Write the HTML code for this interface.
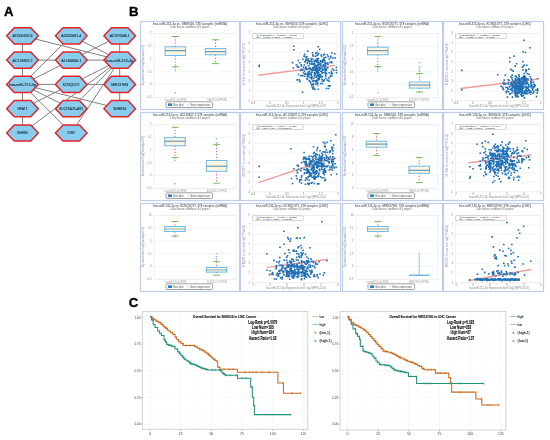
<!DOCTYPE html><html><head><meta charset="utf-8"><style>html,body{margin:0;padding:0;background:#fff;width:550px;height:440px;overflow:hidden}svg{display:block}text{font-family:"Liberation Sans",sans-serif}</style></head><body>
<svg width="550" height="440" viewBox="0 0 550 440"><g style="filter:opacity(0.999)">
<rect width="550" height="440" fill="#fff"/>
<text x="3.90" y="15.90" font-size="13.2" fill="#000" text-anchor="start" font-weight="bold" stroke="#000" stroke-width="0.35">A</text>
<text x="129.10" y="15.90" font-size="13.2" fill="#000" text-anchor="start" font-weight="bold" stroke="#000" stroke-width="0.35">B</text>
<text x="128.70" y="307.40" font-size="13.2" fill="#000" text-anchor="start" font-weight="bold" stroke="#000" stroke-width="0.35">C</text>
<g stroke="#808080" stroke-width="1" fill="none">
<line x1="22.5" y1="35.8" x2="22.5" y2="60.1"/>
<line x1="22.5" y1="60.1" x2="22.5" y2="84.4"/>
<line x1="22.5" y1="84.4" x2="22.5" y2="108.7"/>
<line x1="22.5" y1="108.7" x2="22.5" y2="133.0"/>
<line x1="119.7" y1="35.8" x2="119.7" y2="60.1"/>
<line x1="119.7" y1="60.1" x2="119.7" y2="84.4"/>
<line x1="119.7" y1="84.4" x2="119.7" y2="108.7"/>
<line x1="22.5" y1="60.1" x2="71.25" y2="60.1"/>
<line x1="71.25" y1="60.1" x2="119.7" y2="60.1"/>
<line x1="22.5" y1="84.4" x2="71.25" y2="84.4"/>
<line x1="71.25" y1="84.4" x2="119.7" y2="84.4"/>
<line x1="22.5" y1="35.8" x2="119.7" y2="60.1"/>
<line x1="71.25" y1="35.8" x2="119.7" y2="60.1"/>
<line x1="22.5" y1="84.4" x2="71.25" y2="35.8"/>
<line x1="22.5" y1="84.4" x2="119.7" y2="35.8"/>
<line x1="22.5" y1="84.4" x2="71.25" y2="108.7"/>
<line x1="22.5" y1="84.4" x2="71.25" y2="133.0"/>
<line x1="22.5" y1="84.4" x2="119.7" y2="108.7"/>
<line x1="119.7" y1="60.1" x2="22.5" y2="108.7"/>
<line x1="119.7" y1="60.1" x2="22.5" y2="133.0"/>
<line x1="119.7" y1="60.1" x2="71.25" y2="108.7"/>
<line x1="119.7" y1="60.1" x2="71.25" y2="133.0"/>
</g>
<polygon points="6.70,35.80 14.30,27.70 30.70,27.70 38.30,35.80 30.70,43.90 14.30,43.90" fill="#88cdee" stroke="#e4232b" stroke-width="1.5" stroke-linejoin="miter"/>
<text x="22.50" y="37.20" font-size="4.0" fill="#1c2a38" text-anchor="middle" font-weight="normal" textLength="20.0" lengthAdjust="spacingAndGlyphs" stroke="#1c2a38" stroke-width="0.12">AC005332.6</text>
<polygon points="6.70,60.10 14.30,52.00 30.70,52.00 38.30,60.10 30.70,68.20 14.30,68.20" fill="#88cdee" stroke="#e4232b" stroke-width="1.5" stroke-linejoin="miter"/>
<text x="22.50" y="61.50" font-size="4.0" fill="#1c2a38" text-anchor="middle" font-weight="normal" textLength="20.0" lengthAdjust="spacingAndGlyphs" stroke="#1c2a38" stroke-width="0.12">AC125807.2</text>
<polygon points="6.70,84.40 14.30,76.30 30.70,76.30 38.30,84.40 30.70,92.50 14.30,92.50" fill="#88cdee" stroke="#e4232b" stroke-width="1.5" stroke-linejoin="miter"/>
<text x="22.50" y="85.80" font-size="4.0" fill="#1c2a38" text-anchor="middle" font-weight="normal" textLength="27.0" lengthAdjust="spacingAndGlyphs" stroke="#1c2a38" stroke-width="0.12">hsa-miR-212-3p</text>
<polygon points="6.70,108.70 14.30,100.60 30.70,100.60 38.30,108.70 30.70,116.80 14.30,116.80" fill="#88cdee" stroke="#e4232b" stroke-width="1.5" stroke-linejoin="miter"/>
<text x="22.50" y="110.10" font-size="4.0" fill="#1c2a38" text-anchor="middle" font-weight="normal" textLength="10.0" lengthAdjust="spacingAndGlyphs" stroke="#1c2a38" stroke-width="0.12">NEAT1</text>
<polygon points="6.70,133.00 14.30,124.90 30.70,124.90 38.30,133.00 30.70,141.10 14.30,141.10" fill="#88cdee" stroke="#e4232b" stroke-width="1.5" stroke-linejoin="miter"/>
<text x="22.50" y="134.40" font-size="4.0" fill="#1c2a38" text-anchor="middle" font-weight="normal" textLength="11.0" lengthAdjust="spacingAndGlyphs" stroke="#1c2a38" stroke-width="0.12">SNHG5</text>
<polygon points="55.45,35.80 63.05,27.70 79.45,27.70 87.05,35.80 79.45,43.90 63.05,43.90" fill="#88cdee" stroke="#e4232b" stroke-width="1.5" stroke-linejoin="miter"/>
<text x="71.25" y="37.20" font-size="4.0" fill="#1c2a38" text-anchor="middle" font-weight="normal" textLength="20.0" lengthAdjust="spacingAndGlyphs" stroke="#1c2a38" stroke-width="0.12">AC020661.4</text>
<polygon points="55.45,60.10 63.05,52.00 79.45,52.00 87.05,60.10 79.45,68.20 63.05,68.20" fill="#88cdee" stroke="#e4232b" stroke-width="1.5" stroke-linejoin="miter"/>
<text x="71.25" y="61.50" font-size="4.0" fill="#1c2a38" text-anchor="middle" font-weight="normal" textLength="20.0" lengthAdjust="spacingAndGlyphs" stroke="#1c2a38" stroke-width="0.12">AL160006.1</text>
<polygon points="55.45,84.40 63.05,76.30 79.45,76.30 87.05,84.40 79.45,92.50 63.05,92.50" fill="#88cdee" stroke="#e4232b" stroke-width="1.5" stroke-linejoin="miter"/>
<text x="71.25" y="85.80" font-size="4.0" fill="#1c2a38" text-anchor="middle" font-weight="normal" textLength="17.0" lengthAdjust="spacingAndGlyphs" stroke="#1c2a38" stroke-width="0.12">KCNQ1OT1</text>
<polygon points="55.45,108.70 63.05,100.60 79.45,100.60 87.05,108.70 79.45,116.80 63.05,116.80" fill="#88cdee" stroke="#e4232b" stroke-width="1.5" stroke-linejoin="miter"/>
<text x="71.25" y="110.10" font-size="4.0" fill="#1c2a38" text-anchor="middle" font-weight="normal" textLength="24.0" lengthAdjust="spacingAndGlyphs" stroke="#1c2a38" stroke-width="0.12">SLC25A25-AS1</text>
<polygon points="55.45,133.00 63.05,124.90 79.45,124.90 87.05,133.00 79.45,141.10 63.05,141.10" fill="#88cdee" stroke="#e4232b" stroke-width="1.5" stroke-linejoin="miter"/>
<text x="71.25" y="134.40" font-size="4.0" fill="#1c2a38" text-anchor="middle" font-weight="normal" textLength="8.0" lengthAdjust="spacingAndGlyphs" stroke="#1c2a38" stroke-width="0.12">XIST</text>
<polygon points="103.90,35.80 111.50,27.70 127.90,27.70 135.50,35.80 127.90,43.90 111.50,43.90" fill="#88cdee" stroke="#e4232b" stroke-width="1.5" stroke-linejoin="miter"/>
<text x="119.70" y="37.20" font-size="4.0" fill="#1c2a38" text-anchor="middle" font-weight="normal" textLength="20.0" lengthAdjust="spacingAndGlyphs" stroke="#1c2a38" stroke-width="0.12">AC073046.1</text>
<polygon points="103.90,60.10 111.50,52.00 127.90,52.00 135.50,60.10 127.90,68.20 111.50,68.20" fill="#88cdee" stroke="#e4232b" stroke-width="1.5" stroke-linejoin="miter"/>
<text x="119.70" y="61.50" font-size="4.0" fill="#1c2a38" text-anchor="middle" font-weight="normal" textLength="27.0" lengthAdjust="spacingAndGlyphs" stroke="#1c2a38" stroke-width="0.12">hsa-miR-132-3p</text>
<polygon points="103.90,84.40 111.50,76.30 127.90,76.30 135.50,84.40 127.90,92.50 111.50,92.50" fill="#88cdee" stroke="#e4232b" stroke-width="1.5" stroke-linejoin="miter"/>
<text x="119.70" y="85.80" font-size="4.0" fill="#1c2a38" text-anchor="middle" font-weight="normal" textLength="17.0" lengthAdjust="spacingAndGlyphs" stroke="#1c2a38" stroke-width="0.12">MIR137HG</text>
<polygon points="103.90,108.70 111.50,100.60 127.90,100.60 135.50,108.70 127.90,116.80 111.50,116.80" fill="#88cdee" stroke="#e4232b" stroke-width="1.5" stroke-linejoin="miter"/>
<text x="119.70" y="110.10" font-size="4.0" fill="#1c2a38" text-anchor="middle" font-weight="normal" textLength="13.0" lengthAdjust="spacingAndGlyphs" stroke="#1c2a38" stroke-width="0.12">SNHG16</text>
<rect x="140.50" y="21.50" width="99.00" height="88.00" fill="#fff" stroke="#bfcde8" stroke-width="1.2"/>
<text x="190.00" y="24.80" font-size="2.7" fill="#6a6a6a" text-anchor="middle" font-weight="bold" textLength="74.0" lengthAdjust="spacingAndGlyphs">hsa-miR-212-3p vs. SNHG16, 578 samples (miRNA)</text>
<text x="190.00" y="28.20" font-size="2.7" fill="#666" text-anchor="middle" font-weight="normal" textLength="39.0" lengthAdjust="spacingAndGlyphs">Data Source: starBase v3.0 project</text>
<rect x="154" y="33.3" width="82" height="64.0" fill="#fff" stroke="#e6e6e6" stroke-width="0.6"/>
<line x1="154" y1="33.30" x2="236" y2="33.30" stroke="#efefef" stroke-width="0.6"/>
<text x="151.50" y="34.20" font-size="2.7" fill="#888" text-anchor="end" font-weight="normal">2</text>
<line x1="154" y1="46.10" x2="236" y2="46.10" stroke="#efefef" stroke-width="0.6"/>
<text x="151.50" y="47.00" font-size="2.7" fill="#888" text-anchor="end" font-weight="normal">1.5</text>
<line x1="154" y1="58.90" x2="236" y2="58.90" stroke="#efefef" stroke-width="0.6"/>
<text x="151.50" y="59.80" font-size="2.7" fill="#888" text-anchor="end" font-weight="normal">1</text>
<line x1="154" y1="71.70" x2="236" y2="71.70" stroke="#efefef" stroke-width="0.6"/>
<text x="151.50" y="72.60" font-size="2.7" fill="#888" text-anchor="end" font-weight="normal">0.5</text>
<line x1="154" y1="84.50" x2="236" y2="84.50" stroke="#efefef" stroke-width="0.6"/>
<text x="151.50" y="85.40" font-size="2.7" fill="#888" text-anchor="end" font-weight="normal">0</text>
<line x1="154" y1="97.30" x2="236" y2="97.30" stroke="#efefef" stroke-width="0.6"/>
<text x="151.50" y="98.20" font-size="2.7" fill="#888" text-anchor="end" font-weight="normal">-0.5</text>
<text x="144.30" y="65.30" font-size="2.8" fill="#888" text-anchor="middle" font-weight="normal" textLength="40.0" lengthAdjust="spacingAndGlyphs" transform="rotate(-90 144.30 65.30)">Expression level: log2(Intensity+0.01)</text>
<text x="175.50" y="100.90" font-size="2.6" fill="#999" text-anchor="middle" font-weight="normal" textLength="22.0" lengthAdjust="spacingAndGlyphs">hsa-miR-212-3p (RPM)</text>
<text x="217.00" y="100.90" font-size="2.6" fill="#999" text-anchor="middle" font-weight="normal" textLength="20.0" lengthAdjust="spacingAndGlyphs">SNHG16 (FPKM)</text>
<rect x="166" y="101.8" width="46.6" height="5.7" rx="1" fill="#fff" stroke="#8a8a8a" stroke-width="0.8"/>
<rect x="168" y="103.39999999999999" width="4" height="2.6" fill="#2a7fc0"/>
<text x="173.50" y="105.90" font-size="2.6" fill="#555" text-anchor="start" font-weight="normal" textLength="10.0" lengthAdjust="spacingAndGlyphs">Box plot</text>
<rect x="187.5" y="104.1" width="1.2" height="1.2" fill="#9cd0f0"/>
<text x="190.00" y="105.90" font-size="2.6" fill="#555" text-anchor="start" font-weight="normal" textLength="20.0" lengthAdjust="spacingAndGlyphs">Gene expression</text>
<line x1="175.30" y1="67.00" x2="175.30" y2="72.00" stroke="#7cc0ea" stroke-width="1.5" stroke-dasharray="1.3 1"/>
<rect x="174.50" y="92.00" width="1.6" height="1.40" fill="#8fc8ec"/>
<line x1="175.3" y1="36.5" x2="175.3" y2="46.8" stroke="#dc4848" stroke-width="1.1" stroke-dasharray="1 2"/>
<line x1="175.3" y1="55.5" x2="175.3" y2="66.8" stroke="#dc4848" stroke-width="1.1" stroke-dasharray="1 2"/>
<line x1="171.90" y1="36.5" x2="178.70" y2="36.5" stroke="#70c050" stroke-width="1"/>
<line x1="171.90" y1="66.8" x2="178.70" y2="66.8" stroke="#70c050" stroke-width="1"/>
<rect x="165.05" y="46.80" width="20.50" height="8.70" fill="#fcf6e0" stroke="#6cbbe8" stroke-width="1"/>
<line x1="165.05" y1="50.7" x2="185.55" y2="50.7" stroke="#3b78a8" stroke-width="0.9"/>
<line x1="215.5" y1="39.8" x2="215.5" y2="48.6" stroke="#dc4848" stroke-width="1.1" stroke-dasharray="1 2"/>
<line x1="215.5" y1="54.8" x2="215.5" y2="63.6" stroke="#dc4848" stroke-width="1.1" stroke-dasharray="1 2"/>
<line x1="212.10" y1="39.8" x2="218.90" y2="39.8" stroke="#70c050" stroke-width="1"/>
<line x1="212.10" y1="63.6" x2="218.90" y2="63.6" stroke="#70c050" stroke-width="1"/>
<rect x="205.25" y="48.60" width="20.50" height="6.20" fill="#fcf6e0" stroke="#6cbbe8" stroke-width="1"/>
<line x1="205.25" y1="51.7" x2="225.75" y2="51.7" stroke="#3b78a8" stroke-width="0.9"/>
<rect x="240.50" y="21.50" width="100.00" height="88.00" fill="#fff" stroke="#bfcde8" stroke-width="1.2"/>
<text x="292.00" y="24.80" font-size="2.7" fill="#6a6a6a" text-anchor="middle" font-weight="bold" textLength="72.0" lengthAdjust="spacingAndGlyphs">hsa-miR-212-3p vs. SNHG16, 578 samples (LIHC)</text>
<text x="292.00" y="28.20" font-size="2.7" fill="#666" text-anchor="middle" font-weight="normal" textLength="37.0" lengthAdjust="spacingAndGlyphs">Data Source: starBase v3.0 project</text>
<rect x="252.3" y="33.3" width="84.70" height="67.50" fill="#fff" stroke="#e6e6e6" stroke-width="0.6"/>
<line x1="252.3" y1="33.30" x2="337" y2="33.30" stroke="#efefef" stroke-width="0.6"/>
<text x="250.00" y="34.20" font-size="2.6" fill="#888" text-anchor="end" font-weight="normal">7</text>
<line x1="252.3" y1="42.94" x2="337" y2="42.94" stroke="#efefef" stroke-width="0.6"/>
<text x="250.00" y="43.84" font-size="2.6" fill="#888" text-anchor="end" font-weight="normal">6</text>
<line x1="252.3" y1="52.59" x2="337" y2="52.59" stroke="#efefef" stroke-width="0.6"/>
<text x="250.00" y="53.49" font-size="2.6" fill="#888" text-anchor="end" font-weight="normal">5</text>
<line x1="252.3" y1="62.23" x2="337" y2="62.23" stroke="#efefef" stroke-width="0.6"/>
<text x="250.00" y="63.13" font-size="2.6" fill="#888" text-anchor="end" font-weight="normal">4</text>
<line x1="252.3" y1="71.87" x2="337" y2="71.87" stroke="#efefef" stroke-width="0.6"/>
<text x="250.00" y="72.77" font-size="2.6" fill="#888" text-anchor="end" font-weight="normal">3</text>
<line x1="252.3" y1="81.51" x2="337" y2="81.51" stroke="#efefef" stroke-width="0.6"/>
<text x="250.00" y="82.41" font-size="2.6" fill="#888" text-anchor="end" font-weight="normal">2</text>
<line x1="252.3" y1="91.16" x2="337" y2="91.16" stroke="#efefef" stroke-width="0.6"/>
<text x="250.00" y="92.06" font-size="2.6" fill="#888" text-anchor="end" font-weight="normal">1</text>
<line x1="252.3" y1="100.80" x2="337" y2="100.80" stroke="#efefef" stroke-width="0.6"/>
<text x="250.00" y="101.70" font-size="2.6" fill="#888" text-anchor="end" font-weight="normal">0</text>
<text x="253.00" y="104.40" font-size="2.8" fill="#777" text-anchor="middle" font-weight="normal">-0.6</text>
<text x="269.94" y="104.40" font-size="2.8" fill="#777" text-anchor="middle" font-weight="normal">0</text>
<text x="286.88" y="104.40" font-size="2.8" fill="#777" text-anchor="middle" font-weight="normal">0.5</text>
<text x="303.82" y="104.40" font-size="2.8" fill="#777" text-anchor="middle" font-weight="normal">1</text>
<text x="320.76" y="104.40" font-size="2.8" fill="#777" text-anchor="middle" font-weight="normal">1.5</text>
<text x="337.70" y="104.40" font-size="2.8" fill="#777" text-anchor="middle" font-weight="normal">2</text>
<text x="296.00" y="107.30" font-size="2.6" fill="#888" text-anchor="middle" font-weight="normal" textLength="60.0" lengthAdjust="spacingAndGlyphs">hsa-miR-212-3p: Expression level: log2(RPM+0.01)</text>
<text x="245.20" y="64.50" font-size="2.6" fill="#888" text-anchor="middle" font-weight="normal" textLength="42.0" lengthAdjust="spacingAndGlyphs" transform="rotate(-90 245.20 64.50)">SNHG16: Expression level: log2(FPKM+0.01)</text>
<line x1="258.4" y1="75.2" x2="335" y2="65.4" stroke="#f29a9a" stroke-width="1.4"/>
<path d="M316.5 67.5h1.6v1.6h-1.6zM319.3 68.1h1.6v1.6h-1.6zM313.9 60.1h1.6v1.6h-1.6zM308.0 73.0h1.6v1.6h-1.6zM312.2 58.2h1.6v1.6h-1.6zM307.1 59.5h1.6v1.6h-1.6zM317.1 82.2h1.6v1.6h-1.6zM329.2 61.4h1.6v1.6h-1.6zM311.8 80.3h1.6v1.6h-1.6zM310.6 84.5h1.6v1.6h-1.6zM321.2 72.5h1.6v1.6h-1.6zM319.9 75.3h1.6v1.6h-1.6zM317.5 88.5h1.6v1.6h-1.6zM307.7 68.1h1.6v1.6h-1.6zM316.2 64.4h1.6v1.6h-1.6zM323.1 57.1h1.6v1.6h-1.6zM303.7 70.4h1.6v1.6h-1.6zM312.2 84.1h1.6v1.6h-1.6zM298.4 79.1h1.6v1.6h-1.6zM304.2 61.1h1.6v1.6h-1.6zM299.0 61.9h1.6v1.6h-1.6zM314.3 65.2h1.6v1.6h-1.6zM304.5 72.8h1.6v1.6h-1.6zM319.1 68.0h1.6v1.6h-1.6zM318.0 72.0h1.6v1.6h-1.6zM314.7 72.8h1.6v1.6h-1.6zM292.6 67.2h1.6v1.6h-1.6zM311.4 69.6h1.6v1.6h-1.6zM316.0 72.0h1.6v1.6h-1.6zM317.6 69.2h1.6v1.6h-1.6zM302.0 74.8h1.6v1.6h-1.6zM312.0 87.8h1.6v1.6h-1.6zM307.2 75.6h1.6v1.6h-1.6zM308.8 70.5h1.6v1.6h-1.6zM326.6 54.0h1.6v1.6h-1.6zM308.8 73.7h1.6v1.6h-1.6zM316.2 51.5h1.6v1.6h-1.6zM324.9 56.6h1.6v1.6h-1.6zM311.0 78.1h1.6v1.6h-1.6zM315.4 76.7h1.6v1.6h-1.6zM317.5 68.6h1.6v1.6h-1.6zM317.1 53.8h1.6v1.6h-1.6zM304.9 66.5h1.6v1.6h-1.6zM317.2 63.6h1.6v1.6h-1.6zM329.4 76.0h1.6v1.6h-1.6zM301.8 91.4h1.6v1.6h-1.6zM324.7 72.1h1.6v1.6h-1.6zM317.6 62.6h1.6v1.6h-1.6zM310.4 58.9h1.6v1.6h-1.6zM335.5 69.5h1.6v1.6h-1.6zM323.7 68.3h1.6v1.6h-1.6zM305.1 59.1h1.6v1.6h-1.6zM317.2 71.1h1.6v1.6h-1.6zM322.0 59.1h1.6v1.6h-1.6zM314.7 80.6h1.6v1.6h-1.6zM323.0 80.1h1.6v1.6h-1.6zM315.9 80.3h1.6v1.6h-1.6zM322.8 65.5h1.6v1.6h-1.6zM330.2 74.9h1.6v1.6h-1.6zM310.1 68.7h1.6v1.6h-1.6zM318.4 66.3h1.6v1.6h-1.6zM312.1 66.8h1.6v1.6h-1.6zM317.7 57.7h1.6v1.6h-1.6zM305.2 56.3h1.6v1.6h-1.6zM311.0 77.5h1.6v1.6h-1.6zM314.6 68.2h1.6v1.6h-1.6zM325.0 72.1h1.6v1.6h-1.6zM327.4 79.5h1.6v1.6h-1.6zM303.9 53.5h1.6v1.6h-1.6zM309.0 62.6h1.6v1.6h-1.6zM322.6 71.7h1.6v1.6h-1.6zM297.6 73.7h1.6v1.6h-1.6zM312.1 66.4h1.6v1.6h-1.6zM315.6 79.8h1.6v1.6h-1.6zM328.4 72.0h1.6v1.6h-1.6zM323.0 58.5h1.6v1.6h-1.6zM313.4 61.2h1.6v1.6h-1.6zM313.0 77.7h1.6v1.6h-1.6zM314.1 74.4h1.6v1.6h-1.6zM331.0 52.0h1.6v1.6h-1.6zM312.4 82.8h1.6v1.6h-1.6zM313.6 75.7h1.6v1.6h-1.6zM319.8 82.8h1.6v1.6h-1.6zM315.4 66.4h1.6v1.6h-1.6zM314.6 67.2h1.6v1.6h-1.6zM305.9 59.3h1.6v1.6h-1.6zM312.3 68.3h1.6v1.6h-1.6zM327.6 85.1h1.6v1.6h-1.6zM322.7 63.9h1.6v1.6h-1.6zM316.3 71.6h1.6v1.6h-1.6zM322.8 54.1h1.6v1.6h-1.6zM313.3 66.4h1.6v1.6h-1.6zM326.5 79.3h1.6v1.6h-1.6zM316.4 58.1h1.6v1.6h-1.6zM322.0 80.2h1.6v1.6h-1.6zM304.2 73.2h1.6v1.6h-1.6zM319.8 60.1h1.6v1.6h-1.6zM300.5 65.2h1.6v1.6h-1.6zM297.2 65.6h1.6v1.6h-1.6zM313.6 69.5h1.6v1.6h-1.6zM308.0 64.9h1.6v1.6h-1.6zM318.1 62.1h1.6v1.6h-1.6zM308.6 60.2h1.6v1.6h-1.6zM310.6 57.7h1.6v1.6h-1.6zM318.5 69.5h1.6v1.6h-1.6zM321.2 78.4h1.6v1.6h-1.6zM314.8 55.5h1.6v1.6h-1.6zM314.5 70.0h1.6v1.6h-1.6zM323.2 63.8h1.6v1.6h-1.6zM321.4 60.7h1.6v1.6h-1.6zM306.7 78.1h1.6v1.6h-1.6zM315.7 65.1h1.6v1.6h-1.6zM316.8 84.2h1.6v1.6h-1.6zM306.5 62.6h1.6v1.6h-1.6zM319.0 73.7h1.6v1.6h-1.6zM308.3 67.8h1.6v1.6h-1.6zM325.7 62.8h1.6v1.6h-1.6zM318.3 75.6h1.6v1.6h-1.6zM317.3 68.5h1.6v1.6h-1.6zM310.9 75.7h1.6v1.6h-1.6zM315.4 69.6h1.6v1.6h-1.6zM297.5 59.7h1.6v1.6h-1.6zM305.8 69.0h1.6v1.6h-1.6zM319.9 70.5h1.6v1.6h-1.6zM296.3 79.1h1.6v1.6h-1.6zM324.5 61.4h1.6v1.6h-1.6zM299.9 69.6h1.6v1.6h-1.6zM323.7 53.6h1.6v1.6h-1.6zM308.5 76.2h1.6v1.6h-1.6zM323.9 59.7h1.6v1.6h-1.6zM317.7 52.8h1.6v1.6h-1.6zM301.9 69.4h1.6v1.6h-1.6zM328.4 80.5h1.6v1.6h-1.6zM330.2 55.5h1.6v1.6h-1.6zM315.9 59.7h1.6v1.6h-1.6zM313.9 62.9h1.6v1.6h-1.6zM315.0 59.3h1.6v1.6h-1.6zM307.2 73.6h1.6v1.6h-1.6zM326.9 62.3h1.6v1.6h-1.6zM311.3 63.1h1.6v1.6h-1.6zM316.0 75.5h1.6v1.6h-1.6zM309.0 62.8h1.6v1.6h-1.6zM310.6 74.1h1.6v1.6h-1.6zM304.4 60.8h1.6v1.6h-1.6zM328.4 58.5h1.6v1.6h-1.6zM315.0 52.6h1.6v1.6h-1.6zM325.7 87.7h1.6v1.6h-1.6zM316.6 67.0h1.6v1.6h-1.6zM309.9 72.3h1.6v1.6h-1.6zM313.4 69.7h1.6v1.6h-1.6zM311.2 71.5h1.6v1.6h-1.6zM316.6 70.5h1.6v1.6h-1.6zM312.9 88.1h1.6v1.6h-1.6zM313.7 60.1h1.6v1.6h-1.6zM303.4 55.2h1.6v1.6h-1.6zM308.8 60.4h1.6v1.6h-1.6zM332.2 57.3h1.6v1.6h-1.6zM310.1 77.1h1.6v1.6h-1.6zM306.5 77.8h1.6v1.6h-1.6zM319.7 60.9h1.6v1.6h-1.6zM329.9 56.8h1.6v1.6h-1.6zM302.7 66.6h1.6v1.6h-1.6zM314.5 83.2h1.6v1.6h-1.6zM299.8 75.0h1.6v1.6h-1.6zM323.5 59.8h1.6v1.6h-1.6zM316.3 79.9h1.6v1.6h-1.6zM317.2 59.8h1.6v1.6h-1.6zM309.4 67.3h1.6v1.6h-1.6zM320.8 55.7h1.6v1.6h-1.6zM311.4 60.7h1.6v1.6h-1.6zM315.1 83.2h1.6v1.6h-1.6zM306.0 77.8h1.6v1.6h-1.6zM304.9 66.2h1.6v1.6h-1.6zM329.2 61.7h1.6v1.6h-1.6zM311.7 52.0h1.6v1.6h-1.6zM319.3 66.3h1.6v1.6h-1.6zM316.2 69.7h1.6v1.6h-1.6zM312.3 69.2h1.6v1.6h-1.6zM311.7 69.1h1.6v1.6h-1.6zM322.5 59.3h1.6v1.6h-1.6zM313.6 69.4h1.6v1.6h-1.6zM315.1 69.6h1.6v1.6h-1.6zM316.7 82.3h1.6v1.6h-1.6zM327.7 87.7h1.6v1.6h-1.6zM323.0 68.7h1.6v1.6h-1.6zM320.1 62.7h1.6v1.6h-1.6zM311.1 69.4h1.6v1.6h-1.6zM303.4 64.2h1.6v1.6h-1.6zM325.5 62.9h1.6v1.6h-1.6zM325.7 69.4h1.6v1.6h-1.6zM315.2 60.1h1.6v1.6h-1.6zM321.6 75.8h1.6v1.6h-1.6zM323.9 69.0h1.6v1.6h-1.6zM324.4 72.4h1.6v1.6h-1.6zM325.3 68.3h1.6v1.6h-1.6zM312.2 63.1h1.6v1.6h-1.6zM330.9 61.0h1.6v1.6h-1.6zM304.7 67.7h1.6v1.6h-1.6zM324.7 64.8h1.6v1.6h-1.6zM321.2 72.2h1.6v1.6h-1.6zM324.8 70.0h1.6v1.6h-1.6zM334.4 57.1h1.6v1.6h-1.6zM330.6 70.6h1.6v1.6h-1.6zM305.6 57.2h1.6v1.6h-1.6zM300.5 64.1h1.6v1.6h-1.6zM324.3 67.2h1.6v1.6h-1.6zM306.9 50.3h1.6v1.6h-1.6zM316.4 70.9h1.6v1.6h-1.6zM324.5 71.4h1.6v1.6h-1.6zM300.9 68.5h1.6v1.6h-1.6zM296.5 66.0h1.6v1.6h-1.6zM319.0 66.5h1.6v1.6h-1.6zM316.9 60.7h1.6v1.6h-1.6zM314.2 67.4h1.6v1.6h-1.6zM316.9 64.8h1.6v1.6h-1.6zM308.3 70.9h1.6v1.6h-1.6zM302.1 58.6h1.6v1.6h-1.6zM314.9 72.2h1.6v1.6h-1.6zM307.3 71.4h1.6v1.6h-1.6zM300.9 68.7h1.6v1.6h-1.6zM321.3 65.8h1.6v1.6h-1.6zM315.9 75.2h1.6v1.6h-1.6zM320.4 54.2h1.6v1.6h-1.6zM307.1 74.4h1.6v1.6h-1.6zM310.2 72.3h1.6v1.6h-1.6zM307.0 72.7h1.6v1.6h-1.6zM308.1 73.6h1.6v1.6h-1.6zM318.4 63.8h1.6v1.6h-1.6zM309.1 67.5h1.6v1.6h-1.6zM319.9 76.1h1.6v1.6h-1.6zM319.7 74.1h1.6v1.6h-1.6zM335.7 72.0h1.6v1.6h-1.6zM303.3 55.6h1.6v1.6h-1.6zM324.9 75.1h1.6v1.6h-1.6zM315.6 81.1h1.6v1.6h-1.6zM316.4 79.6h1.6v1.6h-1.6zM302.7 72.2h1.6v1.6h-1.6zM312.1 55.2h1.6v1.6h-1.6zM323.6 79.0h1.6v1.6h-1.6zM315.7 68.6h1.6v1.6h-1.6zM317.3 45.9h1.6v1.6h-1.6zM313.7 73.6h1.6v1.6h-1.6zM327.5 55.8h1.6v1.6h-1.6zM316.3 57.7h1.6v1.6h-1.6zM295.6 64.0h1.6v1.6h-1.6zM309.9 82.1h1.6v1.6h-1.6zM297.8 66.5h1.6v1.6h-1.6zM311.5 86.6h1.6v1.6h-1.6zM329.2 85.1h1.6v1.6h-1.6zM316.9 69.0h1.6v1.6h-1.6zM305.4 67.7h1.6v1.6h-1.6zM307.6 58.0h1.6v1.6h-1.6zM327.2 63.4h1.6v1.6h-1.6zM318.0 74.0h1.6v1.6h-1.6zM317.0 73.8h1.6v1.6h-1.6zM316.0 71.0h1.6v1.6h-1.6zM316.9 79.5h1.6v1.6h-1.6zM324.2 62.7h1.6v1.6h-1.6zM321.7 69.5h1.6v1.6h-1.6zM318.5 76.9h1.6v1.6h-1.6zM306.6 75.5h1.6v1.6h-1.6zM321.4 80.2h1.6v1.6h-1.6zM310.0 73.8h1.6v1.6h-1.6zM326.9 67.1h1.6v1.6h-1.6zM304.4 73.4h1.6v1.6h-1.6zM315.2 60.5h1.6v1.6h-1.6zM316.4 54.4h1.6v1.6h-1.6zM303.9 75.5h1.6v1.6h-1.6zM332.9 69.5h1.6v1.6h-1.6zM330.4 72.9h1.6v1.6h-1.6zM312.1 53.9h1.6v1.6h-1.6zM323.8 66.5h1.6v1.6h-1.6zM320.1 64.3h1.6v1.6h-1.6zM291.7 61.8h1.6v1.6h-1.6zM318.9 48.6h1.6v1.6h-1.6zM315.9 66.8h1.6v1.6h-1.6zM317.3 78.5h1.6v1.6h-1.6zM306.3 73.6h1.6v1.6h-1.6zM313.9 64.3h1.6v1.6h-1.6zM314.8 69.9h1.6v1.6h-1.6zM327.8 77.2h1.6v1.6h-1.6zM316.4 68.8h1.6v1.6h-1.6zM331.0 75.2h1.6v1.6h-1.6zM311.2 76.5h1.6v1.6h-1.6zM312.8 86.2h1.6v1.6h-1.6zM299.2 80.8h1.6v1.6h-1.6zM331.4 73.0h1.6v1.6h-1.6zM325.7 72.9h1.6v1.6h-1.6zM325.2 77.5h1.6v1.6h-1.6zM322.9 64.9h1.6v1.6h-1.6zM317.5 69.6h1.6v1.6h-1.6zM318.5 78.6h1.6v1.6h-1.6zM314.1 88.6h1.6v1.6h-1.6zM314.6 68.5h1.6v1.6h-1.6zM317.0 69.5h1.6v1.6h-1.6zM330.9 71.9h1.6v1.6h-1.6zM321.8 82.8h1.6v1.6h-1.6zM315.9 69.7h1.6v1.6h-1.6zM311.0 84.0h1.6v1.6h-1.6zM310.5 60.8h1.6v1.6h-1.6zM331.7 68.2h1.6v1.6h-1.6zM321.3 68.1h1.6v1.6h-1.6zM317.1 77.5h1.6v1.6h-1.6zM313.2 79.9h1.6v1.6h-1.6zM306.0 55.7h1.6v1.6h-1.6zM315.9 61.3h1.6v1.6h-1.6zM324.8 73.2h1.6v1.6h-1.6zM312.8 63.7h1.6v1.6h-1.6zM314.3 55.5h1.6v1.6h-1.6zM314.4 79.9h1.6v1.6h-1.6zM317.5 74.7h1.6v1.6h-1.6zM301.4 74.7h1.6v1.6h-1.6zM314.3 65.5h1.6v1.6h-1.6zM308.4 79.8h1.6v1.6h-1.6zM324.9 67.7h1.6v1.6h-1.6zM309.2 80.4h1.6v1.6h-1.6zM322.0 61.3h1.6v1.6h-1.6zM331.0 61.9h1.6v1.6h-1.6zM313.5 71.9h1.6v1.6h-1.6zM310.8 63.3h1.6v1.6h-1.6zM318.3 76.4h1.6v1.6h-1.6zM316.5 72.5h1.6v1.6h-1.6zM307.1 61.2h1.6v1.6h-1.6zM320.9 70.7h1.6v1.6h-1.6zM335.6 66.7h1.6v1.6h-1.6zM258.4 64.6h1.6v1.6h-1.6zM258.4 65.6h1.6v1.6h-1.6zM293.0 45.5h1.6v1.6h-1.6zM293.0 49.0h1.6v1.6h-1.6zM334.0 53.0h1.6v1.6h-1.6z" fill="#1f70b5"/>
<rect x="252.6" y="33.7" width="50.8" height="4.8" rx="0.8" fill="#fff" fill-opacity="0.85" stroke="#bbb" stroke-width="0.6"/>
<rect x="256.6" y="34.5" width="2" height="1.4" fill="#9fd3f2"/>
<rect x="256.6" y="36.5" width="2" height="1.4" fill="#5cb83c"/>
<text x="259.60" y="35.90" font-size="2.3" fill="#222" text-anchor="start" font-weight="normal" textLength="37.0" lengthAdjust="spacingAndGlyphs">Regression: y = 0.1052 x + 3.1088</text>
<text x="259.60" y="38.00" font-size="2.3" fill="#222" text-anchor="start" font-weight="normal" textLength="32.0" lengthAdjust="spacingAndGlyphs">r = 0.081, p-value = 0.0503</text>
<rect x="342.50" y="21.50" width="100.00" height="88.00" fill="#fff" stroke="#bfcde8" stroke-width="1.2"/>
<text x="392.00" y="24.80" font-size="2.7" fill="#6a6a6a" text-anchor="middle" font-weight="bold" textLength="74.0" lengthAdjust="spacingAndGlyphs">hsa-miR-212-3p vs. KCNQ1OT1, 578 samples (miRNA)</text>
<text x="392.00" y="28.20" font-size="2.7" fill="#666" text-anchor="middle" font-weight="normal" textLength="39.0" lengthAdjust="spacingAndGlyphs">Data Source: starBase v3.0 project</text>
<rect x="356" y="33.3" width="82" height="64.0" fill="#fff" stroke="#e6e6e6" stroke-width="0.6"/>
<line x1="356" y1="33.30" x2="438" y2="33.30" stroke="#efefef" stroke-width="0.6"/>
<text x="353.50" y="34.20" font-size="2.7" fill="#888" text-anchor="end" font-weight="normal">2</text>
<line x1="356" y1="46.10" x2="438" y2="46.10" stroke="#efefef" stroke-width="0.6"/>
<text x="353.50" y="47.00" font-size="2.7" fill="#888" text-anchor="end" font-weight="normal">1.5</text>
<line x1="356" y1="58.90" x2="438" y2="58.90" stroke="#efefef" stroke-width="0.6"/>
<text x="353.50" y="59.80" font-size="2.7" fill="#888" text-anchor="end" font-weight="normal">1</text>
<line x1="356" y1="71.70" x2="438" y2="71.70" stroke="#efefef" stroke-width="0.6"/>
<text x="353.50" y="72.60" font-size="2.7" fill="#888" text-anchor="end" font-weight="normal">0.5</text>
<line x1="356" y1="84.50" x2="438" y2="84.50" stroke="#efefef" stroke-width="0.6"/>
<text x="353.50" y="85.40" font-size="2.7" fill="#888" text-anchor="end" font-weight="normal">0</text>
<line x1="356" y1="97.30" x2="438" y2="97.30" stroke="#efefef" stroke-width="0.6"/>
<text x="353.50" y="98.20" font-size="2.7" fill="#888" text-anchor="end" font-weight="normal">-0.5</text>
<text x="346.30" y="65.30" font-size="2.8" fill="#888" text-anchor="middle" font-weight="normal" textLength="40.0" lengthAdjust="spacingAndGlyphs" transform="rotate(-90 346.30 65.30)">Expression level: log2(Intensity+0.01)</text>
<text x="377.50" y="100.90" font-size="2.6" fill="#999" text-anchor="middle" font-weight="normal" textLength="22.0" lengthAdjust="spacingAndGlyphs">hsa-miR-212-3p (RPM)</text>
<text x="419.00" y="100.90" font-size="2.6" fill="#999" text-anchor="middle" font-weight="normal" textLength="20.0" lengthAdjust="spacingAndGlyphs">KCNQ1OT1 (FPKM)</text>
<rect x="368" y="101.8" width="46.6" height="5.7" rx="1" fill="#fff" stroke="#8a8a8a" stroke-width="0.8"/>
<rect x="370" y="103.39999999999999" width="4" height="2.6" fill="#2a7fc0"/>
<text x="375.50" y="105.90" font-size="2.6" fill="#555" text-anchor="start" font-weight="normal" textLength="10.0" lengthAdjust="spacingAndGlyphs">Box plot</text>
<rect x="389.5" y="104.1" width="1.2" height="1.2" fill="#9cd0f0"/>
<text x="392.00" y="105.90" font-size="2.6" fill="#555" text-anchor="start" font-weight="normal" textLength="20.0" lengthAdjust="spacingAndGlyphs">Gene expression</text>
<line x1="377.80" y1="67.00" x2="377.80" y2="72.00" stroke="#7cc0ea" stroke-width="1.5" stroke-dasharray="1.3 1"/>
<rect x="377.00" y="92.00" width="1.6" height="1.40" fill="#8fc8ec"/>
<line x1="377.8" y1="36.4" x2="377.8" y2="47.2" stroke="#dc4848" stroke-width="1.1" stroke-dasharray="1 2"/>
<line x1="377.8" y1="54.8" x2="377.8" y2="66.6" stroke="#dc4848" stroke-width="1.1" stroke-dasharray="1 2"/>
<line x1="374.40" y1="36.4" x2="381.20" y2="36.4" stroke="#70c050" stroke-width="1"/>
<line x1="374.40" y1="66.6" x2="381.20" y2="66.6" stroke="#70c050" stroke-width="1"/>
<rect x="367.55" y="47.20" width="20.50" height="7.60" fill="#fcf6e0" stroke="#6cbbe8" stroke-width="1"/>
<line x1="367.55" y1="50.7" x2="388.05" y2="50.7" stroke="#3b78a8" stroke-width="0.9"/>
<rect x="418.70" y="62.00" width="1.6" height="1.40" fill="#8fc8ec"/>
<line x1="419.50" y1="66.00" x2="419.50" y2="73.00" stroke="#7cc0ea" stroke-width="1.5" stroke-dasharray="1.3 1"/>
<line x1="419.5" y1="73.6" x2="419.5" y2="82" stroke="#dc4848" stroke-width="1.1" stroke-dasharray="1 2"/>
<line x1="419.5" y1="88.1" x2="419.5" y2="92" stroke="#dc4848" stroke-width="1.1" stroke-dasharray="1 2"/>
<line x1="416.10" y1="73.6" x2="422.90" y2="73.6" stroke="#70c050" stroke-width="1"/>
<line x1="416.10" y1="92" x2="422.90" y2="92" stroke="#70c050" stroke-width="1"/>
<rect x="409.25" y="82.00" width="20.50" height="6.10" fill="#fcf6e0" stroke="#6cbbe8" stroke-width="1"/>
<line x1="409.25" y1="85" x2="429.75" y2="85" stroke="#3b78a8" stroke-width="0.9"/>
<rect x="443.50" y="21.50" width="100.00" height="88.00" fill="#fff" stroke="#bfcde8" stroke-width="1.2"/>
<text x="495.00" y="24.80" font-size="2.7" fill="#6a6a6a" text-anchor="middle" font-weight="bold" textLength="72.0" lengthAdjust="spacingAndGlyphs">hsa-miR-212-3p vs. KCNQ1OT1, 578 samples (LIHC)</text>
<text x="495.00" y="28.20" font-size="2.7" fill="#666" text-anchor="middle" font-weight="normal" textLength="37.0" lengthAdjust="spacingAndGlyphs">Data Source: starBase v3.0 project</text>
<rect x="455.3" y="33.3" width="84.70" height="67.50" fill="#fff" stroke="#e6e6e6" stroke-width="0.6"/>
<line x1="455.3" y1="33.30" x2="540" y2="33.30" stroke="#efefef" stroke-width="0.6"/>
<text x="453.00" y="34.20" font-size="2.6" fill="#888" text-anchor="end" font-weight="normal">8</text>
<line x1="455.3" y1="42.94" x2="540" y2="42.94" stroke="#efefef" stroke-width="0.6"/>
<text x="453.00" y="43.84" font-size="2.6" fill="#888" text-anchor="end" font-weight="normal">7</text>
<line x1="455.3" y1="52.59" x2="540" y2="52.59" stroke="#efefef" stroke-width="0.6"/>
<text x="453.00" y="53.49" font-size="2.6" fill="#888" text-anchor="end" font-weight="normal">6</text>
<line x1="455.3" y1="62.23" x2="540" y2="62.23" stroke="#efefef" stroke-width="0.6"/>
<text x="453.00" y="63.13" font-size="2.6" fill="#888" text-anchor="end" font-weight="normal">5</text>
<line x1="455.3" y1="71.87" x2="540" y2="71.87" stroke="#efefef" stroke-width="0.6"/>
<text x="453.00" y="72.77" font-size="2.6" fill="#888" text-anchor="end" font-weight="normal">4</text>
<line x1="455.3" y1="81.51" x2="540" y2="81.51" stroke="#efefef" stroke-width="0.6"/>
<text x="453.00" y="82.41" font-size="2.6" fill="#888" text-anchor="end" font-weight="normal">3</text>
<line x1="455.3" y1="91.16" x2="540" y2="91.16" stroke="#efefef" stroke-width="0.6"/>
<text x="453.00" y="92.06" font-size="2.6" fill="#888" text-anchor="end" font-weight="normal">2</text>
<line x1="455.3" y1="100.80" x2="540" y2="100.80" stroke="#efefef" stroke-width="0.6"/>
<text x="453.00" y="101.70" font-size="2.6" fill="#888" text-anchor="end" font-weight="normal">1</text>
<text x="456.00" y="104.40" font-size="2.8" fill="#777" text-anchor="middle" font-weight="normal">-0.6</text>
<text x="472.94" y="104.40" font-size="2.8" fill="#777" text-anchor="middle" font-weight="normal">0</text>
<text x="489.88" y="104.40" font-size="2.8" fill="#777" text-anchor="middle" font-weight="normal">0.5</text>
<text x="506.82" y="104.40" font-size="2.8" fill="#777" text-anchor="middle" font-weight="normal">1</text>
<text x="523.76" y="104.40" font-size="2.8" fill="#777" text-anchor="middle" font-weight="normal">1.5</text>
<text x="540.70" y="104.40" font-size="2.8" fill="#777" text-anchor="middle" font-weight="normal">2</text>
<text x="499.00" y="107.30" font-size="2.6" fill="#888" text-anchor="middle" font-weight="normal" textLength="60.0" lengthAdjust="spacingAndGlyphs">hsa-miR-212-3p: Expression level: log2(RPM+0.01)</text>
<text x="448.20" y="64.50" font-size="2.6" fill="#888" text-anchor="middle" font-weight="normal" textLength="42.0" lengthAdjust="spacingAndGlyphs" transform="rotate(-90 448.20 64.50)">KCNQ1OT1: Expression level: log2(FPKM+0.01)</text>
<line x1="460.4" y1="88.5" x2="537" y2="79.3" stroke="#f29a9a" stroke-width="1.4"/>
<path d="M527.8 84.9h1.6v1.6h-1.6zM514.6 92.6h1.6v1.6h-1.6zM516.3 88.1h1.6v1.6h-1.6zM530.3 91.4h1.6v1.6h-1.6zM537.0 89.9h1.6v1.6h-1.6zM521.9 82.9h1.6v1.6h-1.6zM533.0 91.0h1.6v1.6h-1.6zM518.9 85.4h1.6v1.6h-1.6zM511.7 96.3h1.6v1.6h-1.6zM521.0 95.5h1.6v1.6h-1.6zM523.8 77.2h1.6v1.6h-1.6zM513.0 82.2h1.6v1.6h-1.6zM506.0 90.3h1.6v1.6h-1.6zM507.8 90.9h1.6v1.6h-1.6zM525.7 90.7h1.6v1.6h-1.6zM513.6 86.6h1.6v1.6h-1.6zM518.8 89.3h1.6v1.6h-1.6zM521.8 90.3h1.6v1.6h-1.6zM525.3 86.6h1.6v1.6h-1.6zM517.2 92.1h1.6v1.6h-1.6zM524.2 75.7h1.6v1.6h-1.6zM512.4 90.2h1.6v1.6h-1.6zM516.9 81.8h1.6v1.6h-1.6zM511.3 91.8h1.6v1.6h-1.6zM529.6 85.9h1.6v1.6h-1.6zM519.8 82.6h1.6v1.6h-1.6zM513.7 88.9h1.6v1.6h-1.6zM517.0 82.4h1.6v1.6h-1.6zM518.1 82.4h1.6v1.6h-1.6zM526.0 79.2h1.6v1.6h-1.6zM506.4 86.9h1.6v1.6h-1.6zM511.2 89.5h1.6v1.6h-1.6zM516.8 92.1h1.6v1.6h-1.6zM528.1 92.2h1.6v1.6h-1.6zM519.1 87.1h1.6v1.6h-1.6zM526.1 86.5h1.6v1.6h-1.6zM518.0 92.3h1.6v1.6h-1.6zM516.9 85.3h1.6v1.6h-1.6zM530.3 85.8h1.6v1.6h-1.6zM524.2 86.2h1.6v1.6h-1.6zM525.7 87.4h1.6v1.6h-1.6zM515.7 82.5h1.6v1.6h-1.6zM536.4 92.1h1.6v1.6h-1.6zM534.5 85.0h1.6v1.6h-1.6zM524.8 89.3h1.6v1.6h-1.6zM525.8 82.9h1.6v1.6h-1.6zM502.8 88.8h1.6v1.6h-1.6zM525.4 89.0h1.6v1.6h-1.6zM518.4 84.9h1.6v1.6h-1.6zM523.7 97.1h1.6v1.6h-1.6zM525.8 88.9h1.6v1.6h-1.6zM517.1 95.9h1.6v1.6h-1.6zM505.6 91.8h1.6v1.6h-1.6zM523.1 83.7h1.6v1.6h-1.6zM513.7 85.1h1.6v1.6h-1.6zM517.2 89.2h1.6v1.6h-1.6zM514.9 87.3h1.6v1.6h-1.6zM517.1 87.2h1.6v1.6h-1.6zM500.4 85.6h1.6v1.6h-1.6zM530.3 78.0h1.6v1.6h-1.6zM522.2 85.9h1.6v1.6h-1.6zM529.4 75.9h1.6v1.6h-1.6zM536.8 88.9h1.6v1.6h-1.6zM520.2 83.4h1.6v1.6h-1.6zM504.7 83.4h1.6v1.6h-1.6zM512.4 85.9h1.6v1.6h-1.6zM509.7 88.4h1.6v1.6h-1.6zM515.7 79.8h1.6v1.6h-1.6zM520.7 78.3h1.6v1.6h-1.6zM503.0 81.7h1.6v1.6h-1.6zM522.9 76.8h1.6v1.6h-1.6zM507.2 82.2h1.6v1.6h-1.6zM522.5 95.0h1.6v1.6h-1.6zM519.1 81.7h1.6v1.6h-1.6zM517.3 90.3h1.6v1.6h-1.6zM519.4 80.1h1.6v1.6h-1.6zM515.4 88.5h1.6v1.6h-1.6zM514.8 85.4h1.6v1.6h-1.6zM505.7 86.7h1.6v1.6h-1.6zM519.7 89.8h1.6v1.6h-1.6zM535.7 95.8h1.6v1.6h-1.6zM536.8 88.0h1.6v1.6h-1.6zM531.2 87.6h1.6v1.6h-1.6zM526.0 82.1h1.6v1.6h-1.6zM514.2 89.9h1.6v1.6h-1.6zM532.3 85.8h1.6v1.6h-1.6zM519.5 91.2h1.6v1.6h-1.6zM519.4 86.8h1.6v1.6h-1.6zM517.5 95.7h1.6v1.6h-1.6zM520.8 77.1h1.6v1.6h-1.6zM516.3 85.5h1.6v1.6h-1.6zM519.3 91.4h1.6v1.6h-1.6zM510.8 85.2h1.6v1.6h-1.6zM516.8 83.0h1.6v1.6h-1.6zM519.4 80.1h1.6v1.6h-1.6zM518.0 87.6h1.6v1.6h-1.6zM526.0 92.7h1.6v1.6h-1.6zM510.5 81.5h1.6v1.6h-1.6zM518.2 82.6h1.6v1.6h-1.6zM527.8 85.0h1.6v1.6h-1.6zM522.3 92.0h1.6v1.6h-1.6zM521.0 82.9h1.6v1.6h-1.6zM533.2 83.5h1.6v1.6h-1.6zM514.2 91.4h1.6v1.6h-1.6zM520.7 91.3h1.6v1.6h-1.6zM515.6 85.1h1.6v1.6h-1.6zM532.7 81.4h1.6v1.6h-1.6zM503.4 79.3h1.6v1.6h-1.6zM514.3 83.5h1.6v1.6h-1.6zM515.5 75.8h1.6v1.6h-1.6zM525.6 90.7h1.6v1.6h-1.6zM525.2 83.8h1.6v1.6h-1.6zM531.9 89.4h1.6v1.6h-1.6zM506.6 96.3h1.6v1.6h-1.6zM526.4 92.9h1.6v1.6h-1.6zM517.5 81.2h1.6v1.6h-1.6zM514.3 91.3h1.6v1.6h-1.6zM524.6 92.8h1.6v1.6h-1.6zM512.2 83.3h1.6v1.6h-1.6zM502.3 82.2h1.6v1.6h-1.6zM516.9 86.5h1.6v1.6h-1.6zM507.3 79.0h1.6v1.6h-1.6zM514.5 94.4h1.6v1.6h-1.6zM523.2 75.0h1.6v1.6h-1.6zM522.7 81.5h1.6v1.6h-1.6zM533.5 85.7h1.6v1.6h-1.6zM518.3 85.9h1.6v1.6h-1.6zM507.0 87.8h1.6v1.6h-1.6zM513.6 88.4h1.6v1.6h-1.6zM512.2 85.9h1.6v1.6h-1.6zM509.6 92.7h1.6v1.6h-1.6zM523.7 76.3h1.6v1.6h-1.6zM514.5 87.0h1.6v1.6h-1.6zM503.2 83.4h1.6v1.6h-1.6zM525.9 87.7h1.6v1.6h-1.6zM519.1 88.1h1.6v1.6h-1.6zM523.0 82.4h1.6v1.6h-1.6zM520.9 83.8h1.6v1.6h-1.6zM525.4 91.0h1.6v1.6h-1.6zM520.3 88.7h1.6v1.6h-1.6zM530.5 83.6h1.6v1.6h-1.6zM523.6 97.2h1.6v1.6h-1.6zM523.5 79.7h1.6v1.6h-1.6zM507.6 88.5h1.6v1.6h-1.6zM517.8 90.9h1.6v1.6h-1.6zM521.8 88.1h1.6v1.6h-1.6zM508.5 86.0h1.6v1.6h-1.6zM533.9 84.3h1.6v1.6h-1.6zM520.9 85.9h1.6v1.6h-1.6zM509.7 84.2h1.6v1.6h-1.6zM505.5 90.7h1.6v1.6h-1.6zM517.6 85.0h1.6v1.6h-1.6zM519.2 84.8h1.6v1.6h-1.6zM513.9 81.0h1.6v1.6h-1.6zM520.8 86.8h1.6v1.6h-1.6zM514.6 82.5h1.6v1.6h-1.6zM524.7 86.1h1.6v1.6h-1.6zM513.8 92.2h1.6v1.6h-1.6zM519.7 88.8h1.6v1.6h-1.6zM528.3 89.5h1.6v1.6h-1.6zM511.4 87.3h1.6v1.6h-1.6zM516.1 86.4h1.6v1.6h-1.6zM512.9 85.5h1.6v1.6h-1.6zM526.7 90.8h1.6v1.6h-1.6zM510.2 81.6h1.6v1.6h-1.6zM515.9 93.7h1.6v1.6h-1.6zM519.7 87.2h1.6v1.6h-1.6zM511.7 83.3h1.6v1.6h-1.6zM511.9 84.6h1.6v1.6h-1.6zM516.0 83.6h1.6v1.6h-1.6zM502.1 87.8h1.6v1.6h-1.6zM507.7 83.4h1.6v1.6h-1.6zM516.5 92.7h1.6v1.6h-1.6zM521.3 83.1h1.6v1.6h-1.6zM518.4 75.6h1.6v1.6h-1.6zM504.9 83.3h1.6v1.6h-1.6zM516.1 77.0h1.6v1.6h-1.6zM526.8 86.8h1.6v1.6h-1.6zM524.7 92.3h1.6v1.6h-1.6zM519.3 90.2h1.6v1.6h-1.6zM512.5 80.3h1.6v1.6h-1.6zM525.4 83.2h1.6v1.6h-1.6zM515.1 95.9h1.6v1.6h-1.6zM510.1 88.6h1.6v1.6h-1.6zM513.2 87.0h1.6v1.6h-1.6zM532.3 92.3h1.6v1.6h-1.6zM529.9 93.5h1.6v1.6h-1.6zM515.9 87.7h1.6v1.6h-1.6zM528.0 88.8h1.6v1.6h-1.6zM514.9 90.1h1.6v1.6h-1.6zM518.7 83.9h1.6v1.6h-1.6zM526.5 87.3h1.6v1.6h-1.6zM515.7 82.3h1.6v1.6h-1.6zM519.3 86.7h1.6v1.6h-1.6zM522.8 87.5h1.6v1.6h-1.6zM515.8 82.7h1.6v1.6h-1.6zM505.2 86.4h1.6v1.6h-1.6zM517.6 86.2h1.6v1.6h-1.6zM520.1 89.2h1.6v1.6h-1.6zM520.9 92.2h1.6v1.6h-1.6zM531.2 84.5h1.6v1.6h-1.6zM522.7 82.9h1.6v1.6h-1.6zM526.9 78.8h1.6v1.6h-1.6zM510.6 82.4h1.6v1.6h-1.6zM527.4 89.7h1.6v1.6h-1.6zM526.6 81.9h1.6v1.6h-1.6zM522.2 85.1h1.6v1.6h-1.6zM521.3 87.2h1.6v1.6h-1.6zM535.2 89.5h1.6v1.6h-1.6zM512.1 84.0h1.6v1.6h-1.6zM519.1 85.7h1.6v1.6h-1.6zM523.9 77.9h1.6v1.6h-1.6zM526.3 81.2h1.6v1.6h-1.6zM516.3 95.1h1.6v1.6h-1.6zM522.6 76.1h1.6v1.6h-1.6zM517.6 85.3h1.6v1.6h-1.6zM521.0 88.1h1.6v1.6h-1.6zM518.9 85.1h1.6v1.6h-1.6zM510.3 83.0h1.6v1.6h-1.6zM519.8 86.7h1.6v1.6h-1.6zM527.5 87.0h1.6v1.6h-1.6zM511.8 86.6h1.6v1.6h-1.6zM518.0 77.6h1.6v1.6h-1.6zM525.7 86.3h1.6v1.6h-1.6zM510.9 82.7h1.6v1.6h-1.6zM521.6 84.3h1.6v1.6h-1.6zM511.0 88.1h1.6v1.6h-1.6zM529.6 90.2h1.6v1.6h-1.6zM518.1 91.6h1.6v1.6h-1.6zM526.3 92.9h1.6v1.6h-1.6zM521.0 92.7h1.6v1.6h-1.6zM520.9 93.9h1.6v1.6h-1.6zM533.2 86.3h1.6v1.6h-1.6zM508.8 86.1h1.6v1.6h-1.6zM529.0 91.1h1.6v1.6h-1.6zM519.6 80.2h1.6v1.6h-1.6zM532.0 88.0h1.6v1.6h-1.6zM521.6 84.3h1.6v1.6h-1.6zM514.3 85.2h1.6v1.6h-1.6zM522.4 78.3h1.6v1.6h-1.6zM526.3 82.5h1.6v1.6h-1.6zM520.3 86.9h1.6v1.6h-1.6zM524.1 91.4h1.6v1.6h-1.6zM515.6 92.0h1.6v1.6h-1.6zM501.9 86.6h1.6v1.6h-1.6zM527.7 86.1h1.6v1.6h-1.6zM525.9 82.8h1.6v1.6h-1.6zM521.3 89.0h1.6v1.6h-1.6zM520.6 85.8h1.6v1.6h-1.6zM528.8 90.0h1.6v1.6h-1.6zM516.1 95.8h1.6v1.6h-1.6zM514.0 86.8h1.6v1.6h-1.6zM518.4 79.5h1.6v1.6h-1.6zM530.1 82.7h1.6v1.6h-1.6zM508.2 79.7h1.6v1.6h-1.6zM530.1 81.0h1.6v1.6h-1.6zM514.6 93.5h1.6v1.6h-1.6zM510.6 88.1h1.6v1.6h-1.6zM530.7 79.4h1.6v1.6h-1.6zM519.2 90.3h1.6v1.6h-1.6zM508.9 93.3h1.6v1.6h-1.6zM517.0 85.2h1.6v1.6h-1.6zM527.9 83.6h1.6v1.6h-1.6zM530.1 85.3h1.6v1.6h-1.6zM516.4 88.4h1.6v1.6h-1.6zM523.5 90.2h1.6v1.6h-1.6zM526.1 92.9h1.6v1.6h-1.6zM514.5 93.1h1.6v1.6h-1.6zM523.0 92.9h1.6v1.6h-1.6zM519.7 93.8h1.6v1.6h-1.6zM515.4 90.3h1.6v1.6h-1.6zM515.8 79.3h1.6v1.6h-1.6zM520.6 86.3h1.6v1.6h-1.6zM520.3 88.6h1.6v1.6h-1.6zM515.2 85.1h1.6v1.6h-1.6zM525.5 78.0h1.6v1.6h-1.6zM514.4 65.3h1.6v1.6h-1.6zM524.0 75.4h1.6v1.6h-1.6zM525.6 69.3h1.6v1.6h-1.6zM522.0 60.7h1.6v1.6h-1.6zM515.9 79.9h1.6v1.6h-1.6zM514.1 80.6h1.6v1.6h-1.6zM527.2 78.2h1.6v1.6h-1.6zM513.2 55.3h1.6v1.6h-1.6zM517.3 78.0h1.6v1.6h-1.6zM521.4 81.8h1.6v1.6h-1.6zM524.7 76.7h1.6v1.6h-1.6zM514.5 78.1h1.6v1.6h-1.6zM524.6 51.7h1.6v1.6h-1.6zM522.0 69.1h1.6v1.6h-1.6zM536.9 77.9h1.6v1.6h-1.6zM528.3 73.4h1.6v1.6h-1.6zM519.2 79.5h1.6v1.6h-1.6zM525.4 81.3h1.6v1.6h-1.6zM522.0 76.7h1.6v1.6h-1.6zM516.8 79.1h1.6v1.6h-1.6zM523.5 79.5h1.6v1.6h-1.6zM522.5 65.6h1.6v1.6h-1.6zM529.1 47.0h1.6v1.6h-1.6zM511.1 77.1h1.6v1.6h-1.6zM511.4 74.3h1.6v1.6h-1.6zM514.9 79.5h1.6v1.6h-1.6zM523.5 64.3h1.6v1.6h-1.6zM526.0 64.4h1.6v1.6h-1.6zM518.8 77.9h1.6v1.6h-1.6zM519.8 80.3h1.6v1.6h-1.6zM509.8 68.4h1.6v1.6h-1.6zM514.6 75.3h1.6v1.6h-1.6zM525.0 69.1h1.6v1.6h-1.6zM524.6 79.3h1.6v1.6h-1.6zM526.6 73.0h1.6v1.6h-1.6zM523.7 82.0h1.6v1.6h-1.6zM504.5 74.3h1.6v1.6h-1.6zM521.3 80.6h1.6v1.6h-1.6zM521.7 66.5h1.6v1.6h-1.6zM511.5 79.0h1.6v1.6h-1.6zM530.8 81.5h1.6v1.6h-1.6zM518.7 81.1h1.6v1.6h-1.6zM525.3 79.5h1.6v1.6h-1.6zM524.3 80.5h1.6v1.6h-1.6zM523.3 72.7h1.6v1.6h-1.6zM528.0 68.3h1.6v1.6h-1.6zM518.7 79.4h1.6v1.6h-1.6zM525.3 71.1h1.6v1.6h-1.6zM522.3 50.9h1.6v1.6h-1.6zM512.3 80.8h1.6v1.6h-1.6zM515.7 62.9h1.6v1.6h-1.6zM512.4 70.3h1.6v1.6h-1.6zM508.9 61.0h1.6v1.6h-1.6zM510.2 75.9h1.6v1.6h-1.6zM522.4 80.3h1.6v1.6h-1.6zM511.0 69.5h1.6v1.6h-1.6zM525.5 79.4h1.6v1.6h-1.6zM518.0 73.9h1.6v1.6h-1.6zM461.0 69.6h1.6v1.6h-1.6zM461.0 89.0h1.6v1.6h-1.6zM523.0 39.6h1.6v1.6h-1.6zM509.0 57.0h1.6v1.6h-1.6zM497.0 74.0h1.6v1.6h-1.6z" fill="#1f70b5"/>
<rect x="455.6" y="33.7" width="50.8" height="4.8" rx="0.8" fill="#fff" fill-opacity="0.85" stroke="#bbb" stroke-width="0.6"/>
<rect x="459.6" y="34.5" width="2" height="1.4" fill="#9fd3f2"/>
<rect x="459.6" y="36.5" width="2" height="1.4" fill="#5cb83c"/>
<text x="462.60" y="35.90" font-size="2.3" fill="#222" text-anchor="start" font-weight="normal" textLength="37.0" lengthAdjust="spacingAndGlyphs">Regression: y = 0.3032 x + 2.1085</text>
<text x="462.60" y="38.00" font-size="2.3" fill="#222" text-anchor="start" font-weight="normal" textLength="32.0" lengthAdjust="spacingAndGlyphs">r = 0.135, p-value = 0.0012</text>
<rect x="140.50" y="112.50" width="99.00" height="88.00" fill="#fff" stroke="#bfcde8" stroke-width="1.2"/>
<text x="190.00" y="115.80" font-size="2.7" fill="#6a6a6a" text-anchor="middle" font-weight="bold" textLength="74.0" lengthAdjust="spacingAndGlyphs">hsa-miR-212-3p vs. AC125807.2, 578 samples (miRNA)</text>
<text x="190.00" y="119.20" font-size="2.7" fill="#666" text-anchor="middle" font-weight="normal" textLength="39.0" lengthAdjust="spacingAndGlyphs">Data Source: starBase v3.0 project</text>
<rect x="154" y="124.3" width="82" height="64.00000000000001" fill="#fff" stroke="#e6e6e6" stroke-width="0.6"/>
<line x1="154" y1="124.30" x2="236" y2="124.30" stroke="#efefef" stroke-width="0.6"/>
<text x="151.50" y="125.20" font-size="2.7" fill="#888" text-anchor="end" font-weight="normal">2</text>
<line x1="154" y1="137.10" x2="236" y2="137.10" stroke="#efefef" stroke-width="0.6"/>
<text x="151.50" y="138.00" font-size="2.7" fill="#888" text-anchor="end" font-weight="normal">1.5</text>
<line x1="154" y1="149.90" x2="236" y2="149.90" stroke="#efefef" stroke-width="0.6"/>
<text x="151.50" y="150.80" font-size="2.7" fill="#888" text-anchor="end" font-weight="normal">1</text>
<line x1="154" y1="162.70" x2="236" y2="162.70" stroke="#efefef" stroke-width="0.6"/>
<text x="151.50" y="163.60" font-size="2.7" fill="#888" text-anchor="end" font-weight="normal">0.5</text>
<line x1="154" y1="175.50" x2="236" y2="175.50" stroke="#efefef" stroke-width="0.6"/>
<text x="151.50" y="176.40" font-size="2.7" fill="#888" text-anchor="end" font-weight="normal">0</text>
<line x1="154" y1="188.30" x2="236" y2="188.30" stroke="#efefef" stroke-width="0.6"/>
<text x="151.50" y="189.20" font-size="2.7" fill="#888" text-anchor="end" font-weight="normal">-0.5</text>
<text x="144.30" y="156.30" font-size="2.8" fill="#888" text-anchor="middle" font-weight="normal" textLength="40.0" lengthAdjust="spacingAndGlyphs" transform="rotate(-90 144.30 156.30)">Expression level: log2(Intensity+0.01)</text>
<text x="175.50" y="191.90" font-size="2.6" fill="#999" text-anchor="middle" font-weight="normal" textLength="22.0" lengthAdjust="spacingAndGlyphs">hsa-miR-212-3p (RPM)</text>
<text x="217.00" y="191.90" font-size="2.6" fill="#999" text-anchor="middle" font-weight="normal" textLength="20.0" lengthAdjust="spacingAndGlyphs">AC125807.2 (FPKM)</text>
<rect x="166" y="192.8" width="46.6" height="5.7" rx="1" fill="#fff" stroke="#8a8a8a" stroke-width="0.8"/>
<rect x="168" y="194.4" width="4" height="2.6" fill="#2a7fc0"/>
<text x="173.50" y="196.90" font-size="2.6" fill="#555" text-anchor="start" font-weight="normal" textLength="10.0" lengthAdjust="spacingAndGlyphs">Box plot</text>
<rect x="187.5" y="195.10000000000002" width="1.2" height="1.2" fill="#9cd0f0"/>
<text x="190.00" y="196.90" font-size="2.6" fill="#555" text-anchor="start" font-weight="normal" textLength="20.0" lengthAdjust="spacingAndGlyphs">Gene expression</text>
<line x1="175.00" y1="157.50" x2="175.00" y2="162.00" stroke="#7cc0ea" stroke-width="1.5" stroke-dasharray="1.3 1"/>
<rect x="174.20" y="183.00" width="1.6" height="1.40" fill="#8fc8ec"/>
<line x1="175" y1="127.3" x2="175" y2="137.6" stroke="#dc4848" stroke-width="1.1" stroke-dasharray="1 2"/>
<line x1="175" y1="145.7" x2="175" y2="157.4" stroke="#dc4848" stroke-width="1.1" stroke-dasharray="1 2"/>
<line x1="171.60" y1="127.3" x2="178.40" y2="127.3" stroke="#70c050" stroke-width="1"/>
<line x1="171.60" y1="157.4" x2="178.40" y2="157.4" stroke="#70c050" stroke-width="1"/>
<rect x="164.75" y="137.60" width="20.50" height="8.10" fill="#fcf6e0" stroke="#6cbbe8" stroke-width="1"/>
<line x1="164.75" y1="141.2" x2="185.25" y2="141.2" stroke="#3b78a8" stroke-width="0.9"/>
<rect x="215.80" y="138.00" width="1.6" height="1.40" fill="#8fc8ec"/>
<rect x="215.80" y="142.00" width="1.6" height="2.50" fill="#8fc8ec"/>
<line x1="216.6" y1="144.7" x2="216.6" y2="160.5" stroke="#dc4848" stroke-width="1.1" stroke-dasharray="1 2"/>
<line x1="216.6" y1="171.3" x2="216.6" y2="183.2" stroke="#dc4848" stroke-width="1.1" stroke-dasharray="1 2"/>
<line x1="213.20" y1="144.7" x2="220.00" y2="144.7" stroke="#70c050" stroke-width="1"/>
<line x1="213.20" y1="183.2" x2="220.00" y2="183.2" stroke="#70c050" stroke-width="1"/>
<rect x="206.35" y="160.50" width="20.50" height="10.80" fill="#fcf6e0" stroke="#6cbbe8" stroke-width="1"/>
<line x1="206.35" y1="166.2" x2="226.85" y2="166.2" stroke="#3b78a8" stroke-width="0.9"/>
<rect x="240.50" y="112.50" width="100.00" height="88.00" fill="#fff" stroke="#bfcde8" stroke-width="1.2"/>
<text x="292.00" y="115.80" font-size="2.7" fill="#6a6a6a" text-anchor="middle" font-weight="bold" textLength="72.0" lengthAdjust="spacingAndGlyphs">hsa-miR-212-3p vs. AC125807.2, 578 samples (LIHC)</text>
<text x="292.00" y="119.20" font-size="2.7" fill="#666" text-anchor="middle" font-weight="normal" textLength="37.0" lengthAdjust="spacingAndGlyphs">Data Source: starBase v3.0 project</text>
<rect x="252.3" y="124.3" width="84.70" height="67.50" fill="#fff" stroke="#e6e6e6" stroke-width="0.6"/>
<line x1="252.3" y1="124.30" x2="337" y2="124.30" stroke="#efefef" stroke-width="0.6"/>
<text x="250.00" y="125.20" font-size="2.6" fill="#888" text-anchor="end" font-weight="normal">4</text>
<line x1="252.3" y1="133.94" x2="337" y2="133.94" stroke="#efefef" stroke-width="0.6"/>
<text x="250.00" y="134.84" font-size="2.6" fill="#888" text-anchor="end" font-weight="normal">3</text>
<line x1="252.3" y1="143.59" x2="337" y2="143.59" stroke="#efefef" stroke-width="0.6"/>
<text x="250.00" y="144.49" font-size="2.6" fill="#888" text-anchor="end" font-weight="normal">2</text>
<line x1="252.3" y1="153.23" x2="337" y2="153.23" stroke="#efefef" stroke-width="0.6"/>
<text x="250.00" y="154.13" font-size="2.6" fill="#888" text-anchor="end" font-weight="normal">1</text>
<line x1="252.3" y1="162.87" x2="337" y2="162.87" stroke="#efefef" stroke-width="0.6"/>
<text x="250.00" y="163.77" font-size="2.6" fill="#888" text-anchor="end" font-weight="normal">0</text>
<line x1="252.3" y1="172.51" x2="337" y2="172.51" stroke="#efefef" stroke-width="0.6"/>
<text x="250.00" y="173.41" font-size="2.6" fill="#888" text-anchor="end" font-weight="normal">-1</text>
<line x1="252.3" y1="182.16" x2="337" y2="182.16" stroke="#efefef" stroke-width="0.6"/>
<text x="250.00" y="183.06" font-size="2.6" fill="#888" text-anchor="end" font-weight="normal">-2</text>
<line x1="252.3" y1="191.80" x2="337" y2="191.80" stroke="#efefef" stroke-width="0.6"/>
<text x="250.00" y="192.70" font-size="2.6" fill="#888" text-anchor="end" font-weight="normal">-3</text>
<text x="253.00" y="195.40" font-size="2.8" fill="#777" text-anchor="middle" font-weight="normal">-0.6</text>
<text x="269.94" y="195.40" font-size="2.8" fill="#777" text-anchor="middle" font-weight="normal">0</text>
<text x="286.88" y="195.40" font-size="2.8" fill="#777" text-anchor="middle" font-weight="normal">0.5</text>
<text x="303.82" y="195.40" font-size="2.8" fill="#777" text-anchor="middle" font-weight="normal">1</text>
<text x="320.76" y="195.40" font-size="2.8" fill="#777" text-anchor="middle" font-weight="normal">1.5</text>
<text x="337.70" y="195.40" font-size="2.8" fill="#777" text-anchor="middle" font-weight="normal">2</text>
<text x="296.00" y="198.30" font-size="2.6" fill="#888" text-anchor="middle" font-weight="normal" textLength="60.0" lengthAdjust="spacingAndGlyphs">hsa-miR-212-3p: Expression level: log2(RPM+0.01)</text>
<text x="245.20" y="155.50" font-size="2.6" fill="#888" text-anchor="middle" font-weight="normal" textLength="42.0" lengthAdjust="spacingAndGlyphs" transform="rotate(-90 245.20 155.50)">AC125807.2: Expression level: log2(FPKM+0.01)</text>
<line x1="258.4" y1="182.6" x2="335" y2="157" stroke="#f29a9a" stroke-width="1.4"/>
<path d="M304.5 179.5h1.6v1.6h-1.6zM320.2 158.6h1.6v1.6h-1.6zM319.9 156.2h1.6v1.6h-1.6zM304.0 172.1h1.6v1.6h-1.6zM307.6 176.5h1.6v1.6h-1.6zM322.1 164.9h1.6v1.6h-1.6zM322.5 170.8h1.6v1.6h-1.6zM310.9 167.6h1.6v1.6h-1.6zM322.9 172.1h1.6v1.6h-1.6zM322.4 172.4h1.6v1.6h-1.6zM300.1 169.9h1.6v1.6h-1.6zM314.0 177.4h1.6v1.6h-1.6zM320.9 163.8h1.6v1.6h-1.6zM311.6 166.9h1.6v1.6h-1.6zM296.7 164.3h1.6v1.6h-1.6zM314.3 162.6h1.6v1.6h-1.6zM324.1 167.8h1.6v1.6h-1.6zM332.0 146.8h1.6v1.6h-1.6zM296.2 177.8h1.6v1.6h-1.6zM306.3 170.6h1.6v1.6h-1.6zM326.1 141.6h1.6v1.6h-1.6zM328.7 158.4h1.6v1.6h-1.6zM326.3 165.8h1.6v1.6h-1.6zM318.4 156.9h1.6v1.6h-1.6zM306.0 169.2h1.6v1.6h-1.6zM323.0 141.4h1.6v1.6h-1.6zM310.2 172.4h1.6v1.6h-1.6zM293.0 168.0h1.6v1.6h-1.6zM323.7 145.6h1.6v1.6h-1.6zM334.3 163.0h1.6v1.6h-1.6zM308.3 165.5h1.6v1.6h-1.6zM330.9 165.3h1.6v1.6h-1.6zM332.1 150.1h1.6v1.6h-1.6zM331.8 152.8h1.6v1.6h-1.6zM316.8 183.1h1.6v1.6h-1.6zM305.6 161.5h1.6v1.6h-1.6zM315.3 158.7h1.6v1.6h-1.6zM296.1 170.0h1.6v1.6h-1.6zM300.8 161.8h1.6v1.6h-1.6zM317.9 173.8h1.6v1.6h-1.6zM307.6 182.4h1.6v1.6h-1.6zM315.4 158.6h1.6v1.6h-1.6zM316.0 149.7h1.6v1.6h-1.6zM335.3 166.6h1.6v1.6h-1.6zM329.3 168.5h1.6v1.6h-1.6zM316.6 171.2h1.6v1.6h-1.6zM328.5 169.2h1.6v1.6h-1.6zM309.6 159.6h1.6v1.6h-1.6zM313.8 163.8h1.6v1.6h-1.6zM325.6 148.8h1.6v1.6h-1.6zM305.2 156.7h1.6v1.6h-1.6zM314.3 173.4h1.6v1.6h-1.6zM304.5 163.3h1.6v1.6h-1.6zM318.1 182.9h1.6v1.6h-1.6zM332.5 158.4h1.6v1.6h-1.6zM309.9 161.4h1.6v1.6h-1.6zM319.1 169.9h1.6v1.6h-1.6zM308.5 182.7h1.6v1.6h-1.6zM306.1 172.5h1.6v1.6h-1.6zM305.3 158.4h1.6v1.6h-1.6zM330.8 161.6h1.6v1.6h-1.6zM321.6 158.0h1.6v1.6h-1.6zM310.2 160.1h1.6v1.6h-1.6zM323.7 170.0h1.6v1.6h-1.6zM313.8 166.5h1.6v1.6h-1.6zM324.6 151.6h1.6v1.6h-1.6zM319.8 159.7h1.6v1.6h-1.6zM319.7 156.5h1.6v1.6h-1.6zM322.8 164.2h1.6v1.6h-1.6zM311.5 167.1h1.6v1.6h-1.6zM313.2 175.3h1.6v1.6h-1.6zM300.6 176.6h1.6v1.6h-1.6zM312.8 152.4h1.6v1.6h-1.6zM303.5 172.9h1.6v1.6h-1.6zM315.6 172.2h1.6v1.6h-1.6zM307.9 171.5h1.6v1.6h-1.6zM318.0 172.4h1.6v1.6h-1.6zM321.3 157.6h1.6v1.6h-1.6zM303.5 161.3h1.6v1.6h-1.6zM309.3 175.0h1.6v1.6h-1.6zM308.0 158.5h1.6v1.6h-1.6zM324.1 142.8h1.6v1.6h-1.6zM333.2 166.2h1.6v1.6h-1.6zM325.1 154.6h1.6v1.6h-1.6zM313.7 162.7h1.6v1.6h-1.6zM330.9 146.6h1.6v1.6h-1.6zM302.6 158.5h1.6v1.6h-1.6zM331.2 148.5h1.6v1.6h-1.6zM310.8 163.4h1.6v1.6h-1.6zM290.6 177.7h1.6v1.6h-1.6zM332.0 164.4h1.6v1.6h-1.6zM307.2 157.9h1.6v1.6h-1.6zM318.6 154.3h1.6v1.6h-1.6zM315.0 170.6h1.6v1.6h-1.6zM318.0 163.0h1.6v1.6h-1.6zM302.9 156.6h1.6v1.6h-1.6zM310.5 182.3h1.6v1.6h-1.6zM321.4 154.9h1.6v1.6h-1.6zM319.1 165.3h1.6v1.6h-1.6zM328.4 161.1h1.6v1.6h-1.6zM317.8 175.7h1.6v1.6h-1.6zM310.2 175.3h1.6v1.6h-1.6zM319.5 156.7h1.6v1.6h-1.6zM298.8 180.8h1.6v1.6h-1.6zM305.1 162.3h1.6v1.6h-1.6zM329.6 155.9h1.6v1.6h-1.6zM308.0 183.7h1.6v1.6h-1.6zM322.0 164.7h1.6v1.6h-1.6zM316.4 165.2h1.6v1.6h-1.6zM313.7 168.4h1.6v1.6h-1.6zM312.1 159.0h1.6v1.6h-1.6zM312.4 172.1h1.6v1.6h-1.6zM324.2 151.1h1.6v1.6h-1.6zM323.2 171.1h1.6v1.6h-1.6zM311.5 176.4h1.6v1.6h-1.6zM308.4 162.6h1.6v1.6h-1.6zM319.7 157.6h1.6v1.6h-1.6zM316.0 165.9h1.6v1.6h-1.6zM326.8 160.2h1.6v1.6h-1.6zM325.0 165.6h1.6v1.6h-1.6zM316.7 146.8h1.6v1.6h-1.6zM315.4 161.0h1.6v1.6h-1.6zM308.9 163.8h1.6v1.6h-1.6zM308.4 165.1h1.6v1.6h-1.6zM307.5 170.4h1.6v1.6h-1.6zM313.2 155.1h1.6v1.6h-1.6zM312.9 170.6h1.6v1.6h-1.6zM324.1 159.6h1.6v1.6h-1.6zM313.2 160.0h1.6v1.6h-1.6zM315.1 153.1h1.6v1.6h-1.6zM305.4 158.6h1.6v1.6h-1.6zM332.6 160.8h1.6v1.6h-1.6zM321.8 153.9h1.6v1.6h-1.6zM334.0 157.7h1.6v1.6h-1.6zM324.6 170.0h1.6v1.6h-1.6zM331.2 167.1h1.6v1.6h-1.6zM314.6 178.2h1.6v1.6h-1.6zM323.8 158.8h1.6v1.6h-1.6zM305.4 177.3h1.6v1.6h-1.6zM328.2 162.2h1.6v1.6h-1.6zM333.1 167.1h1.6v1.6h-1.6zM321.0 162.5h1.6v1.6h-1.6zM324.3 171.3h1.6v1.6h-1.6zM329.2 166.3h1.6v1.6h-1.6zM310.6 172.6h1.6v1.6h-1.6zM321.0 166.7h1.6v1.6h-1.6zM308.6 170.8h1.6v1.6h-1.6zM310.4 168.6h1.6v1.6h-1.6zM311.0 168.3h1.6v1.6h-1.6zM315.6 173.0h1.6v1.6h-1.6zM318.4 159.1h1.6v1.6h-1.6zM321.4 177.0h1.6v1.6h-1.6zM303.2 168.6h1.6v1.6h-1.6zM328.2 158.7h1.6v1.6h-1.6zM324.1 159.1h1.6v1.6h-1.6zM313.5 182.7h1.6v1.6h-1.6zM316.1 161.7h1.6v1.6h-1.6zM322.3 151.0h1.6v1.6h-1.6zM321.0 156.3h1.6v1.6h-1.6zM300.6 167.8h1.6v1.6h-1.6zM324.2 179.4h1.6v1.6h-1.6zM299.0 179.1h1.6v1.6h-1.6zM326.7 151.6h1.6v1.6h-1.6zM320.6 165.6h1.6v1.6h-1.6zM315.9 170.1h1.6v1.6h-1.6zM330.4 174.0h1.6v1.6h-1.6zM305.5 162.7h1.6v1.6h-1.6zM318.6 168.5h1.6v1.6h-1.6zM331.3 160.9h1.6v1.6h-1.6zM315.1 156.1h1.6v1.6h-1.6zM312.9 165.5h1.6v1.6h-1.6zM318.1 161.3h1.6v1.6h-1.6zM312.7 146.0h1.6v1.6h-1.6zM332.1 163.0h1.6v1.6h-1.6zM308.1 172.1h1.6v1.6h-1.6zM325.5 156.9h1.6v1.6h-1.6zM304.8 157.5h1.6v1.6h-1.6zM323.5 174.0h1.6v1.6h-1.6zM316.0 166.7h1.6v1.6h-1.6zM291.8 182.7h1.6v1.6h-1.6zM316.9 176.0h1.6v1.6h-1.6zM306.6 163.7h1.6v1.6h-1.6zM312.7 172.6h1.6v1.6h-1.6zM332.0 155.9h1.6v1.6h-1.6zM306.1 167.8h1.6v1.6h-1.6zM306.6 167.4h1.6v1.6h-1.6zM331.1 158.4h1.6v1.6h-1.6zM318.1 173.0h1.6v1.6h-1.6zM332.1 159.0h1.6v1.6h-1.6zM320.2 161.4h1.6v1.6h-1.6zM308.4 165.1h1.6v1.6h-1.6zM316.4 167.2h1.6v1.6h-1.6zM329.0 151.6h1.6v1.6h-1.6zM326.2 156.1h1.6v1.6h-1.6zM317.0 163.6h1.6v1.6h-1.6zM317.5 159.0h1.6v1.6h-1.6zM315.9 163.4h1.6v1.6h-1.6zM311.4 161.1h1.6v1.6h-1.6zM335.9 173.5h1.6v1.6h-1.6zM317.1 175.3h1.6v1.6h-1.6zM306.0 172.2h1.6v1.6h-1.6zM312.3 165.4h1.6v1.6h-1.6zM324.1 179.8h1.6v1.6h-1.6zM323.3 164.2h1.6v1.6h-1.6zM315.7 163.8h1.6v1.6h-1.6zM310.5 169.2h1.6v1.6h-1.6zM317.2 166.5h1.6v1.6h-1.6zM300.7 182.5h1.6v1.6h-1.6zM304.3 168.9h1.6v1.6h-1.6zM324.8 178.7h1.6v1.6h-1.6zM312.3 158.4h1.6v1.6h-1.6zM320.7 168.4h1.6v1.6h-1.6zM328.9 150.7h1.6v1.6h-1.6zM323.3 176.9h1.6v1.6h-1.6zM317.2 161.1h1.6v1.6h-1.6zM323.5 169.2h1.6v1.6h-1.6zM313.5 176.1h1.6v1.6h-1.6zM324.2 151.7h1.6v1.6h-1.6zM321.0 159.5h1.6v1.6h-1.6zM308.6 155.5h1.6v1.6h-1.6zM317.7 164.9h1.6v1.6h-1.6zM315.4 163.8h1.6v1.6h-1.6zM297.8 168.7h1.6v1.6h-1.6zM315.3 158.9h1.6v1.6h-1.6zM314.2 161.8h1.6v1.6h-1.6zM312.7 159.4h1.6v1.6h-1.6zM300.9 174.9h1.6v1.6h-1.6zM313.5 178.3h1.6v1.6h-1.6zM316.6 147.7h1.6v1.6h-1.6zM318.0 162.6h1.6v1.6h-1.6zM305.9 164.9h1.6v1.6h-1.6zM323.2 165.7h1.6v1.6h-1.6zM305.1 160.7h1.6v1.6h-1.6zM314.8 163.6h1.6v1.6h-1.6zM329.7 150.1h1.6v1.6h-1.6zM310.2 172.6h1.6v1.6h-1.6zM312.0 166.8h1.6v1.6h-1.6zM327.5 158.4h1.6v1.6h-1.6zM313.3 168.6h1.6v1.6h-1.6zM314.1 163.1h1.6v1.6h-1.6zM319.2 149.9h1.6v1.6h-1.6zM327.2 165.0h1.6v1.6h-1.6zM295.5 175.1h1.6v1.6h-1.6zM308.9 165.9h1.6v1.6h-1.6zM307.2 176.3h1.6v1.6h-1.6zM306.4 178.6h1.6v1.6h-1.6zM308.7 158.1h1.6v1.6h-1.6zM308.8 160.6h1.6v1.6h-1.6zM319.9 176.0h1.6v1.6h-1.6zM308.3 179.5h1.6v1.6h-1.6zM318.2 157.2h1.6v1.6h-1.6zM320.9 152.4h1.6v1.6h-1.6zM309.9 161.4h1.6v1.6h-1.6zM318.3 159.3h1.6v1.6h-1.6zM332.9 144.2h1.6v1.6h-1.6zM320.1 163.0h1.6v1.6h-1.6zM310.8 155.6h1.6v1.6h-1.6zM316.4 154.0h1.6v1.6h-1.6zM308.1 175.4h1.6v1.6h-1.6zM319.6 157.1h1.6v1.6h-1.6zM325.4 160.0h1.6v1.6h-1.6zM309.0 172.5h1.6v1.6h-1.6zM315.0 171.7h1.6v1.6h-1.6zM327.8 156.8h1.6v1.6h-1.6zM312.2 166.3h1.6v1.6h-1.6zM318.8 156.3h1.6v1.6h-1.6zM307.1 182.8h1.6v1.6h-1.6zM309.1 172.7h1.6v1.6h-1.6zM312.0 156.6h1.6v1.6h-1.6zM313.1 171.6h1.6v1.6h-1.6zM312.0 170.1h1.6v1.6h-1.6zM311.6 181.7h1.6v1.6h-1.6zM315.4 176.3h1.6v1.6h-1.6zM323.2 156.9h1.6v1.6h-1.6zM318.8 162.5h1.6v1.6h-1.6zM319.0 165.3h1.6v1.6h-1.6zM330.8 159.8h1.6v1.6h-1.6zM322.8 162.5h1.6v1.6h-1.6zM303.3 151.7h1.6v1.6h-1.6zM315.8 158.8h1.6v1.6h-1.6zM316.3 165.2h1.6v1.6h-1.6zM314.7 154.2h1.6v1.6h-1.6zM296.5 164.8h1.6v1.6h-1.6zM325.4 157.5h1.6v1.6h-1.6zM313.3 168.4h1.6v1.6h-1.6zM312.8 164.3h1.6v1.6h-1.6zM314.6 157.4h1.6v1.6h-1.6zM314.8 171.6h1.6v1.6h-1.6zM320.9 157.9h1.6v1.6h-1.6zM304.9 164.6h1.6v1.6h-1.6zM308.2 155.8h1.6v1.6h-1.6zM319.8 156.2h1.6v1.6h-1.6zM318.4 169.0h1.6v1.6h-1.6zM313.4 151.7h1.6v1.6h-1.6zM311.5 165.6h1.6v1.6h-1.6zM309.1 173.3h1.6v1.6h-1.6zM316.4 161.0h1.6v1.6h-1.6zM328.2 161.6h1.6v1.6h-1.6zM306.9 158.5h1.6v1.6h-1.6zM331.5 169.3h1.6v1.6h-1.6zM325.0 170.2h1.6v1.6h-1.6zM312.7 167.7h1.6v1.6h-1.6zM324.4 146.1h1.6v1.6h-1.6zM303.1 160.7h1.6v1.6h-1.6zM300.6 178.9h1.6v1.6h-1.6zM304.7 183.5h1.6v1.6h-1.6zM313.1 168.1h1.6v1.6h-1.6zM313.9 175.8h1.6v1.6h-1.6zM312.1 160.8h1.6v1.6h-1.6zM317.9 162.0h1.6v1.6h-1.6zM296.7 172.1h1.6v1.6h-1.6zM321.7 165.7h1.6v1.6h-1.6zM303.5 156.4h1.6v1.6h-1.6zM310.7 174.5h1.6v1.6h-1.6zM313.1 176.8h1.6v1.6h-1.6zM306.0 158.6h1.6v1.6h-1.6zM304.0 157.7h1.6v1.6h-1.6zM307.4 170.8h1.6v1.6h-1.6zM316.9 158.5h1.6v1.6h-1.6zM322.6 141.6h1.6v1.6h-1.6zM322.4 168.7h1.6v1.6h-1.6zM307.6 169.1h1.6v1.6h-1.6zM309.5 163.0h1.6v1.6h-1.6zM321.3 163.5h1.6v1.6h-1.6zM297.6 165.3h1.6v1.6h-1.6zM258.4 165.6h1.6v1.6h-1.6zM258.4 176.4h1.6v1.6h-1.6zM335.0 134.0h1.6v1.6h-1.6zM330.0 140.0h1.6v1.6h-1.6zM290.0 148.0h1.6v1.6h-1.6z" fill="#1f70b5"/>
<rect x="252.6" y="124.7" width="50.8" height="4.8" rx="0.8" fill="#fff" fill-opacity="0.85" stroke="#bbb" stroke-width="0.6"/>
<rect x="256.6" y="125.5" width="2" height="1.4" fill="#9fd3f2"/>
<rect x="256.6" y="127.5" width="2" height="1.4" fill="#5cb83c"/>
<text x="259.60" y="126.90" font-size="2.3" fill="#222" text-anchor="start" font-weight="normal" textLength="37.0" lengthAdjust="spacingAndGlyphs">Regression: y = 0.8094 x - 1.6316</text>
<text x="259.60" y="129.00" font-size="2.3" fill="#222" text-anchor="start" font-weight="normal" textLength="32.0" lengthAdjust="spacingAndGlyphs">r = 0.215, p-value = 0.00000000198</text>
<rect x="342.50" y="112.50" width="100.00" height="88.00" fill="#fff" stroke="#bfcde8" stroke-width="1.2"/>
<text x="392.00" y="115.80" font-size="2.7" fill="#6a6a6a" text-anchor="middle" font-weight="bold" textLength="74.0" lengthAdjust="spacingAndGlyphs">hsa-miR-132-3p vs. SNHG16, 578 samples (miRNA)</text>
<text x="392.00" y="119.20" font-size="2.7" fill="#666" text-anchor="middle" font-weight="normal" textLength="39.0" lengthAdjust="spacingAndGlyphs">Data Source: starBase v3.0 project</text>
<rect x="356" y="124.3" width="82" height="64.00000000000001" fill="#fff" stroke="#e6e6e6" stroke-width="0.6"/>
<line x1="356" y1="124.30" x2="438" y2="124.30" stroke="#efefef" stroke-width="0.6"/>
<text x="353.50" y="125.20" font-size="2.7" fill="#888" text-anchor="end" font-weight="normal">10</text>
<line x1="356" y1="137.10" x2="438" y2="137.10" stroke="#efefef" stroke-width="0.6"/>
<text x="353.50" y="138.00" font-size="2.7" fill="#888" text-anchor="end" font-weight="normal">8</text>
<line x1="356" y1="149.90" x2="438" y2="149.90" stroke="#efefef" stroke-width="0.6"/>
<text x="353.50" y="150.80" font-size="2.7" fill="#888" text-anchor="end" font-weight="normal">6</text>
<line x1="356" y1="162.70" x2="438" y2="162.70" stroke="#efefef" stroke-width="0.6"/>
<text x="353.50" y="163.60" font-size="2.7" fill="#888" text-anchor="end" font-weight="normal">4</text>
<line x1="356" y1="175.50" x2="438" y2="175.50" stroke="#efefef" stroke-width="0.6"/>
<text x="353.50" y="176.40" font-size="2.7" fill="#888" text-anchor="end" font-weight="normal">2</text>
<line x1="356" y1="188.30" x2="438" y2="188.30" stroke="#efefef" stroke-width="0.6"/>
<text x="353.50" y="189.20" font-size="2.7" fill="#888" text-anchor="end" font-weight="normal">0</text>
<text x="346.30" y="156.30" font-size="2.8" fill="#888" text-anchor="middle" font-weight="normal" textLength="40.0" lengthAdjust="spacingAndGlyphs" transform="rotate(-90 346.30 156.30)">Expression level: log2(Intensity+0.01)</text>
<text x="377.50" y="191.90" font-size="2.6" fill="#999" text-anchor="middle" font-weight="normal" textLength="22.0" lengthAdjust="spacingAndGlyphs">hsa-miR-132-3p (RPM)</text>
<text x="419.00" y="191.90" font-size="2.6" fill="#999" text-anchor="middle" font-weight="normal" textLength="20.0" lengthAdjust="spacingAndGlyphs">SNHG16 (FPKM)</text>
<rect x="368" y="192.8" width="46.6" height="5.7" rx="1" fill="#fff" stroke="#8a8a8a" stroke-width="0.8"/>
<rect x="370" y="194.4" width="4" height="2.6" fill="#2a7fc0"/>
<text x="375.50" y="196.90" font-size="2.6" fill="#555" text-anchor="start" font-weight="normal" textLength="10.0" lengthAdjust="spacingAndGlyphs">Box plot</text>
<rect x="389.5" y="195.10000000000002" width="1.2" height="1.2" fill="#9cd0f0"/>
<text x="392.00" y="196.90" font-size="2.6" fill="#555" text-anchor="start" font-weight="normal" textLength="20.0" lengthAdjust="spacingAndGlyphs">Gene expression</text>
<line x1="376.5" y1="133.5" x2="376.5" y2="141.2" stroke="#dc4848" stroke-width="1.1" stroke-dasharray="1 2"/>
<line x1="376.5" y1="147.2" x2="376.5" y2="155.4" stroke="#dc4848" stroke-width="1.1" stroke-dasharray="1 2"/>
<line x1="373.10" y1="133.5" x2="379.90" y2="133.5" stroke="#70c050" stroke-width="1"/>
<line x1="373.10" y1="155.4" x2="379.90" y2="155.4" stroke="#70c050" stroke-width="1"/>
<rect x="366.25" y="141.20" width="20.50" height="6.00" fill="#fcf6e0" stroke="#6cbbe8" stroke-width="1"/>
<line x1="366.25" y1="144.1" x2="386.75" y2="144.1" stroke="#3b78a8" stroke-width="0.9"/>
<line x1="419.2" y1="157.4" x2="419.2" y2="166.2" stroke="#dc4848" stroke-width="1.1" stroke-dasharray="1 2"/>
<line x1="419.2" y1="173.3" x2="419.2" y2="182.6" stroke="#dc4848" stroke-width="1.1" stroke-dasharray="1 2"/>
<line x1="415.80" y1="157.4" x2="422.60" y2="157.4" stroke="#70c050" stroke-width="1"/>
<line x1="415.80" y1="182.6" x2="422.60" y2="182.6" stroke="#70c050" stroke-width="1"/>
<rect x="408.95" y="166.20" width="20.50" height="7.10" fill="#fcf6e0" stroke="#6cbbe8" stroke-width="1"/>
<line x1="408.95" y1="170.3" x2="429.45" y2="170.3" stroke="#3b78a8" stroke-width="0.9"/>
<rect x="443.50" y="112.50" width="100.00" height="88.00" fill="#fff" stroke="#bfcde8" stroke-width="1.2"/>
<text x="495.00" y="115.80" font-size="2.7" fill="#6a6a6a" text-anchor="middle" font-weight="bold" textLength="72.0" lengthAdjust="spacingAndGlyphs">hsa-miR-132-3p vs. SNHG16, 578 samples (LIHC)</text>
<text x="495.00" y="119.20" font-size="2.7" fill="#666" text-anchor="middle" font-weight="normal" textLength="37.0" lengthAdjust="spacingAndGlyphs">Data Source: starBase v3.0 project</text>
<rect x="455.3" y="124.3" width="84.70" height="67.50" fill="#fff" stroke="#e6e6e6" stroke-width="0.6"/>
<line x1="455.3" y1="124.30" x2="540" y2="124.30" stroke="#efefef" stroke-width="0.6"/>
<text x="453.00" y="125.20" font-size="2.6" fill="#888" text-anchor="end" font-weight="normal">7</text>
<line x1="455.3" y1="133.94" x2="540" y2="133.94" stroke="#efefef" stroke-width="0.6"/>
<text x="453.00" y="134.84" font-size="2.6" fill="#888" text-anchor="end" font-weight="normal">6</text>
<line x1="455.3" y1="143.59" x2="540" y2="143.59" stroke="#efefef" stroke-width="0.6"/>
<text x="453.00" y="144.49" font-size="2.6" fill="#888" text-anchor="end" font-weight="normal">5</text>
<line x1="455.3" y1="153.23" x2="540" y2="153.23" stroke="#efefef" stroke-width="0.6"/>
<text x="453.00" y="154.13" font-size="2.6" fill="#888" text-anchor="end" font-weight="normal">4</text>
<line x1="455.3" y1="162.87" x2="540" y2="162.87" stroke="#efefef" stroke-width="0.6"/>
<text x="453.00" y="163.77" font-size="2.6" fill="#888" text-anchor="end" font-weight="normal">3</text>
<line x1="455.3" y1="172.51" x2="540" y2="172.51" stroke="#efefef" stroke-width="0.6"/>
<text x="453.00" y="173.41" font-size="2.6" fill="#888" text-anchor="end" font-weight="normal">2</text>
<line x1="455.3" y1="182.16" x2="540" y2="182.16" stroke="#efefef" stroke-width="0.6"/>
<text x="453.00" y="183.06" font-size="2.6" fill="#888" text-anchor="end" font-weight="normal">1</text>
<line x1="455.3" y1="191.80" x2="540" y2="191.80" stroke="#efefef" stroke-width="0.6"/>
<text x="453.00" y="192.70" font-size="2.6" fill="#888" text-anchor="end" font-weight="normal">0</text>
<text x="456.00" y="195.40" font-size="2.8" fill="#777" text-anchor="middle" font-weight="normal">2</text>
<text x="472.94" y="195.40" font-size="2.8" fill="#777" text-anchor="middle" font-weight="normal">3</text>
<text x="489.88" y="195.40" font-size="2.8" fill="#777" text-anchor="middle" font-weight="normal">4</text>
<text x="506.82" y="195.40" font-size="2.8" fill="#777" text-anchor="middle" font-weight="normal">5</text>
<text x="523.76" y="195.40" font-size="2.8" fill="#777" text-anchor="middle" font-weight="normal">6</text>
<text x="540.70" y="195.40" font-size="2.8" fill="#777" text-anchor="middle" font-weight="normal">7</text>
<text x="499.00" y="198.30" font-size="2.6" fill="#888" text-anchor="middle" font-weight="normal" textLength="60.0" lengthAdjust="spacingAndGlyphs">hsa-miR-212-3p: Expression level: log2(RPM+0.01)</text>
<text x="448.20" y="155.50" font-size="2.6" fill="#888" text-anchor="middle" font-weight="normal" textLength="42.0" lengthAdjust="spacingAndGlyphs" transform="rotate(-90 448.20 155.50)">SNHG16: Expression level: log2(FPKM+0.01)</text>
<line x1="468.6" y1="162.7" x2="531" y2="155" stroke="#f29a9a" stroke-width="1.4"/>
<path d="M501.6 153.5h1.6v1.6h-1.6zM489.1 171.3h1.6v1.6h-1.6zM492.1 157.3h1.6v1.6h-1.6zM504.7 152.9h1.6v1.6h-1.6zM494.4 157.6h1.6v1.6h-1.6zM495.5 160.9h1.6v1.6h-1.6zM518.9 154.7h1.6v1.6h-1.6zM510.0 159.1h1.6v1.6h-1.6zM509.3 148.0h1.6v1.6h-1.6zM506.3 157.6h1.6v1.6h-1.6zM505.8 166.1h1.6v1.6h-1.6zM516.5 176.2h1.6v1.6h-1.6zM500.3 165.5h1.6v1.6h-1.6zM520.9 161.8h1.6v1.6h-1.6zM490.0 169.6h1.6v1.6h-1.6zM497.7 168.2h1.6v1.6h-1.6zM485.3 173.6h1.6v1.6h-1.6zM496.7 168.7h1.6v1.6h-1.6zM506.2 158.5h1.6v1.6h-1.6zM516.5 161.7h1.6v1.6h-1.6zM493.2 161.0h1.6v1.6h-1.6zM500.6 162.1h1.6v1.6h-1.6zM496.5 161.2h1.6v1.6h-1.6zM492.4 152.8h1.6v1.6h-1.6zM487.4 141.6h1.6v1.6h-1.6zM501.2 153.8h1.6v1.6h-1.6zM481.4 142.3h1.6v1.6h-1.6zM501.7 160.1h1.6v1.6h-1.6zM500.7 159.5h1.6v1.6h-1.6zM493.3 145.3h1.6v1.6h-1.6zM489.4 165.3h1.6v1.6h-1.6zM485.3 166.9h1.6v1.6h-1.6zM521.1 160.3h1.6v1.6h-1.6zM485.7 173.7h1.6v1.6h-1.6zM517.6 175.4h1.6v1.6h-1.6zM507.1 149.2h1.6v1.6h-1.6zM496.5 168.3h1.6v1.6h-1.6zM487.8 163.2h1.6v1.6h-1.6zM512.0 163.1h1.6v1.6h-1.6zM519.5 167.4h1.6v1.6h-1.6zM490.2 153.4h1.6v1.6h-1.6zM497.2 154.5h1.6v1.6h-1.6zM512.1 152.5h1.6v1.6h-1.6zM504.2 153.1h1.6v1.6h-1.6zM522.5 158.7h1.6v1.6h-1.6zM494.2 147.2h1.6v1.6h-1.6zM506.5 150.6h1.6v1.6h-1.6zM486.7 164.4h1.6v1.6h-1.6zM523.6 158.9h1.6v1.6h-1.6zM492.5 162.8h1.6v1.6h-1.6zM476.2 143.4h1.6v1.6h-1.6zM499.1 152.8h1.6v1.6h-1.6zM499.0 154.8h1.6v1.6h-1.6zM521.6 159.8h1.6v1.6h-1.6zM496.8 154.5h1.6v1.6h-1.6zM500.4 167.4h1.6v1.6h-1.6zM507.0 159.0h1.6v1.6h-1.6zM517.9 159.6h1.6v1.6h-1.6zM499.8 159.6h1.6v1.6h-1.6zM511.9 165.5h1.6v1.6h-1.6zM506.2 155.5h1.6v1.6h-1.6zM497.2 169.0h1.6v1.6h-1.6zM501.4 163.4h1.6v1.6h-1.6zM500.8 160.8h1.6v1.6h-1.6zM490.4 159.9h1.6v1.6h-1.6zM513.9 163.9h1.6v1.6h-1.6zM485.3 168.1h1.6v1.6h-1.6zM513.4 167.5h1.6v1.6h-1.6zM511.0 162.7h1.6v1.6h-1.6zM499.5 167.0h1.6v1.6h-1.6zM492.1 160.5h1.6v1.6h-1.6zM498.0 170.1h1.6v1.6h-1.6zM505.7 159.3h1.6v1.6h-1.6zM508.7 141.9h1.6v1.6h-1.6zM503.7 170.9h1.6v1.6h-1.6zM511.4 160.4h1.6v1.6h-1.6zM494.4 149.5h1.6v1.6h-1.6zM503.1 157.8h1.6v1.6h-1.6zM483.2 152.0h1.6v1.6h-1.6zM508.9 177.4h1.6v1.6h-1.6zM502.2 163.7h1.6v1.6h-1.6zM495.9 146.2h1.6v1.6h-1.6zM513.3 164.1h1.6v1.6h-1.6zM508.1 156.1h1.6v1.6h-1.6zM469.5 175.8h1.6v1.6h-1.6zM500.9 150.6h1.6v1.6h-1.6zM484.5 140.4h1.6v1.6h-1.6zM512.2 160.1h1.6v1.6h-1.6zM527.9 156.5h1.6v1.6h-1.6zM494.8 156.0h1.6v1.6h-1.6zM501.3 141.3h1.6v1.6h-1.6zM497.7 163.1h1.6v1.6h-1.6zM504.4 173.7h1.6v1.6h-1.6zM507.6 143.3h1.6v1.6h-1.6zM514.7 169.5h1.6v1.6h-1.6zM489.6 154.7h1.6v1.6h-1.6zM517.8 179.5h1.6v1.6h-1.6zM490.3 163.2h1.6v1.6h-1.6zM503.5 157.9h1.6v1.6h-1.6zM513.2 168.9h1.6v1.6h-1.6zM508.3 164.0h1.6v1.6h-1.6zM490.2 154.5h1.6v1.6h-1.6zM492.8 165.5h1.6v1.6h-1.6zM495.4 155.2h1.6v1.6h-1.6zM499.9 144.3h1.6v1.6h-1.6zM513.1 176.8h1.6v1.6h-1.6zM486.3 156.5h1.6v1.6h-1.6zM505.6 154.3h1.6v1.6h-1.6zM507.2 162.4h1.6v1.6h-1.6zM506.6 146.2h1.6v1.6h-1.6zM505.6 148.0h1.6v1.6h-1.6zM517.2 155.3h1.6v1.6h-1.6zM505.9 155.1h1.6v1.6h-1.6zM509.9 160.1h1.6v1.6h-1.6zM506.7 169.0h1.6v1.6h-1.6zM520.2 155.5h1.6v1.6h-1.6zM479.6 163.7h1.6v1.6h-1.6zM514.6 164.6h1.6v1.6h-1.6zM497.6 150.3h1.6v1.6h-1.6zM497.4 161.4h1.6v1.6h-1.6zM489.8 151.5h1.6v1.6h-1.6zM479.9 168.5h1.6v1.6h-1.6zM496.3 163.4h1.6v1.6h-1.6zM492.9 159.6h1.6v1.6h-1.6zM505.9 148.1h1.6v1.6h-1.6zM484.3 160.5h1.6v1.6h-1.6zM516.2 153.0h1.6v1.6h-1.6zM503.5 165.5h1.6v1.6h-1.6zM497.8 158.5h1.6v1.6h-1.6zM492.7 152.6h1.6v1.6h-1.6zM491.8 167.4h1.6v1.6h-1.6zM488.1 165.6h1.6v1.6h-1.6zM494.5 154.5h1.6v1.6h-1.6zM500.6 169.4h1.6v1.6h-1.6zM498.5 157.0h1.6v1.6h-1.6zM484.9 156.9h1.6v1.6h-1.6zM497.6 160.6h1.6v1.6h-1.6zM490.7 153.1h1.6v1.6h-1.6zM502.3 155.7h1.6v1.6h-1.6zM521.0 158.1h1.6v1.6h-1.6zM507.4 172.5h1.6v1.6h-1.6zM497.1 172.2h1.6v1.6h-1.6zM482.6 157.3h1.6v1.6h-1.6zM484.9 173.2h1.6v1.6h-1.6zM481.9 159.1h1.6v1.6h-1.6zM508.5 162.7h1.6v1.6h-1.6zM492.1 167.0h1.6v1.6h-1.6zM501.2 162.0h1.6v1.6h-1.6zM493.7 180.0h1.6v1.6h-1.6zM501.5 161.6h1.6v1.6h-1.6zM515.9 149.3h1.6v1.6h-1.6zM493.0 170.6h1.6v1.6h-1.6zM496.7 156.0h1.6v1.6h-1.6zM491.6 156.9h1.6v1.6h-1.6zM489.2 168.0h1.6v1.6h-1.6zM488.0 166.5h1.6v1.6h-1.6zM485.2 166.3h1.6v1.6h-1.6zM485.0 167.8h1.6v1.6h-1.6zM505.7 173.9h1.6v1.6h-1.6zM528.8 159.1h1.6v1.6h-1.6zM489.6 167.5h1.6v1.6h-1.6zM511.0 153.2h1.6v1.6h-1.6zM503.3 156.5h1.6v1.6h-1.6zM488.4 168.5h1.6v1.6h-1.6zM497.5 162.8h1.6v1.6h-1.6zM497.9 148.2h1.6v1.6h-1.6zM492.9 162.6h1.6v1.6h-1.6zM521.7 157.9h1.6v1.6h-1.6zM479.5 152.5h1.6v1.6h-1.6zM504.7 163.2h1.6v1.6h-1.6zM504.1 156.1h1.6v1.6h-1.6zM494.1 146.2h1.6v1.6h-1.6zM502.1 150.1h1.6v1.6h-1.6zM510.2 174.5h1.6v1.6h-1.6zM502.2 146.6h1.6v1.6h-1.6zM505.1 161.4h1.6v1.6h-1.6zM508.1 164.7h1.6v1.6h-1.6zM478.1 164.9h1.6v1.6h-1.6zM516.8 149.1h1.6v1.6h-1.6zM525.6 156.8h1.6v1.6h-1.6zM511.3 160.7h1.6v1.6h-1.6zM511.7 166.3h1.6v1.6h-1.6zM485.0 154.0h1.6v1.6h-1.6zM499.2 149.6h1.6v1.6h-1.6zM491.6 168.0h1.6v1.6h-1.6zM494.0 168.9h1.6v1.6h-1.6zM511.1 162.6h1.6v1.6h-1.6zM491.7 154.3h1.6v1.6h-1.6zM499.1 163.0h1.6v1.6h-1.6zM479.5 160.4h1.6v1.6h-1.6zM498.8 166.6h1.6v1.6h-1.6zM501.5 148.9h1.6v1.6h-1.6zM492.7 160.5h1.6v1.6h-1.6zM492.6 158.1h1.6v1.6h-1.6zM521.3 150.1h1.6v1.6h-1.6zM487.2 161.3h1.6v1.6h-1.6zM488.9 159.8h1.6v1.6h-1.6zM491.6 156.0h1.6v1.6h-1.6zM513.7 162.9h1.6v1.6h-1.6zM523.6 147.4h1.6v1.6h-1.6zM504.2 159.0h1.6v1.6h-1.6zM492.6 163.2h1.6v1.6h-1.6zM495.8 161.9h1.6v1.6h-1.6zM512.2 168.6h1.6v1.6h-1.6zM490.5 149.3h1.6v1.6h-1.6zM516.5 146.7h1.6v1.6h-1.6zM516.1 161.5h1.6v1.6h-1.6zM501.3 163.4h1.6v1.6h-1.6zM507.6 177.5h1.6v1.6h-1.6zM508.7 164.7h1.6v1.6h-1.6zM517.6 152.1h1.6v1.6h-1.6zM488.9 166.4h1.6v1.6h-1.6zM513.5 152.3h1.6v1.6h-1.6zM496.4 146.9h1.6v1.6h-1.6zM492.1 181.7h1.6v1.6h-1.6zM501.6 162.3h1.6v1.6h-1.6zM498.1 165.6h1.6v1.6h-1.6zM489.6 164.3h1.6v1.6h-1.6zM482.9 174.9h1.6v1.6h-1.6zM490.1 161.9h1.6v1.6h-1.6zM516.5 169.9h1.6v1.6h-1.6zM522.1 150.8h1.6v1.6h-1.6zM507.7 147.7h1.6v1.6h-1.6zM513.5 171.6h1.6v1.6h-1.6zM494.8 172.0h1.6v1.6h-1.6zM499.7 163.8h1.6v1.6h-1.6zM503.6 161.4h1.6v1.6h-1.6zM488.6 160.9h1.6v1.6h-1.6zM489.6 153.7h1.6v1.6h-1.6zM501.6 172.6h1.6v1.6h-1.6zM497.0 165.1h1.6v1.6h-1.6zM488.8 163.8h1.6v1.6h-1.6zM504.8 162.7h1.6v1.6h-1.6zM497.6 168.4h1.6v1.6h-1.6zM511.7 163.8h1.6v1.6h-1.6zM500.4 165.8h1.6v1.6h-1.6zM497.2 149.6h1.6v1.6h-1.6zM501.9 163.8h1.6v1.6h-1.6zM498.6 178.1h1.6v1.6h-1.6zM493.2 155.1h1.6v1.6h-1.6zM496.1 158.4h1.6v1.6h-1.6zM508.7 167.1h1.6v1.6h-1.6zM507.6 167.6h1.6v1.6h-1.6zM514.6 164.8h1.6v1.6h-1.6zM481.9 145.8h1.6v1.6h-1.6zM496.2 163.8h1.6v1.6h-1.6zM495.9 149.4h1.6v1.6h-1.6zM502.4 152.5h1.6v1.6h-1.6zM495.5 164.2h1.6v1.6h-1.6zM494.9 157.0h1.6v1.6h-1.6zM509.1 166.4h1.6v1.6h-1.6zM487.7 166.1h1.6v1.6h-1.6zM515.2 165.6h1.6v1.6h-1.6zM511.5 151.9h1.6v1.6h-1.6zM494.2 154.0h1.6v1.6h-1.6zM509.6 150.5h1.6v1.6h-1.6zM492.4 155.0h1.6v1.6h-1.6zM512.9 150.2h1.6v1.6h-1.6zM498.1 153.9h1.6v1.6h-1.6zM491.7 157.7h1.6v1.6h-1.6zM496.4 151.0h1.6v1.6h-1.6zM492.1 147.4h1.6v1.6h-1.6zM502.6 147.9h1.6v1.6h-1.6zM502.4 163.4h1.6v1.6h-1.6zM500.9 160.0h1.6v1.6h-1.6zM494.4 168.2h1.6v1.6h-1.6zM501.5 156.6h1.6v1.6h-1.6zM479.6 165.2h1.6v1.6h-1.6zM503.2 147.3h1.6v1.6h-1.6zM512.9 178.9h1.6v1.6h-1.6zM503.5 169.7h1.6v1.6h-1.6zM496.2 157.7h1.6v1.6h-1.6zM498.5 149.6h1.6v1.6h-1.6zM499.0 162.7h1.6v1.6h-1.6zM494.5 143.6h1.6v1.6h-1.6zM494.1 152.9h1.6v1.6h-1.6zM490.3 165.9h1.6v1.6h-1.6zM513.6 160.1h1.6v1.6h-1.6zM500.3 155.3h1.6v1.6h-1.6zM511.0 167.6h1.6v1.6h-1.6zM497.7 150.7h1.6v1.6h-1.6zM501.3 161.9h1.6v1.6h-1.6zM498.6 155.3h1.6v1.6h-1.6zM505.6 152.3h1.6v1.6h-1.6zM509.6 163.4h1.6v1.6h-1.6zM503.1 151.1h1.6v1.6h-1.6zM493.1 175.7h1.6v1.6h-1.6zM491.9 154.5h1.6v1.6h-1.6zM518.8 176.4h1.6v1.6h-1.6zM497.4 150.2h1.6v1.6h-1.6zM497.3 164.7h1.6v1.6h-1.6zM516.6 149.3h1.6v1.6h-1.6zM512.5 148.1h1.6v1.6h-1.6zM506.4 160.9h1.6v1.6h-1.6zM496.1 165.3h1.6v1.6h-1.6zM526.4 148.7h1.6v1.6h-1.6zM504.8 169.6h1.6v1.6h-1.6zM506.5 152.7h1.6v1.6h-1.6zM498.6 160.6h1.6v1.6h-1.6zM484.9 162.7h1.6v1.6h-1.6zM485.8 164.6h1.6v1.6h-1.6zM505.0 144.2h1.6v1.6h-1.6zM504.8 173.3h1.6v1.6h-1.6zM497.9 164.3h1.6v1.6h-1.6zM487.6 155.9h1.6v1.6h-1.6zM484.6 150.8h1.6v1.6h-1.6zM496.9 145.1h1.6v1.6h-1.6zM484.5 147.9h1.6v1.6h-1.6zM510.4 164.1h1.6v1.6h-1.6zM513.2 156.6h1.6v1.6h-1.6zM510.2 155.0h1.6v1.6h-1.6zM494.0 172.8h1.6v1.6h-1.6zM490.9 156.7h1.6v1.6h-1.6zM494.0 171.0h1.6v1.6h-1.6zM498.6 163.4h1.6v1.6h-1.6zM511.1 159.9h1.6v1.6h-1.6zM507.2 154.3h1.6v1.6h-1.6zM507.0 146.3h1.6v1.6h-1.6zM502.8 149.6h1.6v1.6h-1.6zM507.8 155.4h1.6v1.6h-1.6zM516.4 157.6h1.6v1.6h-1.6zM488.8 162.5h1.6v1.6h-1.6zM495.5 164.2h1.6v1.6h-1.6zM485.2 161.4h1.6v1.6h-1.6zM518.3 161.4h1.6v1.6h-1.6zM514.8 150.9h1.6v1.6h-1.6zM508.8 141.2h1.6v1.6h-1.6zM487.3 155.1h1.6v1.6h-1.6zM502.4 151.4h1.6v1.6h-1.6zM497.9 154.0h1.6v1.6h-1.6zM501.4 157.2h1.6v1.6h-1.6zM498.4 148.9h1.6v1.6h-1.6zM506.2 150.1h1.6v1.6h-1.6zM496.2 158.6h1.6v1.6h-1.6zM509.9 160.5h1.6v1.6h-1.6zM503.2 153.9h1.6v1.6h-1.6zM497.3 163.7h1.6v1.6h-1.6zM499.3 157.6h1.6v1.6h-1.6zM495.7 150.8h1.6v1.6h-1.6zM509.5 159.8h1.6v1.6h-1.6zM497.5 175.5h1.6v1.6h-1.6zM503.7 153.8h1.6v1.6h-1.6zM496.2 169.4h1.6v1.6h-1.6zM484.2 171.2h1.6v1.6h-1.6zM510.5 172.2h1.6v1.6h-1.6zM488.9 152.5h1.6v1.6h-1.6zM508.0 176.6h1.6v1.6h-1.6zM505.1 160.5h1.6v1.6h-1.6zM482.3 157.3h1.6v1.6h-1.6zM490.1 157.5h1.6v1.6h-1.6zM494.8 164.6h1.6v1.6h-1.6zM491.5 159.9h1.6v1.6h-1.6zM487.5 158.0h1.6v1.6h-1.6zM508.6 170.4h1.6v1.6h-1.6zM497.9 153.4h1.6v1.6h-1.6zM504.7 150.6h1.6v1.6h-1.6zM495.8 166.2h1.6v1.6h-1.6zM503.9 165.5h1.6v1.6h-1.6zM492.2 168.8h1.6v1.6h-1.6zM500.2 150.4h1.6v1.6h-1.6zM506.9 168.7h1.6v1.6h-1.6zM501.0 163.6h1.6v1.6h-1.6zM495.5 174.5h1.6v1.6h-1.6zM488.5 148.9h1.6v1.6h-1.6zM502.3 161.4h1.6v1.6h-1.6zM504.3 157.1h1.6v1.6h-1.6zM497.7 146.0h1.6v1.6h-1.6zM492.0 153.4h1.6v1.6h-1.6zM506.5 169.1h1.6v1.6h-1.6zM527.8 155.5h1.6v1.6h-1.6zM497.2 153.4h1.6v1.6h-1.6zM504.2 166.9h1.6v1.6h-1.6zM504.7 167.9h1.6v1.6h-1.6zM472.3 167.9h1.6v1.6h-1.6zM501.9 152.8h1.6v1.6h-1.6zM469.0 166.0h1.6v1.6h-1.6zM469.0 177.5h1.6v1.6h-1.6zM525.0 140.0h1.6v1.6h-1.6zM492.0 133.5h1.6v1.6h-1.6zM528.0 167.0h1.6v1.6h-1.6zM500.0 181.0h1.6v1.6h-1.6z" fill="#1f70b5"/>
<rect x="455.6" y="124.7" width="50.8" height="4.8" rx="0.8" fill="#fff" fill-opacity="0.85" stroke="#bbb" stroke-width="0.6"/>
<rect x="459.6" y="125.5" width="2" height="1.4" fill="#9fd3f2"/>
<rect x="459.6" y="127.5" width="2" height="1.4" fill="#5cb83c"/>
<text x="462.60" y="126.90" font-size="2.3" fill="#222" text-anchor="start" font-weight="normal" textLength="37.0" lengthAdjust="spacingAndGlyphs">Regression: y = 0.1866 x + 3.4414</text>
<text x="462.60" y="129.00" font-size="2.3" fill="#222" text-anchor="start" font-weight="normal" textLength="32.0" lengthAdjust="spacingAndGlyphs">r = 0.111, p-value = 0.00808</text>
<rect x="140.50" y="203.50" width="99.00" height="88.00" fill="#fff" stroke="#bfcde8" stroke-width="1.2"/>
<text x="190.00" y="206.80" font-size="2.7" fill="#6a6a6a" text-anchor="middle" font-weight="bold" textLength="74.0" lengthAdjust="spacingAndGlyphs">hsa-miR-132-3p vs. KCNQ1OT1, 578 samples (miRNA)</text>
<text x="190.00" y="210.20" font-size="2.7" fill="#666" text-anchor="middle" font-weight="normal" textLength="39.0" lengthAdjust="spacingAndGlyphs">Data Source: starBase v3.0 project</text>
<rect x="154" y="215.3" width="82" height="64.0" fill="#fff" stroke="#e6e6e6" stroke-width="0.6"/>
<line x1="154" y1="215.30" x2="236" y2="215.30" stroke="#efefef" stroke-width="0.6"/>
<text x="151.50" y="216.20" font-size="2.7" fill="#888" text-anchor="end" font-weight="normal">10</text>
<line x1="154" y1="228.10" x2="236" y2="228.10" stroke="#efefef" stroke-width="0.6"/>
<text x="151.50" y="229.00" font-size="2.7" fill="#888" text-anchor="end" font-weight="normal">7.5</text>
<line x1="154" y1="240.90" x2="236" y2="240.90" stroke="#efefef" stroke-width="0.6"/>
<text x="151.50" y="241.80" font-size="2.7" fill="#888" text-anchor="end" font-weight="normal">5</text>
<line x1="154" y1="253.70" x2="236" y2="253.70" stroke="#efefef" stroke-width="0.6"/>
<text x="151.50" y="254.60" font-size="2.7" fill="#888" text-anchor="end" font-weight="normal">2.5</text>
<line x1="154" y1="266.50" x2="236" y2="266.50" stroke="#efefef" stroke-width="0.6"/>
<text x="151.50" y="267.40" font-size="2.7" fill="#888" text-anchor="end" font-weight="normal">0</text>
<line x1="154" y1="279.30" x2="236" y2="279.30" stroke="#efefef" stroke-width="0.6"/>
<text x="151.50" y="280.20" font-size="2.7" fill="#888" text-anchor="end" font-weight="normal">-2.5</text>
<text x="144.30" y="247.30" font-size="2.8" fill="#888" text-anchor="middle" font-weight="normal" textLength="40.0" lengthAdjust="spacingAndGlyphs" transform="rotate(-90 144.30 247.30)">Expression level: log2(Intensity+0.01)</text>
<text x="175.50" y="282.90" font-size="2.6" fill="#999" text-anchor="middle" font-weight="normal" textLength="22.0" lengthAdjust="spacingAndGlyphs">hsa-miR-132-3p (RPM)</text>
<text x="217.00" y="282.90" font-size="2.6" fill="#999" text-anchor="middle" font-weight="normal" textLength="20.0" lengthAdjust="spacingAndGlyphs">KCNQ1OT1 (FPKM)</text>
<rect x="166" y="283.8" width="46.6" height="5.7" rx="1" fill="#fff" stroke="#8a8a8a" stroke-width="0.8"/>
<rect x="168" y="285.40000000000003" width="4" height="2.6" fill="#2a7fc0"/>
<text x="173.50" y="287.90" font-size="2.6" fill="#555" text-anchor="start" font-weight="normal" textLength="10.0" lengthAdjust="spacingAndGlyphs">Box plot</text>
<rect x="187.5" y="286.1" width="1.2" height="1.2" fill="#9cd0f0"/>
<text x="190.00" y="287.90" font-size="2.6" fill="#555" text-anchor="start" font-weight="normal" textLength="20.0" lengthAdjust="spacingAndGlyphs">Gene expression</text>
<rect x="174.20" y="236.20" width="1.6" height="1.40" fill="#8fc8ec"/>
<line x1="175" y1="221.4" x2="175" y2="226.5" stroke="#dc4848" stroke-width="1.1" stroke-dasharray="1 2"/>
<line x1="175" y1="231.5" x2="175" y2="236.1" stroke="#dc4848" stroke-width="1.1" stroke-dasharray="1 2"/>
<line x1="171.60" y1="221.4" x2="178.40" y2="221.4" stroke="#70c050" stroke-width="1"/>
<line x1="171.60" y1="236.1" x2="178.40" y2="236.1" stroke="#70c050" stroke-width="1"/>
<rect x="164.75" y="226.50" width="20.50" height="5.00" fill="#fcf6e0" stroke="#6cbbe8" stroke-width="1"/>
<line x1="164.75" y1="229" x2="185.25" y2="229" stroke="#3b78a8" stroke-width="0.6"/>
<rect x="215.80" y="253.00" width="1.6" height="1.40" fill="#8fc8ec"/>
<line x1="216.60" y1="256.00" x2="216.60" y2="261.50" stroke="#7cc0ea" stroke-width="1.5" stroke-dasharray="1.3 1"/>
<line x1="216.6" y1="261.7" x2="216.6" y2="267.4" stroke="#dc4848" stroke-width="1.1" stroke-dasharray="1 2"/>
<line x1="216.6" y1="272.1" x2="216.6" y2="275.2" stroke="#dc4848" stroke-width="1.1" stroke-dasharray="1 2"/>
<line x1="213.20" y1="261.7" x2="220.00" y2="261.7" stroke="#70c050" stroke-width="1"/>
<line x1="213.20" y1="275.2" x2="220.00" y2="275.2" stroke="#70c050" stroke-width="1"/>
<rect x="206.35" y="267.40" width="20.50" height="4.70" fill="#fcf6e0" stroke="#6cbbe8" stroke-width="1"/>
<line x1="206.35" y1="269.9" x2="226.85" y2="269.9" stroke="#3b78a8" stroke-width="0.6"/>
<rect x="240.50" y="203.50" width="100.00" height="88.00" fill="#fff" stroke="#bfcde8" stroke-width="1.2"/>
<text x="292.00" y="206.80" font-size="2.7" fill="#6a6a6a" text-anchor="middle" font-weight="bold" textLength="72.0" lengthAdjust="spacingAndGlyphs">hsa-miR-132-3p vs. KCNQ1OT1, 578 samples (LIHC)</text>
<text x="292.00" y="210.20" font-size="2.7" fill="#666" text-anchor="middle" font-weight="normal" textLength="37.0" lengthAdjust="spacingAndGlyphs">Data Source: starBase v3.0 project</text>
<rect x="252.3" y="215.3" width="84.70" height="67.50" fill="#fff" stroke="#e6e6e6" stroke-width="0.6"/>
<line x1="252.3" y1="215.30" x2="337" y2="215.30" stroke="#efefef" stroke-width="0.6"/>
<text x="250.00" y="216.20" font-size="2.6" fill="#888" text-anchor="end" font-weight="normal">8</text>
<line x1="252.3" y1="224.94" x2="337" y2="224.94" stroke="#efefef" stroke-width="0.6"/>
<text x="250.00" y="225.84" font-size="2.6" fill="#888" text-anchor="end" font-weight="normal">7</text>
<line x1="252.3" y1="234.59" x2="337" y2="234.59" stroke="#efefef" stroke-width="0.6"/>
<text x="250.00" y="235.49" font-size="2.6" fill="#888" text-anchor="end" font-weight="normal">6</text>
<line x1="252.3" y1="244.23" x2="337" y2="244.23" stroke="#efefef" stroke-width="0.6"/>
<text x="250.00" y="245.13" font-size="2.6" fill="#888" text-anchor="end" font-weight="normal">5</text>
<line x1="252.3" y1="253.87" x2="337" y2="253.87" stroke="#efefef" stroke-width="0.6"/>
<text x="250.00" y="254.77" font-size="2.6" fill="#888" text-anchor="end" font-weight="normal">4</text>
<line x1="252.3" y1="263.51" x2="337" y2="263.51" stroke="#efefef" stroke-width="0.6"/>
<text x="250.00" y="264.41" font-size="2.6" fill="#888" text-anchor="end" font-weight="normal">3</text>
<line x1="252.3" y1="273.16" x2="337" y2="273.16" stroke="#efefef" stroke-width="0.6"/>
<text x="250.00" y="274.06" font-size="2.6" fill="#888" text-anchor="end" font-weight="normal">2</text>
<line x1="252.3" y1="282.80" x2="337" y2="282.80" stroke="#efefef" stroke-width="0.6"/>
<text x="250.00" y="283.70" font-size="2.6" fill="#888" text-anchor="end" font-weight="normal">1</text>
<text x="253.00" y="286.40" font-size="2.8" fill="#777" text-anchor="middle" font-weight="normal">1</text>
<text x="269.94" y="286.40" font-size="2.8" fill="#777" text-anchor="middle" font-weight="normal">2</text>
<text x="286.88" y="286.40" font-size="2.8" fill="#777" text-anchor="middle" font-weight="normal">3</text>
<text x="303.82" y="286.40" font-size="2.8" fill="#777" text-anchor="middle" font-weight="normal">4</text>
<text x="320.76" y="286.40" font-size="2.8" fill="#777" text-anchor="middle" font-weight="normal">5</text>
<text x="337.70" y="286.40" font-size="2.8" fill="#777" text-anchor="middle" font-weight="normal">6</text>
<text x="296.00" y="289.30" font-size="2.6" fill="#888" text-anchor="middle" font-weight="normal" textLength="60.0" lengthAdjust="spacingAndGlyphs">hsa-miR-212-3p: Expression level: log2(RPM+0.01)</text>
<text x="245.20" y="246.50" font-size="2.6" fill="#888" text-anchor="middle" font-weight="normal" textLength="42.0" lengthAdjust="spacingAndGlyphs" transform="rotate(-90 245.20 246.50)">KCNQ1OT1: Expression level: log2(FPKM+0.01)</text>
<line x1="266.6" y1="267.4" x2="328" y2="259.2" stroke="#f29a9a" stroke-width="1.4"/>
<path d="M293.4 270.2h1.6v1.6h-1.6zM305.3 273.5h1.6v1.6h-1.6zM286.8 271.7h1.6v1.6h-1.6zM285.8 274.0h1.6v1.6h-1.6zM303.1 269.1h1.6v1.6h-1.6zM311.2 271.2h1.6v1.6h-1.6zM281.3 268.0h1.6v1.6h-1.6zM278.0 270.4h1.6v1.6h-1.6zM282.9 270.4h1.6v1.6h-1.6zM292.5 265.7h1.6v1.6h-1.6zM300.8 278.1h1.6v1.6h-1.6zM292.4 270.4h1.6v1.6h-1.6zM286.3 264.8h1.6v1.6h-1.6zM295.7 276.0h1.6v1.6h-1.6zM283.4 267.6h1.6v1.6h-1.6zM293.5 273.3h1.6v1.6h-1.6zM286.9 270.9h1.6v1.6h-1.6zM323.5 272.1h1.6v1.6h-1.6zM303.0 271.8h1.6v1.6h-1.6zM284.8 268.4h1.6v1.6h-1.6zM283.0 271.2h1.6v1.6h-1.6zM275.9 260.9h1.6v1.6h-1.6zM286.0 271.3h1.6v1.6h-1.6zM285.9 273.0h1.6v1.6h-1.6zM303.7 266.3h1.6v1.6h-1.6zM289.3 264.8h1.6v1.6h-1.6zM279.3 269.3h1.6v1.6h-1.6zM293.3 273.4h1.6v1.6h-1.6zM291.6 271.3h1.6v1.6h-1.6zM306.5 273.1h1.6v1.6h-1.6zM287.1 273.9h1.6v1.6h-1.6zM305.7 276.3h1.6v1.6h-1.6zM296.8 273.0h1.6v1.6h-1.6zM293.9 271.7h1.6v1.6h-1.6zM271.9 271.8h1.6v1.6h-1.6zM279.8 277.1h1.6v1.6h-1.6zM302.2 274.7h1.6v1.6h-1.6zM309.4 266.5h1.6v1.6h-1.6zM296.3 268.1h1.6v1.6h-1.6zM302.4 272.5h1.6v1.6h-1.6zM289.5 268.2h1.6v1.6h-1.6zM289.9 269.3h1.6v1.6h-1.6zM286.7 266.7h1.6v1.6h-1.6zM304.7 269.8h1.6v1.6h-1.6zM297.8 272.9h1.6v1.6h-1.6zM291.4 275.5h1.6v1.6h-1.6zM290.4 271.0h1.6v1.6h-1.6zM297.6 270.7h1.6v1.6h-1.6zM312.9 275.5h1.6v1.6h-1.6zM296.8 273.2h1.6v1.6h-1.6zM294.1 268.8h1.6v1.6h-1.6zM310.3 258.3h1.6v1.6h-1.6zM305.3 270.3h1.6v1.6h-1.6zM293.0 271.8h1.6v1.6h-1.6zM282.2 264.8h1.6v1.6h-1.6zM269.1 269.9h1.6v1.6h-1.6zM307.4 274.3h1.6v1.6h-1.6zM273.1 259.6h1.6v1.6h-1.6zM301.5 271.6h1.6v1.6h-1.6zM284.9 269.5h1.6v1.6h-1.6zM283.2 274.1h1.6v1.6h-1.6zM291.9 271.4h1.6v1.6h-1.6zM296.9 265.9h1.6v1.6h-1.6zM300.7 275.3h1.6v1.6h-1.6zM313.5 274.1h1.6v1.6h-1.6zM297.9 273.7h1.6v1.6h-1.6zM303.7 275.5h1.6v1.6h-1.6zM287.4 276.0h1.6v1.6h-1.6zM301.9 270.9h1.6v1.6h-1.6zM295.7 264.9h1.6v1.6h-1.6zM288.9 264.8h1.6v1.6h-1.6zM292.9 277.1h1.6v1.6h-1.6zM293.3 274.2h1.6v1.6h-1.6zM296.1 271.5h1.6v1.6h-1.6zM298.4 269.0h1.6v1.6h-1.6zM288.4 271.1h1.6v1.6h-1.6zM285.9 271.1h1.6v1.6h-1.6zM302.2 269.5h1.6v1.6h-1.6zM275.3 267.9h1.6v1.6h-1.6zM311.1 272.0h1.6v1.6h-1.6zM286.4 265.1h1.6v1.6h-1.6zM301.6 267.7h1.6v1.6h-1.6zM275.8 274.2h1.6v1.6h-1.6zM322.6 274.4h1.6v1.6h-1.6zM309.8 271.2h1.6v1.6h-1.6zM311.1 269.6h1.6v1.6h-1.6zM304.1 266.0h1.6v1.6h-1.6zM291.6 276.9h1.6v1.6h-1.6zM297.9 272.7h1.6v1.6h-1.6zM302.9 267.6h1.6v1.6h-1.6zM281.7 270.4h1.6v1.6h-1.6zM291.0 275.0h1.6v1.6h-1.6zM305.0 269.9h1.6v1.6h-1.6zM281.7 264.8h1.6v1.6h-1.6zM290.0 266.7h1.6v1.6h-1.6zM295.8 271.5h1.6v1.6h-1.6zM279.2 272.5h1.6v1.6h-1.6zM306.8 270.6h1.6v1.6h-1.6zM297.7 275.5h1.6v1.6h-1.6zM277.3 275.5h1.6v1.6h-1.6zM293.5 272.5h1.6v1.6h-1.6zM285.5 271.1h1.6v1.6h-1.6zM286.8 269.9h1.6v1.6h-1.6zM294.8 273.5h1.6v1.6h-1.6zM286.2 275.1h1.6v1.6h-1.6zM304.6 271.3h1.6v1.6h-1.6zM286.2 273.0h1.6v1.6h-1.6zM304.8 269.5h1.6v1.6h-1.6zM293.5 264.6h1.6v1.6h-1.6zM303.4 266.5h1.6v1.6h-1.6zM288.0 274.4h1.6v1.6h-1.6zM288.4 273.0h1.6v1.6h-1.6zM281.3 278.2h1.6v1.6h-1.6zM300.4 271.3h1.6v1.6h-1.6zM304.3 274.9h1.6v1.6h-1.6zM317.3 277.0h1.6v1.6h-1.6zM308.2 275.5h1.6v1.6h-1.6zM296.7 268.3h1.6v1.6h-1.6zM291.7 270.2h1.6v1.6h-1.6zM298.3 271.6h1.6v1.6h-1.6zM293.7 266.6h1.6v1.6h-1.6zM310.1 273.1h1.6v1.6h-1.6zM304.4 275.6h1.6v1.6h-1.6zM284.8 268.8h1.6v1.6h-1.6zM309.0 269.7h1.6v1.6h-1.6zM297.4 270.1h1.6v1.6h-1.6zM291.5 269.9h1.6v1.6h-1.6zM307.0 267.8h1.6v1.6h-1.6zM289.7 272.9h1.6v1.6h-1.6zM290.9 271.1h1.6v1.6h-1.6zM288.9 278.5h1.6v1.6h-1.6zM272.4 273.7h1.6v1.6h-1.6zM303.5 273.4h1.6v1.6h-1.6zM280.7 270.0h1.6v1.6h-1.6zM287.7 264.6h1.6v1.6h-1.6zM285.8 270.6h1.6v1.6h-1.6zM302.0 267.2h1.6v1.6h-1.6zM293.2 275.3h1.6v1.6h-1.6zM294.2 270.9h1.6v1.6h-1.6zM275.5 278.5h1.6v1.6h-1.6zM293.0 274.3h1.6v1.6h-1.6zM277.8 274.8h1.6v1.6h-1.6zM297.4 272.0h1.6v1.6h-1.6zM298.0 271.9h1.6v1.6h-1.6zM293.8 273.9h1.6v1.6h-1.6zM316.5 275.2h1.6v1.6h-1.6zM299.8 267.8h1.6v1.6h-1.6zM300.6 273.2h1.6v1.6h-1.6zM291.9 270.6h1.6v1.6h-1.6zM304.6 269.9h1.6v1.6h-1.6zM306.1 267.9h1.6v1.6h-1.6zM279.7 264.5h1.6v1.6h-1.6zM305.6 276.3h1.6v1.6h-1.6zM299.7 271.3h1.6v1.6h-1.6zM304.6 272.3h1.6v1.6h-1.6zM281.1 267.0h1.6v1.6h-1.6zM314.1 275.7h1.6v1.6h-1.6zM296.8 273.8h1.6v1.6h-1.6zM278.4 272.8h1.6v1.6h-1.6zM297.8 273.2h1.6v1.6h-1.6zM290.0 270.9h1.6v1.6h-1.6zM273.7 278.2h1.6v1.6h-1.6zM268.8 273.8h1.6v1.6h-1.6zM276.4 272.6h1.6v1.6h-1.6zM297.0 276.6h1.6v1.6h-1.6zM293.5 275.0h1.6v1.6h-1.6zM291.3 273.1h1.6v1.6h-1.6zM297.1 272.5h1.6v1.6h-1.6zM300.6 278.9h1.6v1.6h-1.6zM270.9 273.3h1.6v1.6h-1.6zM290.7 270.6h1.6v1.6h-1.6zM284.9 267.2h1.6v1.6h-1.6zM280.4 269.5h1.6v1.6h-1.6zM288.0 266.3h1.6v1.6h-1.6zM292.6 271.5h1.6v1.6h-1.6zM291.1 272.2h1.6v1.6h-1.6zM278.0 261.8h1.6v1.6h-1.6zM288.7 271.1h1.6v1.6h-1.6zM316.2 273.9h1.6v1.6h-1.6zM282.4 271.8h1.6v1.6h-1.6zM275.4 266.7h1.6v1.6h-1.6zM297.0 276.7h1.6v1.6h-1.6zM300.6 267.9h1.6v1.6h-1.6zM299.1 265.5h1.6v1.6h-1.6zM281.7 266.1h1.6v1.6h-1.6zM305.0 270.9h1.6v1.6h-1.6zM285.4 275.4h1.6v1.6h-1.6zM281.5 276.3h1.6v1.6h-1.6zM287.3 272.0h1.6v1.6h-1.6zM292.8 265.6h1.6v1.6h-1.6zM301.9 268.1h1.6v1.6h-1.6zM300.9 267.0h1.6v1.6h-1.6zM293.8 270.2h1.6v1.6h-1.6zM304.3 263.0h1.6v1.6h-1.6zM294.9 271.5h1.6v1.6h-1.6zM303.9 273.9h1.6v1.6h-1.6zM278.6 270.3h1.6v1.6h-1.6zM276.7 273.1h1.6v1.6h-1.6zM302.5 266.8h1.6v1.6h-1.6zM278.7 264.5h1.6v1.6h-1.6zM290.7 268.1h1.6v1.6h-1.6zM292.9 276.2h1.6v1.6h-1.6zM288.6 275.6h1.6v1.6h-1.6zM289.0 268.9h1.6v1.6h-1.6zM309.3 276.4h1.6v1.6h-1.6zM266.2 269.5h1.6v1.6h-1.6zM303.7 277.8h1.6v1.6h-1.6zM319.2 273.2h1.6v1.6h-1.6zM294.3 269.0h1.6v1.6h-1.6zM293.8 274.6h1.6v1.6h-1.6zM302.0 267.5h1.6v1.6h-1.6zM314.1 266.8h1.6v1.6h-1.6zM280.9 264.5h1.6v1.6h-1.6zM295.0 272.2h1.6v1.6h-1.6zM296.5 237.0h1.6v1.6h-1.6zM292.9 249.2h1.6v1.6h-1.6zM292.8 260.4h1.6v1.6h-1.6zM309.5 264.5h1.6v1.6h-1.6zM300.4 255.0h1.6v1.6h-1.6zM291.0 258.3h1.6v1.6h-1.6zM297.2 265.6h1.6v1.6h-1.6zM283.3 243.4h1.6v1.6h-1.6zM290.7 264.8h1.6v1.6h-1.6zM296.2 263.4h1.6v1.6h-1.6zM290.5 262.4h1.6v1.6h-1.6zM285.9 256.3h1.6v1.6h-1.6zM286.8 254.9h1.6v1.6h-1.6zM310.4 260.7h1.6v1.6h-1.6zM286.7 262.1h1.6v1.6h-1.6zM290.1 262.0h1.6v1.6h-1.6zM300.2 265.3h1.6v1.6h-1.6zM293.0 250.0h1.6v1.6h-1.6zM289.3 240.3h1.6v1.6h-1.6zM300.7 247.2h1.6v1.6h-1.6zM289.0 260.2h1.6v1.6h-1.6zM312.7 261.6h1.6v1.6h-1.6zM287.8 249.1h1.6v1.6h-1.6zM290.0 261.9h1.6v1.6h-1.6zM302.3 249.6h1.6v1.6h-1.6zM279.2 246.4h1.6v1.6h-1.6zM303.5 236.8h1.6v1.6h-1.6zM295.1 265.6h1.6v1.6h-1.6zM307.0 261.5h1.6v1.6h-1.6zM295.7 250.3h1.6v1.6h-1.6zM298.1 245.9h1.6v1.6h-1.6zM307.0 267.0h1.6v1.6h-1.6zM298.7 256.3h1.6v1.6h-1.6zM287.0 264.5h1.6v1.6h-1.6zM286.5 266.4h1.6v1.6h-1.6zM289.9 238.0h1.6v1.6h-1.6zM299.4 237.4h1.6v1.6h-1.6zM297.3 259.4h1.6v1.6h-1.6zM307.7 257.8h1.6v1.6h-1.6zM291.0 265.6h1.6v1.6h-1.6zM286.3 261.8h1.6v1.6h-1.6zM305.5 263.4h1.6v1.6h-1.6zM296.0 252.7h1.6v1.6h-1.6zM296.5 264.1h1.6v1.6h-1.6zM297.8 253.3h1.6v1.6h-1.6zM301.1 260.5h1.6v1.6h-1.6zM301.5 265.7h1.6v1.6h-1.6zM307.1 266.1h1.6v1.6h-1.6zM300.1 244.7h1.6v1.6h-1.6zM295.7 259.2h1.6v1.6h-1.6zM293.0 264.6h1.6v1.6h-1.6zM288.7 251.9h1.6v1.6h-1.6zM318.5 261.0h1.6v1.6h-1.6zM301.0 262.0h1.6v1.6h-1.6zM309.6 265.7h1.6v1.6h-1.6zM297.8 266.6h1.6v1.6h-1.6zM298.3 262.1h1.6v1.6h-1.6zM303.8 261.4h1.6v1.6h-1.6zM302.3 264.7h1.6v1.6h-1.6zM307.9 261.6h1.6v1.6h-1.6zM307.2 259.9h1.6v1.6h-1.6zM303.1 261.1h1.6v1.6h-1.6zM298.9 266.9h1.6v1.6h-1.6zM306.4 262.6h1.6v1.6h-1.6zM309.1 247.0h1.6v1.6h-1.6zM287.0 236.8h1.6v1.6h-1.6zM313.4 265.4h1.6v1.6h-1.6zM298.1 255.5h1.6v1.6h-1.6zM279.0 256.8h1.6v1.6h-1.6zM303.6 266.1h1.6v1.6h-1.6zM306.4 260.9h1.6v1.6h-1.6zM297.1 246.8h1.6v1.6h-1.6zM300.4 265.1h1.6v1.6h-1.6zM300.6 260.0h1.6v1.6h-1.6zM290.8 261.3h1.6v1.6h-1.6zM285.9 259.5h1.6v1.6h-1.6zM296.0 265.8h1.6v1.6h-1.6zM316.6 263.5h1.6v1.6h-1.6zM300.6 256.7h1.6v1.6h-1.6zM301.3 254.1h1.6v1.6h-1.6zM287.8 264.1h1.6v1.6h-1.6zM306.7 266.6h1.6v1.6h-1.6zM293.6 263.5h1.6v1.6h-1.6zM311.5 265.1h1.6v1.6h-1.6zM308.2 264.2h1.6v1.6h-1.6zM293.2 264.8h1.6v1.6h-1.6zM311.7 260.7h1.6v1.6h-1.6zM275.6 265.1h1.6v1.6h-1.6zM314.8 263.3h1.6v1.6h-1.6zM283.4 259.3h1.6v1.6h-1.6zM295.9 256.6h1.6v1.6h-1.6zM292.2 258.7h1.6v1.6h-1.6zM292.4 250.1h1.6v1.6h-1.6zM288.9 261.1h1.6v1.6h-1.6zM295.6 237.5h1.6v1.6h-1.6zM300.7 264.2h1.6v1.6h-1.6zM302.4 252.4h1.6v1.6h-1.6zM307.9 260.8h1.6v1.6h-1.6zM291.5 263.9h1.6v1.6h-1.6zM314.9 262.1h1.6v1.6h-1.6zM296.6 266.5h1.6v1.6h-1.6zM305.8 260.0h1.6v1.6h-1.6zM278.7 260.4h1.6v1.6h-1.6zM304.7 253.6h1.6v1.6h-1.6zM284.1 252.8h1.6v1.6h-1.6zM291.7 265.6h1.6v1.6h-1.6zM301.2 260.5h1.6v1.6h-1.6zM291.1 263.7h1.6v1.6h-1.6zM287.8 238.4h1.6v1.6h-1.6zM301.4 252.7h1.6v1.6h-1.6zM306.1 256.2h1.6v1.6h-1.6zM290.7 260.7h1.6v1.6h-1.6zM293.1 260.5h1.6v1.6h-1.6zM300.2 251.9h1.6v1.6h-1.6zM297.0 265.7h1.6v1.6h-1.6zM293.9 250.5h1.6v1.6h-1.6zM283.0 230.5h1.6v1.6h-1.6zM297.0 227.0h1.6v1.6h-1.6zM321.0 221.0h1.6v1.6h-1.6zM266.0 253.0h1.6v1.6h-1.6zM326.0 260.0h1.6v1.6h-1.6z" fill="#1f70b5"/>
<rect x="252.6" y="215.7" width="50.8" height="4.8" rx="0.8" fill="#fff" fill-opacity="0.85" stroke="#bbb" stroke-width="0.6"/>
<rect x="256.6" y="216.5" width="2" height="1.4" fill="#9fd3f2"/>
<rect x="256.6" y="218.5" width="2" height="1.4" fill="#5cb83c"/>
<text x="259.60" y="217.90" font-size="2.3" fill="#222" text-anchor="start" font-weight="normal" textLength="37.0" lengthAdjust="spacingAndGlyphs">Regression: y = 0.1982 x + 3.2218</text>
<text x="259.60" y="220.00" font-size="2.3" fill="#222" text-anchor="start" font-weight="normal" textLength="32.0" lengthAdjust="spacingAndGlyphs">r = 0.101, p-value = 0.00912</text>
<rect x="342.50" y="203.50" width="100.00" height="88.00" fill="#fff" stroke="#bfcde8" stroke-width="1.2"/>
<text x="392.00" y="206.80" font-size="2.7" fill="#6a6a6a" text-anchor="middle" font-weight="bold" textLength="74.0" lengthAdjust="spacingAndGlyphs">hsa-miR-132-3p vs. MIR137HG, 578 samples (miRNA)</text>
<text x="392.00" y="210.20" font-size="2.7" fill="#666" text-anchor="middle" font-weight="normal" textLength="39.0" lengthAdjust="spacingAndGlyphs">Data Source: starBase v3.0 project</text>
<rect x="356" y="215.3" width="82" height="64.0" fill="#fff" stroke="#e6e6e6" stroke-width="0.6"/>
<line x1="356" y1="215.30" x2="438" y2="215.30" stroke="#efefef" stroke-width="0.6"/>
<text x="353.50" y="216.20" font-size="2.7" fill="#888" text-anchor="end" font-weight="normal">10</text>
<line x1="356" y1="228.10" x2="438" y2="228.10" stroke="#efefef" stroke-width="0.6"/>
<text x="353.50" y="229.00" font-size="2.7" fill="#888" text-anchor="end" font-weight="normal">7.5</text>
<line x1="356" y1="240.90" x2="438" y2="240.90" stroke="#efefef" stroke-width="0.6"/>
<text x="353.50" y="241.80" font-size="2.7" fill="#888" text-anchor="end" font-weight="normal">5</text>
<line x1="356" y1="253.70" x2="438" y2="253.70" stroke="#efefef" stroke-width="0.6"/>
<text x="353.50" y="254.60" font-size="2.7" fill="#888" text-anchor="end" font-weight="normal">2.5</text>
<line x1="356" y1="266.50" x2="438" y2="266.50" stroke="#efefef" stroke-width="0.6"/>
<text x="353.50" y="267.40" font-size="2.7" fill="#888" text-anchor="end" font-weight="normal">0</text>
<line x1="356" y1="279.30" x2="438" y2="279.30" stroke="#efefef" stroke-width="0.6"/>
<text x="353.50" y="280.20" font-size="2.7" fill="#888" text-anchor="end" font-weight="normal">-2.5</text>
<text x="346.30" y="247.30" font-size="2.8" fill="#888" text-anchor="middle" font-weight="normal" textLength="40.0" lengthAdjust="spacingAndGlyphs" transform="rotate(-90 346.30 247.30)">Expression level: log2(Intensity+0.01)</text>
<text x="377.50" y="282.90" font-size="2.6" fill="#999" text-anchor="middle" font-weight="normal" textLength="22.0" lengthAdjust="spacingAndGlyphs">hsa-miR-132-3p (RPM)</text>
<text x="419.00" y="282.90" font-size="2.6" fill="#999" text-anchor="middle" font-weight="normal" textLength="20.0" lengthAdjust="spacingAndGlyphs">MIR137HG (FPKM)</text>
<rect x="368" y="283.8" width="46.6" height="5.7" rx="1" fill="#fff" stroke="#8a8a8a" stroke-width="0.8"/>
<rect x="370" y="285.40000000000003" width="4" height="2.6" fill="#2a7fc0"/>
<text x="375.50" y="287.90" font-size="2.6" fill="#555" text-anchor="start" font-weight="normal" textLength="10.0" lengthAdjust="spacingAndGlyphs">Box plot</text>
<rect x="389.5" y="286.1" width="1.2" height="1.2" fill="#9cd0f0"/>
<text x="392.00" y="287.90" font-size="2.6" fill="#555" text-anchor="start" font-weight="normal" textLength="20.0" lengthAdjust="spacingAndGlyphs">Gene expression</text>
<rect x="377.00" y="236.20" width="1.6" height="1.40" fill="#8fc8ec"/>
<line x1="377.8" y1="221.4" x2="377.8" y2="226.5" stroke="#dc4848" stroke-width="1.1" stroke-dasharray="1 2"/>
<line x1="377.8" y1="231.5" x2="377.8" y2="236.1" stroke="#dc4848" stroke-width="1.1" stroke-dasharray="1 2"/>
<line x1="374.40" y1="221.4" x2="381.20" y2="221.4" stroke="#70c050" stroke-width="1"/>
<line x1="374.40" y1="236.1" x2="381.20" y2="236.1" stroke="#70c050" stroke-width="1"/>
<rect x="367.55" y="226.50" width="20.50" height="5.00" fill="#fcf6e0" stroke="#6cbbe8" stroke-width="1"/>
<line x1="367.55" y1="229" x2="388.05" y2="229" stroke="#3b78a8" stroke-width="0.6"/>
<line x1="419.30" y1="253.00" x2="419.30" y2="275.00" stroke="#7cc0ea" stroke-width="1.5" stroke-dasharray="1.3 1"/>
<line x1="419.3" y1="275.5" x2="419.3" y2="275.2" stroke="#dc4848" stroke-width="1.1" stroke-dasharray="1 2"/>
<line x1="419.3" y1="275.8" x2="419.3" y2="275.5" stroke="#dc4848" stroke-width="1.1" stroke-dasharray="1 2"/>
<line x1="415.90" y1="275.5" x2="422.70" y2="275.5" stroke="#70c050" stroke-width="1"/>
<line x1="415.90" y1="275.5" x2="422.70" y2="275.5" stroke="#70c050" stroke-width="1"/>
<rect x="409.05" y="274.50" width="20.50" height="1.4" fill="#6cb8e6"/>
<rect x="443.50" y="203.50" width="100.00" height="88.00" fill="#fff" stroke="#bfcde8" stroke-width="1.2"/>
<text x="495.00" y="206.80" font-size="2.7" fill="#6a6a6a" text-anchor="middle" font-weight="bold" textLength="72.0" lengthAdjust="spacingAndGlyphs">hsa-miR-132-3p vs. MIR137HG, 578 samples (LIHC)</text>
<text x="495.00" y="210.20" font-size="2.7" fill="#666" text-anchor="middle" font-weight="normal" textLength="37.0" lengthAdjust="spacingAndGlyphs">Data Source: starBase v3.0 project</text>
<rect x="455.3" y="215.3" width="84.70" height="67.50" fill="#fff" stroke="#e6e6e6" stroke-width="0.6"/>
<line x1="455.3" y1="215.30" x2="540" y2="215.30" stroke="#efefef" stroke-width="0.6"/>
<text x="453.00" y="216.20" font-size="2.6" fill="#888" text-anchor="end" font-weight="normal">8</text>
<line x1="455.3" y1="224.94" x2="540" y2="224.94" stroke="#efefef" stroke-width="0.6"/>
<text x="453.00" y="225.84" font-size="2.6" fill="#888" text-anchor="end" font-weight="normal">7</text>
<line x1="455.3" y1="234.59" x2="540" y2="234.59" stroke="#efefef" stroke-width="0.6"/>
<text x="453.00" y="235.49" font-size="2.6" fill="#888" text-anchor="end" font-weight="normal">6</text>
<line x1="455.3" y1="244.23" x2="540" y2="244.23" stroke="#efefef" stroke-width="0.6"/>
<text x="453.00" y="245.13" font-size="2.6" fill="#888" text-anchor="end" font-weight="normal">5</text>
<line x1="455.3" y1="253.87" x2="540" y2="253.87" stroke="#efefef" stroke-width="0.6"/>
<text x="453.00" y="254.77" font-size="2.6" fill="#888" text-anchor="end" font-weight="normal">4</text>
<line x1="455.3" y1="263.51" x2="540" y2="263.51" stroke="#efefef" stroke-width="0.6"/>
<text x="453.00" y="264.41" font-size="2.6" fill="#888" text-anchor="end" font-weight="normal">3</text>
<line x1="455.3" y1="273.16" x2="540" y2="273.16" stroke="#efefef" stroke-width="0.6"/>
<text x="453.00" y="274.06" font-size="2.6" fill="#888" text-anchor="end" font-weight="normal">2</text>
<line x1="455.3" y1="282.80" x2="540" y2="282.80" stroke="#efefef" stroke-width="0.6"/>
<text x="453.00" y="283.70" font-size="2.6" fill="#888" text-anchor="end" font-weight="normal">1</text>
<text x="456.00" y="286.40" font-size="2.8" fill="#777" text-anchor="middle" font-weight="normal">1</text>
<text x="472.94" y="286.40" font-size="2.8" fill="#777" text-anchor="middle" font-weight="normal">2</text>
<text x="489.88" y="286.40" font-size="2.8" fill="#777" text-anchor="middle" font-weight="normal">3</text>
<text x="506.82" y="286.40" font-size="2.8" fill="#777" text-anchor="middle" font-weight="normal">4</text>
<text x="523.76" y="286.40" font-size="2.8" fill="#777" text-anchor="middle" font-weight="normal">5</text>
<text x="540.70" y="286.40" font-size="2.8" fill="#777" text-anchor="middle" font-weight="normal">6</text>
<text x="499.00" y="289.30" font-size="2.6" fill="#888" text-anchor="middle" font-weight="normal" textLength="60.0" lengthAdjust="spacingAndGlyphs">hsa-miR-212-3p: Expression level: log2(RPM+0.01)</text>
<text x="448.20" y="246.50" font-size="2.6" fill="#888" text-anchor="middle" font-weight="normal" textLength="42.0" lengthAdjust="spacingAndGlyphs" transform="rotate(-90 448.20 246.50)">MIR137HG: Expression level: log2(FPKM+0.01)</text>
<line x1="468.6" y1="280.7" x2="531" y2="269.5" stroke="#f29a9a" stroke-width="1.4"/>
<path d="M474.3 278.8h1.6v1.6h-1.6zM475.2 278.3h1.6v1.6h-1.6zM476.1 278.3h1.6v1.6h-1.6zM477.0 277.8h1.6v1.6h-1.6zM477.9 278.4h1.6v1.6h-1.6zM478.8 278.3h1.6v1.6h-1.6zM479.7 277.9h1.6v1.6h-1.6zM480.6 278.5h1.6v1.6h-1.6zM481.5 278.5h1.6v1.6h-1.6zM482.4 278.2h1.6v1.6h-1.6zM483.3 278.3h1.6v1.6h-1.6zM484.2 278.2h1.6v1.6h-1.6zM485.1 278.6h1.6v1.6h-1.6zM486.0 278.0h1.6v1.6h-1.6zM486.9 278.3h1.6v1.6h-1.6zM487.8 278.9h1.6v1.6h-1.6zM488.7 278.4h1.6v1.6h-1.6zM489.6 278.5h1.6v1.6h-1.6zM490.5 278.4h1.6v1.6h-1.6zM491.4 278.1h1.6v1.6h-1.6zM492.3 278.4h1.6v1.6h-1.6zM493.2 278.5h1.6v1.6h-1.6zM494.1 278.1h1.6v1.6h-1.6zM495.0 278.5h1.6v1.6h-1.6zM495.9 278.7h1.6v1.6h-1.6zM496.8 278.7h1.6v1.6h-1.6zM497.7 278.0h1.6v1.6h-1.6zM498.6 278.2h1.6v1.6h-1.6zM499.5 278.0h1.6v1.6h-1.6zM500.4 278.7h1.6v1.6h-1.6zM501.3 278.6h1.6v1.6h-1.6zM502.2 278.6h1.6v1.6h-1.6zM503.1 278.2h1.6v1.6h-1.6zM504.0 278.1h1.6v1.6h-1.6zM504.9 278.4h1.6v1.6h-1.6zM505.8 278.4h1.6v1.6h-1.6zM506.7 278.2h1.6v1.6h-1.6zM507.6 278.4h1.6v1.6h-1.6zM508.5 278.6h1.6v1.6h-1.6zM509.4 278.5h1.6v1.6h-1.6zM510.3 278.1h1.6v1.6h-1.6zM511.2 277.9h1.6v1.6h-1.6zM512.1 278.3h1.6v1.6h-1.6zM513.0 278.4h1.6v1.6h-1.6zM513.9 278.3h1.6v1.6h-1.6zM514.8 278.3h1.6v1.6h-1.6zM515.7 278.2h1.6v1.6h-1.6zM516.6 278.6h1.6v1.6h-1.6zM517.5 278.4h1.6v1.6h-1.6zM518.4 278.4h1.6v1.6h-1.6zM474.3 279.0h1.6v1.6h-1.6zM475.2 279.0h1.6v1.6h-1.6zM476.1 279.2h1.6v1.6h-1.6zM477.0 278.9h1.6v1.6h-1.6zM477.9 278.9h1.6v1.6h-1.6zM478.8 279.1h1.6v1.6h-1.6zM479.7 279.5h1.6v1.6h-1.6zM480.6 279.2h1.6v1.6h-1.6zM481.5 279.6h1.6v1.6h-1.6zM482.4 279.2h1.6v1.6h-1.6zM483.3 279.1h1.6v1.6h-1.6zM484.2 278.9h1.6v1.6h-1.6zM485.1 279.1h1.6v1.6h-1.6zM486.0 279.6h1.6v1.6h-1.6zM486.9 279.3h1.6v1.6h-1.6zM487.8 279.4h1.6v1.6h-1.6zM488.7 279.4h1.6v1.6h-1.6zM489.6 279.2h1.6v1.6h-1.6zM490.5 279.1h1.6v1.6h-1.6zM491.4 279.2h1.6v1.6h-1.6zM492.3 279.4h1.6v1.6h-1.6zM493.2 279.3h1.6v1.6h-1.6zM494.1 279.3h1.6v1.6h-1.6zM495.0 279.2h1.6v1.6h-1.6zM495.9 279.0h1.6v1.6h-1.6zM496.8 279.1h1.6v1.6h-1.6zM497.7 279.0h1.6v1.6h-1.6zM498.6 279.5h1.6v1.6h-1.6zM499.5 278.7h1.6v1.6h-1.6zM500.4 279.1h1.6v1.6h-1.6zM501.3 279.8h1.6v1.6h-1.6zM502.2 279.1h1.6v1.6h-1.6zM503.1 278.9h1.6v1.6h-1.6zM504.0 279.2h1.6v1.6h-1.6zM504.9 279.5h1.6v1.6h-1.6zM505.8 279.2h1.6v1.6h-1.6zM506.7 279.4h1.6v1.6h-1.6zM507.6 279.2h1.6v1.6h-1.6zM508.5 279.1h1.6v1.6h-1.6zM509.4 280.0h1.6v1.6h-1.6zM510.3 279.2h1.6v1.6h-1.6zM511.2 279.1h1.6v1.6h-1.6zM512.1 279.1h1.6v1.6h-1.6zM513.0 279.3h1.6v1.6h-1.6zM513.9 279.3h1.6v1.6h-1.6zM514.8 279.4h1.6v1.6h-1.6zM515.7 279.2h1.6v1.6h-1.6zM516.6 278.8h1.6v1.6h-1.6zM517.5 279.3h1.6v1.6h-1.6zM518.4 279.1h1.6v1.6h-1.6zM499.9 273.4h1.6v1.6h-1.6zM511.1 272.8h1.6v1.6h-1.6zM506.4 273.2h1.6v1.6h-1.6zM514.3 272.3h1.6v1.6h-1.6zM512.0 273.2h1.6v1.6h-1.6zM492.9 272.2h1.6v1.6h-1.6zM502.6 273.6h1.6v1.6h-1.6zM509.2 273.7h1.6v1.6h-1.6zM492.1 273.5h1.6v1.6h-1.6zM503.6 273.2h1.6v1.6h-1.6zM514.8 273.3h1.6v1.6h-1.6zM496.0 270.6h1.6v1.6h-1.6zM492.9 273.5h1.6v1.6h-1.6zM497.2 272.6h1.6v1.6h-1.6zM498.6 272.9h1.6v1.6h-1.6zM497.1 272.6h1.6v1.6h-1.6zM500.8 271.7h1.6v1.6h-1.6zM510.8 272.4h1.6v1.6h-1.6zM502.9 273.3h1.6v1.6h-1.6zM504.7 273.9h1.6v1.6h-1.6zM492.7 272.3h1.6v1.6h-1.6zM491.6 272.1h1.6v1.6h-1.6zM513.8 274.0h1.6v1.6h-1.6zM498.7 272.1h1.6v1.6h-1.6zM513.7 274.5h1.6v1.6h-1.6zM498.4 272.8h1.6v1.6h-1.6zM506.0 272.1h1.6v1.6h-1.6zM506.5 273.6h1.6v1.6h-1.6zM492.2 274.2h1.6v1.6h-1.6zM491.8 271.7h1.6v1.6h-1.6zM506.2 221.8h1.6v1.6h-1.6zM522.9 225.4h1.6v1.6h-1.6zM517.6 229.2h1.6v1.6h-1.6zM518.9 232.4h1.6v1.6h-1.6zM516.0 236.9h1.6v1.6h-1.6zM491.4 236.1h1.6v1.6h-1.6zM503.0 243.7h1.6v1.6h-1.6zM511.0 243.7h1.6v1.6h-1.6zM492.6 246.1h1.6v1.6h-1.6zM499.0 249.3h1.6v1.6h-1.6zM502.2 250.4h1.6v1.6h-1.6zM507.8 247.7h1.6v1.6h-1.6zM510.2 249.6h1.6v1.6h-1.6zM512.5 252.0h1.6v1.6h-1.6zM494.2 254.1h1.6v1.6h-1.6zM493.4 255.2h1.6v1.6h-1.6zM495.3 256.3h1.6v1.6h-1.6zM494.2 257.6h1.6v1.6h-1.6zM495.8 258.1h1.6v1.6h-1.6zM503.8 254.7h1.6v1.6h-1.6zM505.4 255.2h1.6v1.6h-1.6zM510.2 253.1h1.6v1.6h-1.6zM517.3 256.0h1.6v1.6h-1.6zM530.0 260.5h1.6v1.6h-1.6zM522.1 263.2h1.6v1.6h-1.6zM513.3 259.5h1.6v1.6h-1.6zM503.0 262.4h1.6v1.6h-1.6zM503.8 264.8h1.6v1.6h-1.6zM507.0 263.2h1.6v1.6h-1.6zM507.8 265.2h1.6v1.6h-1.6zM511.0 262.4h1.6v1.6h-1.6zM510.6 260.5h1.6v1.6h-1.6zM497.4 264.8h1.6v1.6h-1.6zM514.1 266.3h1.6v1.6h-1.6zM481.5 268.4h1.6v1.6h-1.6zM483.9 271.6h1.6v1.6h-1.6zM476.7 273.5h1.6v1.6h-1.6zM492.6 270.7h1.6v1.6h-1.6zM497.4 270.0h1.6v1.6h-1.6zM500.6 270.3h1.6v1.6h-1.6zM505.4 270.8h1.6v1.6h-1.6zM509.4 272.0h1.6v1.6h-1.6zM523.7 274.3h1.6v1.6h-1.6zM517.3 271.6h1.6v1.6h-1.6zM468.8 279.1h1.6v1.6h-1.6zM488.0 273.0h1.6v1.6h-1.6zM495.0 275.0h1.6v1.6h-1.6zM502.0 275.5h1.6v1.6h-1.6z" fill="#1f70b5"/>
<rect x="455.6" y="215.7" width="50.8" height="4.8" rx="0.8" fill="#fff" fill-opacity="0.85" stroke="#bbb" stroke-width="0.6"/>
<rect x="459.6" y="216.5" width="2" height="1.4" fill="#9fd3f2"/>
<rect x="459.6" y="218.5" width="2" height="1.4" fill="#5cb83c"/>
<text x="462.60" y="217.90" font-size="2.3" fill="#222" text-anchor="start" font-weight="normal" textLength="37.0" lengthAdjust="spacingAndGlyphs">Regression: y = 0.1546 x - 1.9006</text>
<text x="462.60" y="220.00" font-size="2.3" fill="#222" text-anchor="start" font-weight="normal" textLength="32.0" lengthAdjust="spacingAndGlyphs">r = 0.208, p-value = 0.00000046</text>
<rect x="142.3" y="311.5" width="165.50" height="117.80" fill="#fff"/>
<line x1="142.3" y1="317.3" x2="307.8" y2="317.3" stroke="#f1f1f1" stroke-width="0.6"/>
<line x1="142.3" y1="344.0" x2="307.8" y2="344.0" stroke="#f1f1f1" stroke-width="0.6"/>
<line x1="142.3" y1="370.7" x2="307.8" y2="370.7" stroke="#f1f1f1" stroke-width="0.6"/>
<line x1="142.3" y1="397.3" x2="307.8" y2="397.3" stroke="#f1f1f1" stroke-width="0.6"/>
<line x1="142.3" y1="424.0" x2="307.8" y2="424.0" stroke="#f1f1f1" stroke-width="0.6"/>
<line x1="142.3" y1="330.65" x2="307.8" y2="330.65" stroke="#f8f8f8" stroke-width="0.5"/>
<line x1="142.3" y1="357.35" x2="307.8" y2="357.35" stroke="#f8f8f8" stroke-width="0.5"/>
<line x1="142.3" y1="384.0" x2="307.8" y2="384.0" stroke="#f8f8f8" stroke-width="0.5"/>
<line x1="142.3" y1="410.65" x2="307.8" y2="410.65" stroke="#f8f8f8" stroke-width="0.5"/>
<line x1="150.00" y1="311.5" x2="150.00" y2="429.3" stroke="#f1f1f1" stroke-width="0.6"/>
<line x1="180.68" y1="311.5" x2="180.68" y2="429.3" stroke="#f1f1f1" stroke-width="0.6"/>
<line x1="211.36" y1="311.5" x2="211.36" y2="429.3" stroke="#f1f1f1" stroke-width="0.6"/>
<line x1="242.04" y1="311.5" x2="242.04" y2="429.3" stroke="#f1f1f1" stroke-width="0.6"/>
<line x1="272.72" y1="311.5" x2="272.72" y2="429.3" stroke="#f1f1f1" stroke-width="0.6"/>
<line x1="303.40" y1="311.5" x2="303.40" y2="429.3" stroke="#f1f1f1" stroke-width="0.6"/>
<line x1="165.34" y1="311.5" x2="165.34" y2="429.3" stroke="#f8f8f8" stroke-width="0.5"/>
<line x1="196.02" y1="311.5" x2="196.02" y2="429.3" stroke="#f8f8f8" stroke-width="0.5"/>
<line x1="226.70" y1="311.5" x2="226.70" y2="429.3" stroke="#f8f8f8" stroke-width="0.5"/>
<line x1="257.38" y1="311.5" x2="257.38" y2="429.3" stroke="#f8f8f8" stroke-width="0.5"/>
<line x1="288.06" y1="311.5" x2="288.06" y2="429.3" stroke="#f8f8f8" stroke-width="0.5"/>
<rect x="142.3" y="311.5" width="165.50" height="117.80" fill="none" stroke="#cfcfcf" stroke-width="0.9"/>
<text x="140.50" y="318.50" font-size="3.4" fill="#3a3a3a" text-anchor="end" font-weight="normal" textLength="6.0" lengthAdjust="spacingAndGlyphs">1.00</text>
<line x1="140.8" y1="317.3" x2="142.3" y2="317.3" stroke="#888" stroke-width="0.5"/>
<text x="140.50" y="345.20" font-size="3.4" fill="#3a3a3a" text-anchor="end" font-weight="normal" textLength="6.0" lengthAdjust="spacingAndGlyphs">0.75</text>
<line x1="140.8" y1="344.0" x2="142.3" y2="344.0" stroke="#888" stroke-width="0.5"/>
<text x="140.50" y="371.90" font-size="3.4" fill="#3a3a3a" text-anchor="end" font-weight="normal" textLength="6.0" lengthAdjust="spacingAndGlyphs">0.50</text>
<line x1="140.8" y1="370.7" x2="142.3" y2="370.7" stroke="#888" stroke-width="0.5"/>
<text x="140.50" y="398.50" font-size="3.4" fill="#3a3a3a" text-anchor="end" font-weight="normal" textLength="6.0" lengthAdjust="spacingAndGlyphs">0.25</text>
<line x1="140.8" y1="397.3" x2="142.3" y2="397.3" stroke="#888" stroke-width="0.5"/>
<text x="140.50" y="425.20" font-size="3.4" fill="#3a3a3a" text-anchor="end" font-weight="normal" textLength="6.0" lengthAdjust="spacingAndGlyphs">0.00</text>
<line x1="140.8" y1="424.0" x2="142.3" y2="424.0" stroke="#888" stroke-width="0.5"/>
<text x="150.00" y="435.30" font-size="3.4" fill="#3a3a3a" text-anchor="middle" font-weight="normal" textLength="1.9" lengthAdjust="spacingAndGlyphs">0</text>
<line x1="150.00" y1="429.3" x2="150.00" y2="430.8" stroke="#888" stroke-width="0.5"/>
<text x="180.68" y="435.30" font-size="3.4" fill="#3a3a3a" text-anchor="middle" font-weight="normal" textLength="3.8" lengthAdjust="spacingAndGlyphs">25</text>
<line x1="180.68" y1="429.3" x2="180.68" y2="430.8" stroke="#888" stroke-width="0.5"/>
<text x="211.36" y="435.30" font-size="3.4" fill="#3a3a3a" text-anchor="middle" font-weight="normal" textLength="3.8" lengthAdjust="spacingAndGlyphs">50</text>
<line x1="211.36" y1="429.3" x2="211.36" y2="430.8" stroke="#888" stroke-width="0.5"/>
<text x="242.04" y="435.30" font-size="3.4" fill="#3a3a3a" text-anchor="middle" font-weight="normal" textLength="3.8" lengthAdjust="spacingAndGlyphs">75</text>
<line x1="242.04" y1="429.3" x2="242.04" y2="430.8" stroke="#888" stroke-width="0.5"/>
<text x="272.72" y="435.30" font-size="3.4" fill="#3a3a3a" text-anchor="middle" font-weight="normal" textLength="5.7" lengthAdjust="spacingAndGlyphs">100</text>
<line x1="272.72" y1="429.3" x2="272.72" y2="430.8" stroke="#888" stroke-width="0.5"/>
<text x="303.40" y="435.30" font-size="3.4" fill="#3a3a3a" text-anchor="middle" font-weight="normal" textLength="5.7" lengthAdjust="spacingAndGlyphs">125</text>
<line x1="303.40" y1="429.3" x2="303.40" y2="430.8" stroke="#888" stroke-width="0.5"/>
<text x="224.60" y="318.10" font-size="4.4" fill="#000" text-anchor="middle" font-weight="bold" textLength="63.0" lengthAdjust="spacingAndGlyphs" stroke="#000" stroke-width="0.08">Overall Survival for SNHG16 in LIHC Cancer</text>
<text x="262.70" y="323.70" font-size="4.7" fill="#000" text-anchor="middle" font-weight="bold" textLength="29.0" lengthAdjust="spacingAndGlyphs" stroke="#000" stroke-width="0.08">Log-Rank p=0.0076</text>
<text x="262.70" y="328.97" font-size="4.7" fill="#000" text-anchor="middle" font-weight="bold" textLength="22.0" lengthAdjust="spacingAndGlyphs" stroke="#000" stroke-width="0.08">Low Num=185</text>
<text x="262.70" y="334.24" font-size="4.7" fill="#000" text-anchor="middle" font-weight="bold" textLength="22.5" lengthAdjust="spacingAndGlyphs" stroke="#000" stroke-width="0.08">High Num=184</text>
<text x="262.70" y="339.51" font-size="4.7" fill="#000" text-anchor="middle" font-weight="bold" textLength="27.5" lengthAdjust="spacingAndGlyphs" stroke="#000" stroke-width="0.08">Hazard Ratio=1.62</text>
<path d="M150.10 316.60L152.00 316.60L152.00 318.50L153.95 318.50L153.95 319.70L155.90 319.70L155.90 320.90L157.45 320.90L157.45 321.75L159.00 321.75L159.00 322.60L161.10 322.60L161.10 324.50L163.20 324.50L163.20 326.40L164.60 326.40L164.60 327.45L166.00 327.45L166.00 328.50L167.50 328.50L167.50 329.90L169.00 329.90L169.00 331.30L170.50 331.30L170.50 332.70L173.00 332.70L173.00 334.50L175.00 334.50L175.00 337.30L176.80 337.30L176.80 339.55L178.60 339.55L178.60 341.80L181.00 341.80L181.00 343.50L183.20 343.50L183.20 345.50L193.20 345.50L194.60 345.50L194.60 346.35L196.00 346.35L196.00 347.20L197.75 347.20L197.75 348.15L199.50 348.15L199.50 349.10L201.25 349.10L201.25 350.05L203.00 350.05L203.00 351.00L204.90 351.00L204.90 352.30L206.80 352.30L206.80 353.60L208.40 353.60L208.40 355.05L210.00 355.05L210.00 356.50L211.60 356.50L211.60 357.80L213.20 357.80L213.20 359.10L215.00 359.10L215.00 360.45L216.80 360.45L216.80 361.80L217.70 361.80L217.70 367.30L220.00 367.30L220.00 369.20L236.40 369.20L237.40 369.20L237.40 372.30L277.30 372.30L277.90 372.30L277.90 383.00L282.40 383.00L283.40 383.00L283.40 393.20L300.80 393.20" fill="none" stroke="#c86a1f" stroke-width="1.05" stroke-linejoin="miter"/>
<path d="M153.35 317.40v2.2M156.85 319.80v2.2M158.40 320.65v2.2M160.50 321.50v2.2M162.60 323.40v2.2M165.40 326.35v2.2M166.90 327.40v2.2M172.40 331.60v2.2M176.20 336.20v2.2M180.40 340.70v2.2M182.60 342.40v2.2M194.00 344.40v2.2M197.15 346.10v2.2M202.40 348.95v2.2M204.30 349.90v2.2M207.80 352.50v2.2M209.40 353.95v2.2M211.00 355.40v2.2M219.40 366.20v2.2M282.80 381.90v2.2" stroke="#c86a1f" stroke-width="0.7"/>
<path d="M186.0 344.4v2.2" stroke="#c86a1f" stroke-width="0.8"/>
<path d="M190.0 344.4v2.2" stroke="#c86a1f" stroke-width="0.8"/>
<path d="M224.0 368.1v2.2" stroke="#c86a1f" stroke-width="0.8"/>
<path d="M229.0 368.1v2.2" stroke="#c86a1f" stroke-width="0.8"/>
<path d="M233.0 368.1v2.2" stroke="#c86a1f" stroke-width="0.8"/>
<path d="M245.0 371.2v2.2" stroke="#c86a1f" stroke-width="0.8"/>
<path d="M250.0 371.2v2.2" stroke="#c86a1f" stroke-width="0.8"/>
<path d="M253.0 371.2v2.2" stroke="#c86a1f" stroke-width="0.8"/>
<path d="M256.0 371.2v2.2" stroke="#c86a1f" stroke-width="0.8"/>
<path d="M262.0 371.2v2.2" stroke="#c86a1f" stroke-width="0.8"/>
<path d="M269.0 371.2v2.2" stroke="#c86a1f" stroke-width="0.8"/>
<path d="M292.0 392.1v2.2" stroke="#c86a1f" stroke-width="0.8"/>
<path d="M300.8 392.1v2.2" stroke="#c86a1f" stroke-width="0.8"/>
<path d="M200.0 348.4v2.2" stroke="#c86a1f" stroke-width="0.8"/>
<path d="M214.0 358.4v2.2" stroke="#c86a1f" stroke-width="0.8"/>
<path d="M150.10 316.60L151.50 316.60L151.50 320.00L153.20 320.00L153.20 324.50L155.00 324.50L155.00 327.50L157.70 327.50L157.70 330.90L159.55 330.90L159.55 333.20L161.40 333.20L161.40 335.50L164.00 335.50L164.00 340.00L165.40 340.00L165.40 342.25L166.80 342.25L166.80 344.50L168.63 344.50L168.63 345.13L170.47 345.13L170.47 345.77L172.30 345.77L172.30 346.40L175.00 346.40L175.00 349.00L177.70 349.00L177.70 351.80L179.35 351.80L179.35 353.65L181.00 353.65L181.00 355.50L182.55 355.50L182.55 357.30L184.10 357.30L184.10 359.10L185.55 359.10L185.55 360.05L187.00 360.05L187.00 361.00L188.75 361.00L188.75 362.30L190.50 362.30L190.50 363.60L192.00 363.60L192.00 364.07L193.50 364.07L193.50 364.53L195.00 364.53L195.00 365.00L196.50 365.00L196.50 365.77L198.00 365.77L198.00 366.53L199.50 366.53L199.50 367.30L201.25 367.30L201.25 367.90L203.00 367.90L203.00 368.50L204.57 368.50L204.57 369.00L206.13 369.00L206.13 369.50L207.70 369.50L207.70 370.00L217.70 370.00L220.00 370.00L220.00 370.70L222.00 370.70L222.00 373.00L223.55 373.00L223.55 374.10L225.10 374.10L225.10 375.20L236.40 375.20L237.40 375.20L237.40 378.20L249.70 378.20L250.70 378.20L250.70 387.00L252.30 387.00L252.30 397.30L253.70 397.30L253.70 405.40L254.40 405.40L254.40 414.60L290.60 414.60" fill="none" stroke="#1f9479" stroke-width="1.05" stroke-linejoin="miter"/>
<path d="M152.60 318.90v2.2M164.80 338.90v2.2M166.20 341.15v2.2M168.03 343.40v2.2M169.87 344.03v2.2M171.70 344.67v2.2M174.40 345.30v2.2M177.10 347.90v2.2M178.75 350.70v2.2M180.40 352.55v2.2M183.50 356.20v2.2M188.15 359.90v2.2M189.90 361.20v2.2M191.40 362.50v2.2M192.90 362.97v2.2M194.40 363.43v2.2M195.90 363.90v2.2M197.40 364.67v2.2M198.90 365.43v2.2M200.65 366.20v2.2M203.97 367.40v2.2M205.53 367.90v2.2M207.10 368.40v2.2M219.40 368.90v2.2M221.40 369.60v2.2M222.95 371.90v2.2M224.50 373.00v2.2M236.80 374.10v2.2M251.70 385.90v2.2M253.80 404.30v2.2" stroke="#1f9479" stroke-width="0.7"/>
<path d="M212.0 368.9v2.2" stroke="#1f9479" stroke-width="0.8"/>
<path d="M215.0 368.9v2.2" stroke="#1f9479" stroke-width="0.8"/>
<path d="M226.0 374.1v2.2" stroke="#1f9479" stroke-width="0.8"/>
<path d="M230.0 374.1v2.2" stroke="#1f9479" stroke-width="0.8"/>
<path d="M242.0 377.1v2.2" stroke="#1f9479" stroke-width="0.8"/>
<path d="M246.0 377.1v2.2" stroke="#1f9479" stroke-width="0.8"/>
<path d="M290.6 413.5v2.2" stroke="#1f9479" stroke-width="0.8"/>
<path d="M202.0 367.4v2.2" stroke="#1f9479" stroke-width="0.8"/>
<path d="M190.0 362.4v2.2" stroke="#1f9479" stroke-width="0.8"/>
<line x1="312.3" y1="316.4" x2="318.3" y2="316.4" stroke="#c86a1f" stroke-width="0.7" opacity="0.8"/>
<text x="319.50" y="317.70" font-size="3.6" fill="#222" text-anchor="start" font-weight="bold" textLength="4.5" lengthAdjust="spacingAndGlyphs">low</text>
<line x1="312.3" y1="324.59999999999997" x2="318.3" y2="324.59999999999997" stroke="#1f9479" stroke-width="0.7" opacity="0.8"/>
<text x="319.50" y="325.90" font-size="3.6" fill="#222" text-anchor="start" font-weight="bold" textLength="6.0" lengthAdjust="spacingAndGlyphs">high</text>
<path d="M314.1 332.8h2.4M315.3 331.6v2.4" stroke="#c86a1f" stroke-width="0.6"/>
<text x="319.50" y="334.10" font-size="3.6" fill="#222" text-anchor="start" font-weight="bold" textLength="10.5" lengthAdjust="spacingAndGlyphs">(low,1)</text>
<path d="M314.1 341.0h2.4M315.3 339.8v2.4" stroke="#1f9479" stroke-width="0.6"/>
<text x="319.50" y="342.30" font-size="3.6" fill="#222" text-anchor="start" font-weight="bold" textLength="12.0" lengthAdjust="spacingAndGlyphs">(high,1)</text>
<rect x="340.0" y="311.5" width="165.90" height="118.50" fill="#fff"/>
<line x1="340.0" y1="317.3" x2="505.9" y2="317.3" stroke="#f1f1f1" stroke-width="0.6"/>
<line x1="340.0" y1="344.0" x2="505.9" y2="344.0" stroke="#f1f1f1" stroke-width="0.6"/>
<line x1="340.0" y1="370.7" x2="505.9" y2="370.7" stroke="#f1f1f1" stroke-width="0.6"/>
<line x1="340.0" y1="397.3" x2="505.9" y2="397.3" stroke="#f1f1f1" stroke-width="0.6"/>
<line x1="340.0" y1="424.0" x2="505.9" y2="424.0" stroke="#f1f1f1" stroke-width="0.6"/>
<line x1="340.0" y1="330.65" x2="505.9" y2="330.65" stroke="#f8f8f8" stroke-width="0.5"/>
<line x1="340.0" y1="357.35" x2="505.9" y2="357.35" stroke="#f8f8f8" stroke-width="0.5"/>
<line x1="340.0" y1="384.0" x2="505.9" y2="384.0" stroke="#f8f8f8" stroke-width="0.5"/>
<line x1="340.0" y1="410.65" x2="505.9" y2="410.65" stroke="#f8f8f8" stroke-width="0.5"/>
<line x1="347.50" y1="311.5" x2="347.50" y2="430.0" stroke="#f1f1f1" stroke-width="0.6"/>
<line x1="378.18" y1="311.5" x2="378.18" y2="430.0" stroke="#f1f1f1" stroke-width="0.6"/>
<line x1="408.86" y1="311.5" x2="408.86" y2="430.0" stroke="#f1f1f1" stroke-width="0.6"/>
<line x1="439.54" y1="311.5" x2="439.54" y2="430.0" stroke="#f1f1f1" stroke-width="0.6"/>
<line x1="470.22" y1="311.5" x2="470.22" y2="430.0" stroke="#f1f1f1" stroke-width="0.6"/>
<line x1="500.90" y1="311.5" x2="500.90" y2="430.0" stroke="#f1f1f1" stroke-width="0.6"/>
<line x1="362.84" y1="311.5" x2="362.84" y2="430.0" stroke="#f8f8f8" stroke-width="0.5"/>
<line x1="393.52" y1="311.5" x2="393.52" y2="430.0" stroke="#f8f8f8" stroke-width="0.5"/>
<line x1="424.20" y1="311.5" x2="424.20" y2="430.0" stroke="#f8f8f8" stroke-width="0.5"/>
<line x1="454.88" y1="311.5" x2="454.88" y2="430.0" stroke="#f8f8f8" stroke-width="0.5"/>
<line x1="485.56" y1="311.5" x2="485.56" y2="430.0" stroke="#f8f8f8" stroke-width="0.5"/>
<rect x="340.0" y="311.5" width="165.90" height="118.50" fill="none" stroke="#cfcfcf" stroke-width="0.9"/>
<text x="338.20" y="318.50" font-size="3.4" fill="#3a3a3a" text-anchor="end" font-weight="normal" textLength="6.0" lengthAdjust="spacingAndGlyphs">1.00</text>
<line x1="338.5" y1="317.3" x2="340.0" y2="317.3" stroke="#888" stroke-width="0.5"/>
<text x="338.20" y="345.20" font-size="3.4" fill="#3a3a3a" text-anchor="end" font-weight="normal" textLength="6.0" lengthAdjust="spacingAndGlyphs">0.75</text>
<line x1="338.5" y1="344.0" x2="340.0" y2="344.0" stroke="#888" stroke-width="0.5"/>
<text x="338.20" y="371.90" font-size="3.4" fill="#3a3a3a" text-anchor="end" font-weight="normal" textLength="6.0" lengthAdjust="spacingAndGlyphs">0.50</text>
<line x1="338.5" y1="370.7" x2="340.0" y2="370.7" stroke="#888" stroke-width="0.5"/>
<text x="338.20" y="398.50" font-size="3.4" fill="#3a3a3a" text-anchor="end" font-weight="normal" textLength="6.0" lengthAdjust="spacingAndGlyphs">0.25</text>
<line x1="338.5" y1="397.3" x2="340.0" y2="397.3" stroke="#888" stroke-width="0.5"/>
<text x="338.20" y="425.20" font-size="3.4" fill="#3a3a3a" text-anchor="end" font-weight="normal" textLength="6.0" lengthAdjust="spacingAndGlyphs">0.00</text>
<line x1="338.5" y1="424.0" x2="340.0" y2="424.0" stroke="#888" stroke-width="0.5"/>
<text x="347.50" y="435.30" font-size="3.4" fill="#3a3a3a" text-anchor="middle" font-weight="normal" textLength="1.9" lengthAdjust="spacingAndGlyphs">0</text>
<line x1="347.50" y1="430.0" x2="347.50" y2="431.5" stroke="#888" stroke-width="0.5"/>
<text x="378.18" y="435.30" font-size="3.4" fill="#3a3a3a" text-anchor="middle" font-weight="normal" textLength="3.8" lengthAdjust="spacingAndGlyphs">25</text>
<line x1="378.18" y1="430.0" x2="378.18" y2="431.5" stroke="#888" stroke-width="0.5"/>
<text x="408.86" y="435.30" font-size="3.4" fill="#3a3a3a" text-anchor="middle" font-weight="normal" textLength="3.8" lengthAdjust="spacingAndGlyphs">50</text>
<line x1="408.86" y1="430.0" x2="408.86" y2="431.5" stroke="#888" stroke-width="0.5"/>
<text x="439.54" y="435.30" font-size="3.4" fill="#3a3a3a" text-anchor="middle" font-weight="normal" textLength="3.8" lengthAdjust="spacingAndGlyphs">75</text>
<line x1="439.54" y1="430.0" x2="439.54" y2="431.5" stroke="#888" stroke-width="0.5"/>
<text x="470.22" y="435.30" font-size="3.4" fill="#3a3a3a" text-anchor="middle" font-weight="normal" textLength="5.7" lengthAdjust="spacingAndGlyphs">100</text>
<line x1="470.22" y1="430.0" x2="470.22" y2="431.5" stroke="#888" stroke-width="0.5"/>
<text x="500.90" y="435.30" font-size="3.4" fill="#3a3a3a" text-anchor="middle" font-weight="normal" textLength="5.7" lengthAdjust="spacingAndGlyphs">125</text>
<line x1="500.90" y1="430.0" x2="500.90" y2="431.5" stroke="#888" stroke-width="0.5"/>
<text x="422.70" y="318.10" font-size="4.4" fill="#000" text-anchor="middle" font-weight="bold" textLength="66.5" lengthAdjust="spacingAndGlyphs" stroke="#000" stroke-width="0.08">Overall Survival for MIR137HG in LIHC Cancer</text>
<text x="460.60" y="323.70" font-size="4.7" fill="#000" text-anchor="middle" font-weight="bold" textLength="27.3" lengthAdjust="spacingAndGlyphs" stroke="#000" stroke-width="0.08">Log-Rank p=0.022</text>
<text x="460.60" y="328.97" font-size="4.7" fill="#000" text-anchor="middle" font-weight="bold" textLength="21.3" lengthAdjust="spacingAndGlyphs" stroke="#000" stroke-width="0.08">Low Num=282</text>
<text x="460.60" y="334.24" font-size="4.7" fill="#000" text-anchor="middle" font-weight="bold" textLength="20.1" lengthAdjust="spacingAndGlyphs" stroke="#000" stroke-width="0.08">High Num=87</text>
<text x="460.60" y="339.51" font-size="4.7" fill="#000" text-anchor="middle" font-weight="bold" textLength="27.5" lengthAdjust="spacingAndGlyphs" stroke="#000" stroke-width="0.08">Hazard Ratio=1.37</text>
<path d="M347.50 316.90L349.00 316.90L349.00 320.00L351.20 320.00L351.20 324.50L353.00 324.50L353.00 329.00L355.70 329.00L355.70 333.60L357.55 333.60L357.55 336.35L359.40 336.35L359.40 339.10L360.30 339.10L360.30 346.40L363.00 346.40L363.00 350.90L364.50 350.90L364.50 351.45L366.00 351.45L366.00 352.00L367.43 352.00L367.43 352.53L368.87 352.53L368.87 353.07L370.30 353.07L370.30 353.60L372.10 353.60L372.10 355.90L373.90 355.90L373.90 358.20L376.00 358.20L376.00 361.00L377.70 361.00L377.70 362.75L379.40 362.75L379.40 364.50L380.92 364.50L380.92 364.67L382.43 364.67L382.43 364.83L383.95 364.83L383.95 365.00L385.47 365.00L385.47 365.17L386.98 365.17L386.98 365.33L388.50 365.33L388.50 365.50L390.30 365.50L390.30 367.00L392.10 367.00L392.10 368.50L393.90 368.50L393.90 370.00L395.31 370.00L395.31 370.30L396.72 370.30L396.72 370.60L398.13 370.60L398.13 370.90L399.54 370.90L399.54 371.20L400.96 371.20L400.96 371.50L402.37 371.50L402.37 371.80L403.78 371.80L403.78 372.10L405.19 372.10L405.19 372.40L406.60 372.40L406.60 372.70L408.50 372.70L408.50 376.40L415.70 376.40L416.60 376.40L416.60 383.40L483.40 383.40" fill="none" stroke="#1f9479" stroke-width="1.05" stroke-linejoin="miter"/>
<path d="M348.40 315.80v2.2M350.60 318.90v2.2M352.40 323.40v2.2M355.10 327.90v2.2M356.95 332.50v2.2M359.70 338.00v2.2M362.40 345.30v2.2M363.90 349.80v2.2M368.27 351.43v2.2M369.70 351.97v2.2M375.40 357.10v2.2M380.32 363.40v2.2M381.83 363.57v2.2M384.87 363.90v2.2M386.38 364.07v2.2M387.90 364.23v2.2M391.50 365.90v2.2M393.30 367.40v2.2M394.71 368.90v2.2M397.53 369.50v2.2M400.36 370.10v2.2M401.77 370.40v2.2M403.18 370.70v2.2M406.00 371.30v2.2M416.00 375.30v2.2" stroke="#1f9479" stroke-width="0.7"/>
<path d="M365.0 350.9v2.2" stroke="#1f9479" stroke-width="0.8"/>
<path d="M395.0 369.1v2.2" stroke="#1f9479" stroke-width="0.8"/>
<path d="M400.0 370.4v2.2" stroke="#1f9479" stroke-width="0.8"/>
<path d="M411.0 375.3v2.2" stroke="#1f9479" stroke-width="0.8"/>
<path d="M424.0 382.3v2.2" stroke="#1f9479" stroke-width="0.8"/>
<path d="M427.0 382.3v2.2" stroke="#1f9479" stroke-width="0.8"/>
<path d="M430.0 382.3v2.2" stroke="#1f9479" stroke-width="0.8"/>
<path d="M450.0 382.3v2.2" stroke="#1f9479" stroke-width="0.8"/>
<path d="M460.0 382.3v2.2" stroke="#1f9479" stroke-width="0.8"/>
<path d="M483.4 382.3v2.2" stroke="#1f9479" stroke-width="0.8"/>
<path d="M347.50 316.90L349.00 316.90L349.00 319.50L351.20 319.50L351.20 322.70L353.90 322.70L353.90 324.50L355.45 324.50L355.45 325.25L357.00 325.25L357.00 326.00L359.10 326.00L359.10 327.10L361.20 327.10L361.20 328.20L363.10 328.20L363.10 329.60L365.00 329.60L365.00 331.00L366.75 331.00L366.75 332.75L368.50 332.75L368.50 334.50L370.25 334.50L370.25 336.50L372.00 336.50L372.00 338.50L373.85 338.50L373.85 340.60L375.70 340.60L375.70 342.70L377.35 342.70L377.35 344.60L379.00 344.60L379.00 346.50L381.00 346.50L381.00 348.70L383.00 348.70L383.00 350.90L384.50 350.90L384.50 351.20L386.00 351.20L386.00 351.50L387.43 351.50L387.43 351.90L388.87 351.90L388.87 352.30L390.30 352.30L390.30 352.70L392.15 352.70L392.15 353.60L394.00 353.60L394.00 354.50L395.75 354.50L395.75 355.45L397.50 355.45L397.50 356.40L399.25 356.40L399.25 357.20L401.00 357.20L401.00 358.00L402.90 358.00L402.90 359.00L404.80 359.00L404.80 360.00L406.40 360.00L406.40 360.75L408.00 360.75L408.00 361.50L410.05 361.50L410.05 362.10L412.10 362.10L412.10 362.70L414.05 362.70L414.05 363.60L416.00 363.60L416.00 364.50L417.70 364.50L417.70 365.45L419.40 365.45L419.40 366.40L422.10 366.40L422.10 368.60L424.10 368.60L424.10 369.70L434.40 369.70L435.40 369.70L435.40 373.10L447.70 373.10L448.70 373.10L448.70 377.80L450.70 377.80L450.70 382.90L451.70 382.90L451.70 392.10L475.30 392.10L475.90 392.10L475.90 398.90L481.40 398.90L481.80 398.90L481.80 405.00L498.80 405.00" fill="none" stroke="#c86a1f" stroke-width="1.05" stroke-linejoin="miter"/>
<path d="M348.40 315.80v2.2M350.60 318.40v2.2M353.30 321.60v2.2M354.85 323.40v2.2M356.40 324.15v2.2M358.50 324.90v2.2M360.60 326.00v2.2M364.40 328.50v2.2M366.15 329.90v2.2M371.40 335.40v2.2M373.25 337.40v2.2M375.10 339.50v2.2M376.75 341.60v2.2M380.40 345.40v2.2M382.40 347.60v2.2M383.90 349.80v2.2M386.83 350.40v2.2M391.55 351.60v2.2M393.40 352.50v2.2M395.15 353.40v2.2M396.90 354.35v2.2M398.65 355.30v2.2M400.40 356.10v2.2M404.20 357.90v2.2M405.80 358.90v2.2M407.40 359.65v2.2M411.50 361.00v2.2M413.45 361.60v2.2M415.40 362.50v2.2M421.50 365.30v2.2M423.50 367.50v2.2M434.80 368.60v2.2M450.10 376.70v2.2M451.10 381.80v2.2M481.20 397.80v2.2" stroke="#c86a1f" stroke-width="0.7"/>
<path d="M428.0 368.6v2.2" stroke="#c86a1f" stroke-width="0.8"/>
<path d="M431.0 368.6v2.2" stroke="#c86a1f" stroke-width="0.8"/>
<path d="M438.0 372.0v2.2" stroke="#c86a1f" stroke-width="0.8"/>
<path d="M441.0 372.0v2.2" stroke="#c86a1f" stroke-width="0.8"/>
<path d="M445.0 372.0v2.2" stroke="#c86a1f" stroke-width="0.8"/>
<path d="M460.0 391.0v2.2" stroke="#c86a1f" stroke-width="0.8"/>
<path d="M488.0 403.9v2.2" stroke="#c86a1f" stroke-width="0.8"/>
<path d="M491.0 403.9v2.2" stroke="#c86a1f" stroke-width="0.8"/>
<path d="M498.8 403.9v2.2" stroke="#c86a1f" stroke-width="0.8"/>
<path d="M385.0 350.4v2.2" stroke="#c86a1f" stroke-width="0.8"/>
<path d="M400.0 356.9v2.2" stroke="#c86a1f" stroke-width="0.8"/>
<line x1="510.4" y1="316.4" x2="516.4" y2="316.4" stroke="#1f9479" stroke-width="0.7" opacity="0.8"/>
<text x="517.60" y="317.70" font-size="3.6" fill="#222" text-anchor="start" font-weight="bold" textLength="6.0" lengthAdjust="spacingAndGlyphs">high</text>
<line x1="510.4" y1="324.59999999999997" x2="516.4" y2="324.59999999999997" stroke="#c86a1f" stroke-width="0.7" opacity="0.8"/>
<text x="517.60" y="325.90" font-size="3.6" fill="#222" text-anchor="start" font-weight="bold" textLength="4.5" lengthAdjust="spacingAndGlyphs">low</text>
<path d="M512.2 332.8h2.4M513.4 331.6v2.4" stroke="#1f9479" stroke-width="0.6"/>
<text x="517.60" y="334.10" font-size="3.6" fill="#222" text-anchor="start" font-weight="bold" textLength="12.0" lengthAdjust="spacingAndGlyphs">(high,1)</text>
<path d="M512.2 341.0h2.4M513.4 339.8v2.4" stroke="#c86a1f" stroke-width="0.6"/>
<text x="517.60" y="342.30" font-size="3.6" fill="#222" text-anchor="start" font-weight="bold" textLength="10.5" lengthAdjust="spacingAndGlyphs">(low,1)</text>
</g></svg></body></html>
